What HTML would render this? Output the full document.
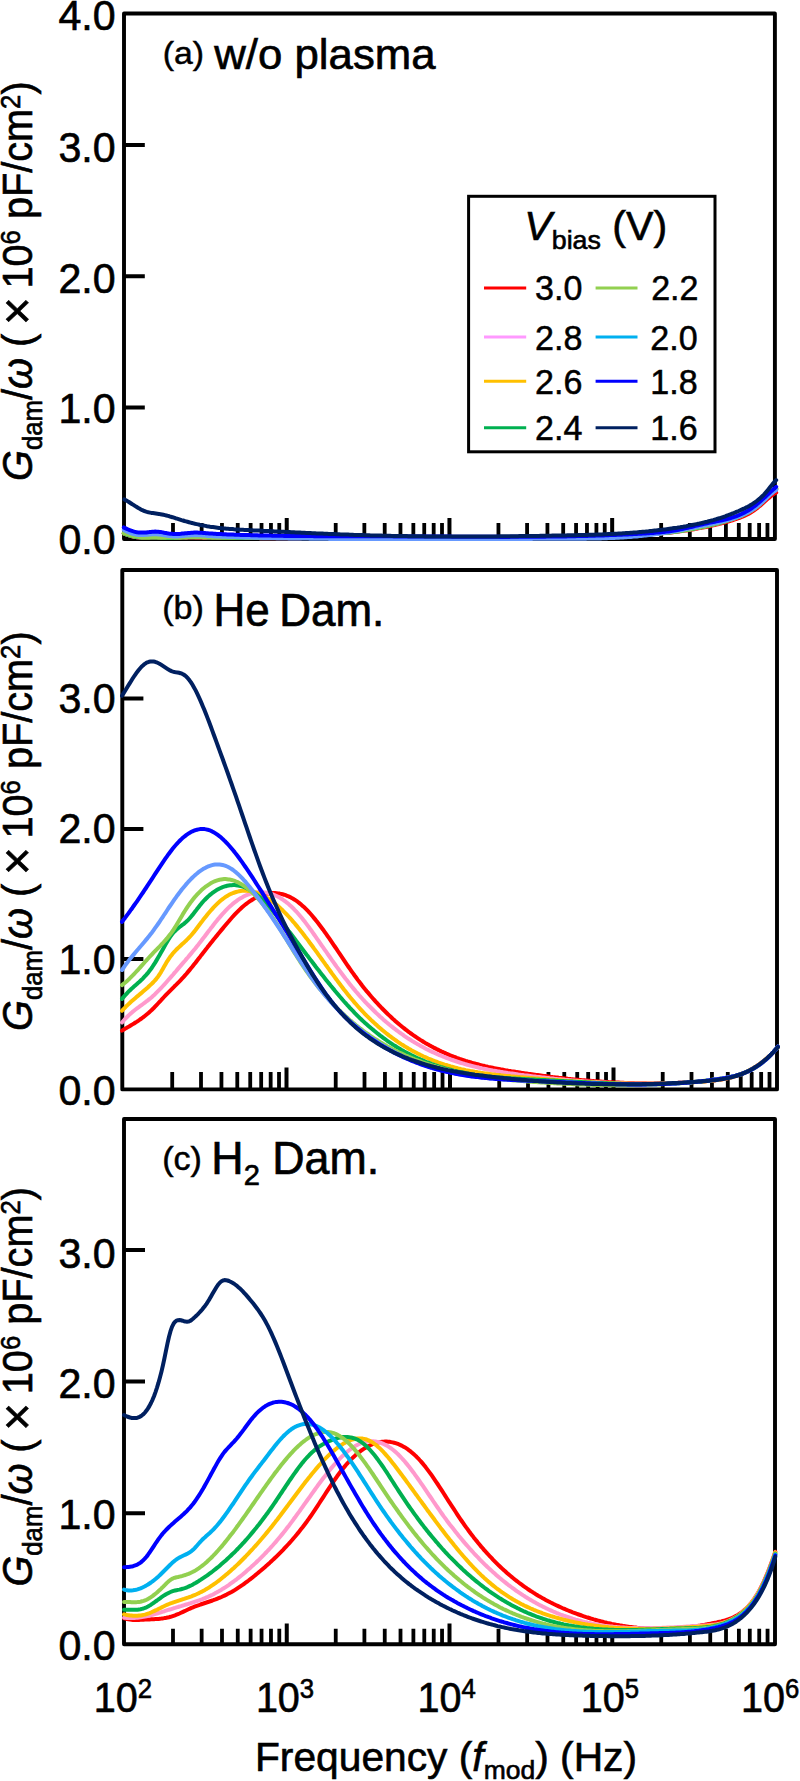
<!DOCTYPE html><html><head><meta charset="utf-8"><style>html,body{margin:0;padding:0;background:#fff;}svg{display:block;}</style></head><body>
<svg width="800" height="1781" viewBox="0 0 800 1781" font-family='"Liberation Sans", Arial, Helvetica, sans-serif'>
<rect width="100%" height="100%" fill="#fff"/>
<path d="M172.99,539.00 V523.00 M201.64,539.00 V523.00 M221.97,539.00 V523.00 M237.74,539.00 V523.00 M250.62,539.00 V523.00 M261.52,539.00 V523.00 M270.96,539.00 V523.00 M279.28,539.00 V523.00 M335.71,539.00 V523.00 M364.36,539.00 V523.00 M384.70,539.00 V523.00 M400.46,539.00 V523.00 M413.35,539.00 V523.00 M424.24,539.00 V523.00 M433.68,539.00 V523.00 M442.00,539.00 V523.00 M498.44,539.00 V523.00 M527.09,539.00 V523.00 M547.42,539.00 V523.00 M563.19,539.00 V523.00 M576.07,539.00 V523.00 M586.97,539.00 V523.00 M596.41,539.00 V523.00 M604.73,539.00 V523.00 M661.16,539.00 V523.00 M689.81,539.00 V523.00 M710.15,539.00 V523.00 M725.91,539.00 V523.00 M738.80,539.00 V523.00 M749.69,539.00 V523.00 M759.13,539.00 V523.00 M767.45,539.00 V523.00" stroke="#000" stroke-width="3.8" fill="none"/>
<path d="M286.73,539.00 V518.00 M449.45,539.00 V518.00 M612.17,539.00 V518.00 M124.00,407.60 H144.80 M124.00,276.20 H144.80 M124.00,144.90 H144.80" stroke="#000" stroke-width="4.0" fill="none"/>
<rect x="124.00" y="13.50" width="650.90" height="525.50" fill="none" stroke="#000" stroke-linejoin="round" stroke-width="3.9"/>
<g fill="none" stroke-width="4.0" stroke-linejoin="round" stroke-linecap="round">
<path d="M123.8,533.6 L125.2,534.2 L126.8,534.7 L128.2,535.2 L129.8,535.7 L131.2,536.1 L132.8,536.5 L134.2,536.8 L135.8,537.1 L137.2,537.3 L138.8,537.5 L140.2,537.6 L141.8,537.7 L143.2,537.7 L144.8,537.8 L146.2,537.8 L147.8,537.7 L149.2,537.7 L150.8,537.6 L152.2,537.6 L153.8,537.6 L155.2,537.6 L156.8,537.6 L158.2,537.6 L159.8,537.7 L161.2,537.8 L162.8,537.8 L164.2,537.9 L165.8,538.0 L167.2,538.0 L168.8,538.1 L170.2,538.1 L171.8,538.1 L173.2,538.0 L174.8,538.0 L176.2,537.9 L177.8,537.8 L179.2,537.8 L180.8,537.7 L182.2,537.7 L183.8,537.6 L185.2,537.6 L186.8,537.6 L188.2,537.6 L189.8,537.6 L191.2,537.6 L192.8,537.6 L194.2,537.6 L195.8,537.7 L197.2,537.7 L198.8,537.7 L200.2,537.7 L201.8,537.7 L203.2,537.7 L204.8,537.7 L206.2,537.7 L207.8,537.7 L209.2,537.7 L210.8,537.7 L212.2,537.7 L213.8,537.7 L215.2,537.7 L216.8,537.7 L218.2,537.7 L219.8,537.7 L221.2,537.7 L222.8,537.7 L224.2,537.7 L225.8,537.7 L227.2,537.7 L228.8,537.7 L230.2,537.7 L231.8,537.7 L233.2,537.7 L234.8,537.7 L236.2,537.7 L237.8,537.7 L239.2,537.7 L240.8,537.7 L242.2,537.7 L243.8,537.7 L245.2,537.7 L246.8,537.8 L248.2,537.8 L249.8,537.8 L251.2,537.8 L252.8,537.8 L254.2,537.8 L255.8,537.8 L257.2,537.8 L258.8,537.8 L260.2,537.8 L261.8,537.8 L263.2,537.8 L264.8,537.8 L266.2,537.8 L267.8,537.8 L269.2,537.8 L270.8,537.8 L272.2,537.8 L273.8,537.8 L275.2,537.9 L276.8,537.9 L278.2,537.9 L279.8,537.9 L281.2,537.9 L282.8,537.9 L284.2,537.9 L285.8,537.9 L287.2,537.9 L288.8,537.9 L290.2,537.9 L291.8,537.9 L293.2,537.9 L294.8,537.9 L296.2,537.9 L297.8,538.0 L299.2,538.0 L300.8,538.0 L302.2,538.0 L303.8,538.0 L305.2,538.0 L306.8,538.0 L308.2,538.0 L309.8,538.0 L311.2,538.0 L312.8,538.0 L314.2,538.0 L315.8,538.0 L317.2,538.0 L318.8,538.1 L320.2,538.1 L321.8,538.1 L323.2,538.1 L324.8,538.1 L326.2,538.1 L327.8,538.1 L329.2,538.1 L330.8,538.1 L332.2,538.1 L333.8,538.1 L335.2,538.1 L336.8,538.1 L338.2,538.1 L339.8,538.2 L341.2,538.2 L342.8,538.2 L344.2,538.2 L345.8,538.2 L347.2,538.2 L348.8,538.2 L350.2,538.2 L351.8,538.2 L353.2,538.2 L354.8,538.2 L356.2,538.2 L357.8,538.2 L359.2,538.2 L360.8,538.2 L362.2,538.3 L363.8,538.3 L365.2,538.3 L366.8,538.3 L368.2,538.3 L369.8,538.3 L371.2,538.3 L372.8,538.3 L374.2,538.3 L375.8,538.3 L377.2,538.3 L378.8,538.3 L380.2,538.3 L381.8,538.3 L383.2,538.3 L384.8,538.3 L386.2,538.3 L387.8,538.3 L389.2,538.3 L390.8,538.4 L392.2,538.4 L393.8,538.4 L395.2,538.4 L396.8,538.4 L398.2,538.4 L399.8,538.4 L401.2,538.4 L402.8,538.4 L404.2,538.4 L405.8,538.4 L407.2,538.4 L408.8,538.4 L410.2,538.4 L411.8,538.4 L413.2,538.4 L414.8,538.4 L416.2,538.4 L417.8,538.4 L419.2,538.4 L420.8,538.4 L422.2,538.4 L423.8,538.4 L425.2,538.4 L426.8,538.4 L428.2,538.4 L429.8,538.4 L431.2,538.4 L432.8,538.4 L434.2,538.4 L435.8,538.4 L437.2,538.4 L438.8,538.4 L440.2,538.4 L441.8,538.4 L443.2,538.4 L444.8,538.4 L446.2,538.4 L447.8,538.4 L449.2,538.4 L450.8,538.4 L452.2,538.4 L453.8,538.4 L455.2,538.4 L456.8,538.4 L458.2,538.4 L459.8,538.4 L461.2,538.4 L462.8,538.4 L464.2,538.3 L465.8,538.3 L467.2,538.3 L468.8,538.3 L470.2,538.3 L471.8,538.3 L473.2,538.3 L474.8,538.3 L476.2,538.3 L477.8,538.3 L479.2,538.3 L480.8,538.3 L482.2,538.3 L483.8,538.3 L485.2,538.2 L486.8,538.2 L488.2,538.2 L489.8,538.2 L491.2,538.2 L492.8,538.2 L494.2,538.2 L495.8,538.2 L497.2,538.2 L498.8,538.2 L500.2,538.1 L501.8,538.1 L503.2,538.1 L504.8,538.1 L506.2,538.1 L507.8,538.1 L509.2,538.1 L510.8,538.0 L512.2,538.0 L513.8,538.0 L515.2,538.0 L516.8,538.0 L518.2,538.0 L519.8,538.0 L521.2,537.9 L522.8,537.9 L524.2,537.9 L525.8,537.9 L527.2,537.9 L528.8,537.8 L530.2,537.8 L531.8,537.8 L533.2,537.8 L534.8,537.8 L536.2,537.7 L537.8,537.7 L539.2,537.7 L540.8,537.7 L542.2,537.7 L543.8,537.6 L545.2,537.6 L546.8,537.6 L548.2,537.6 L549.8,537.5 L551.2,537.5 L552.8,537.5 L554.2,537.5 L555.8,537.4 L557.2,537.4 L558.8,537.4 L560.2,537.4 L561.8,537.3 L563.2,537.3 L564.8,537.3 L566.2,537.2 L567.8,537.2 L569.2,537.2 L570.8,537.2 L572.2,537.1 L573.8,537.1 L575.2,537.1 L576.8,537.0 L578.2,537.0 L579.8,537.0 L581.2,536.9 L582.8,536.9 L584.2,536.9 L585.8,536.8 L587.2,536.8 L588.8,536.8 L590.2,536.7 L591.8,536.7 L593.2,536.6 L594.8,536.6 L596.2,536.6 L597.8,536.5 L599.2,536.5 L600.8,536.5 L602.2,536.4 L603.8,536.4 L605.2,536.3 L606.8,536.3 L608.2,536.2 L609.8,536.2 L611.2,536.2 L612.8,536.1 L614.2,536.1 L615.8,536.0 L617.2,536.0 L618.8,535.9 L620.2,535.9 L621.8,535.8 L623.2,535.7 L624.8,535.7 L626.2,535.6 L627.8,535.6 L629.2,535.5 L630.8,535.4 L632.2,535.4 L633.8,535.3 L635.2,535.2 L636.8,535.1 L638.2,535.0 L639.8,535.0 L641.2,534.9 L642.8,534.8 L644.2,534.7 L645.8,534.6 L647.2,534.5 L648.8,534.4 L650.2,534.3 L651.8,534.2 L653.2,534.1 L654.8,533.9 L656.2,533.8 L657.8,533.7 L659.2,533.6 L660.8,533.4 L662.2,533.3 L663.8,533.1 L665.2,533.0 L666.8,532.8 L668.2,532.7 L669.8,532.5 L671.2,532.4 L672.8,532.2 L674.2,532.0 L675.8,531.8 L677.2,531.6 L678.8,531.4 L680.2,531.3 L681.8,531.0 L683.2,530.8 L684.8,530.6 L686.2,530.4 L687.8,530.2 L689.2,529.9 L690.8,529.7 L692.2,529.5 L693.8,529.2 L695.2,529.0 L696.8,528.7 L698.2,528.4 L699.8,528.1 L701.2,527.9 L702.8,527.6 L704.2,527.3 L705.8,527.0 L707.2,526.7 L708.8,526.3 L710.2,526.0 L711.8,525.7 L713.2,525.3 L714.8,525.0 L716.2,524.6 L717.8,524.3 L719.2,523.9 L720.8,523.5 L722.2,523.1 L723.8,522.7 L725.2,522.3 L726.8,521.9 L728.2,521.5 L729.8,521.1 L731.2,520.6 L732.8,520.2 L734.2,519.7 L735.8,519.2 L737.2,518.7 L738.8,518.2 L740.2,517.6 L741.8,517.0 L743.2,516.4 L744.8,515.7 L746.2,515.0 L747.8,514.2 L749.2,513.4 L750.8,512.5 L752.2,511.6 L753.8,510.6 L755.2,509.5 L756.8,508.4 L758.2,507.2 L759.8,506.0 L761.2,504.7 L762.8,503.3 L764.2,502.0 L765.8,500.6 L767.2,499.3 L768.8,498.0 L770.2,496.7 L771.8,495.5 L773.2,494.4 L774.8,493.4 L776.2,492.5" stroke="#FF0000"/>
<path d="M123.8,533.5 L125.2,534.1 L126.8,534.6 L128.2,535.1 L129.8,535.6 L131.2,536.0 L132.8,536.4 L134.2,536.7 L135.8,537.0 L137.2,537.2 L138.8,537.3 L140.2,537.5 L141.8,537.6 L143.2,537.6 L144.8,537.6 L146.2,537.6 L147.8,537.6 L149.2,537.6 L150.8,537.5 L152.2,537.5 L153.8,537.5 L155.2,537.5 L156.8,537.5 L158.2,537.6 L159.8,537.6 L161.2,537.7 L162.8,537.8 L164.2,537.8 L165.8,537.9 L167.2,538.0 L168.8,538.0 L170.2,538.0 L171.8,538.0 L173.2,538.0 L174.8,537.9 L176.2,537.9 L177.8,537.8 L179.2,537.7 L180.8,537.6 L182.2,537.5 L183.8,537.5 L185.2,537.4 L186.8,537.4 L188.2,537.3 L189.8,537.3 L191.2,537.3 L192.8,537.3 L194.2,537.3 L195.8,537.3 L197.2,537.3 L198.8,537.3 L200.2,537.3 L201.8,537.3 L203.2,537.4 L204.8,537.4 L206.2,537.4 L207.8,537.5 L209.2,537.5 L210.8,537.5 L212.2,537.6 L213.8,537.6 L215.2,537.6 L216.8,537.7 L218.2,537.7 L219.8,537.7 L221.2,537.7 L222.8,537.8 L224.2,537.8 L225.8,537.8 L227.2,537.8 L228.8,537.9 L230.2,537.9 L231.8,537.9 L233.2,537.9 L234.8,537.9 L236.2,538.0 L237.8,538.0 L239.2,538.0 L240.8,538.0 L242.2,538.0 L243.8,538.0 L245.2,538.1 L246.8,538.1 L248.2,538.1 L249.8,538.1 L251.2,538.1 L252.8,538.1 L254.2,538.1 L255.8,538.1 L257.2,538.1 L258.8,538.1 L260.2,538.2 L261.8,538.2 L263.2,538.2 L264.8,538.2 L266.2,538.2 L267.8,538.2 L269.2,538.2 L270.8,538.2 L272.2,538.2 L273.8,538.2 L275.2,538.2 L276.8,538.2 L278.2,538.2 L279.8,538.2 L281.2,538.2 L282.8,538.2 L284.2,538.2 L285.8,538.2 L287.2,538.2 L288.8,538.2 L290.2,538.2 L291.8,538.2 L293.2,538.2 L294.8,538.2 L296.2,538.2 L297.8,538.2 L299.2,538.2 L300.8,538.2 L302.2,538.1 L303.8,538.1 L305.2,538.1 L306.8,538.1 L308.2,538.1 L309.8,538.1 L311.2,538.1 L312.8,538.1 L314.2,538.1 L315.8,538.1 L317.2,538.1 L318.8,538.1 L320.2,538.1 L321.8,538.1 L323.2,538.0 L324.8,538.0 L326.2,538.0 L327.8,538.0 L329.2,538.0 L330.8,538.0 L332.2,538.0 L333.8,538.0 L335.2,538.0 L336.8,538.0 L338.2,538.0 L339.8,537.9 L341.2,537.9 L342.8,537.9 L344.2,537.9 L345.8,537.9 L347.2,537.9 L348.8,537.9 L350.2,537.9 L351.8,537.9 L353.2,537.9 L354.8,537.9 L356.2,537.8 L357.8,537.8 L359.2,537.8 L360.8,537.8 L362.2,537.8 L363.8,537.8 L365.2,537.8 L366.8,537.8 L368.2,537.8 L369.8,537.8 L371.2,537.8 L372.8,537.8 L374.2,537.8 L375.8,537.7 L377.2,537.7 L378.8,537.7 L380.2,537.7 L381.8,537.7 L383.2,537.7 L384.8,537.7 L386.2,537.7 L387.8,537.7 L389.2,537.7 L390.8,537.7 L392.2,537.7 L393.8,537.7 L395.2,537.7 L396.8,537.7 L398.2,537.7 L399.8,537.7 L401.2,537.7 L402.8,537.7 L404.2,537.7 L405.8,537.7 L407.2,537.7 L408.8,537.7 L410.2,537.7 L411.8,537.7 L413.2,537.7 L414.8,537.7 L416.2,537.7 L417.8,537.7 L419.2,537.7 L420.8,537.7 L422.2,537.7 L423.8,537.7 L425.2,537.7 L426.8,537.7 L428.2,537.7 L429.8,537.7 L431.2,537.7 L432.8,537.7 L434.2,537.7 L435.8,537.8 L437.2,537.8 L438.8,537.8 L440.2,537.8 L441.8,537.8 L443.2,537.8 L444.8,537.8 L446.2,537.8 L447.8,537.8 L449.2,537.8 L450.8,537.8 L452.2,537.8 L453.8,537.8 L455.2,537.8 L456.8,537.8 L458.2,537.9 L459.8,537.9 L461.2,537.9 L462.8,537.9 L464.2,537.9 L465.8,537.9 L467.2,537.9 L468.8,537.9 L470.2,537.9 L471.8,537.9 L473.2,537.9 L474.8,537.9 L476.2,537.9 L477.8,537.9 L479.2,538.0 L480.8,538.0 L482.2,538.0 L483.8,538.0 L485.2,538.0 L486.8,538.0 L488.2,538.0 L489.8,538.0 L491.2,538.0 L492.8,538.0 L494.2,538.0 L495.8,538.0 L497.2,538.0 L498.8,538.0 L500.2,538.0 L501.8,538.0 L503.2,538.0 L504.8,538.0 L506.2,538.0 L507.8,538.0 L509.2,538.0 L510.8,538.0 L512.2,538.0 L513.8,538.0 L515.2,538.0 L516.8,538.0 L518.2,538.0 L519.8,538.0 L521.2,538.0 L522.8,538.0 L524.2,538.0 L525.8,538.0 L527.2,538.0 L528.8,538.0 L530.2,538.0 L531.8,538.0 L533.2,538.0 L534.8,538.0 L536.2,538.0 L537.8,538.0 L539.2,538.0 L540.8,538.0 L542.2,537.9 L543.8,537.9 L545.2,537.9 L546.8,537.9 L548.2,537.9 L549.8,537.9 L551.2,537.9 L552.8,537.9 L554.2,537.8 L555.8,537.8 L557.2,537.8 L558.8,537.8 L560.2,537.8 L561.8,537.8 L563.2,537.7 L564.8,537.7 L566.2,537.7 L567.8,537.7 L569.2,537.7 L570.8,537.6 L572.2,537.6 L573.8,537.6 L575.2,537.6 L576.8,537.5 L578.2,537.5 L579.8,537.5 L581.2,537.4 L582.8,537.4 L584.2,537.4 L585.8,537.4 L587.2,537.3 L588.8,537.3 L590.2,537.3 L591.8,537.2 L593.2,537.2 L594.8,537.1 L596.2,537.1 L597.8,537.1 L599.2,537.0 L600.8,537.0 L602.2,536.9 L603.8,536.9 L605.2,536.8 L606.8,536.8 L608.2,536.8 L609.8,536.7 L611.2,536.7 L612.8,536.6 L614.2,536.5 L615.8,536.5 L617.2,536.4 L618.8,536.4 L620.2,536.3 L621.8,536.2 L623.2,536.2 L624.8,536.1 L626.2,536.0 L627.8,536.0 L629.2,535.9 L630.8,535.8 L632.2,535.7 L633.8,535.6 L635.2,535.5 L636.8,535.4 L638.2,535.4 L639.8,535.3 L641.2,535.2 L642.8,535.0 L644.2,534.9 L645.8,534.8 L647.2,534.7 L648.8,534.6 L650.2,534.5 L651.8,534.3 L653.2,534.2 L654.8,534.1 L656.2,533.9 L657.8,533.8 L659.2,533.6 L660.8,533.5 L662.2,533.3 L663.8,533.2 L665.2,533.0 L666.8,532.8 L668.2,532.7 L669.8,532.5 L671.2,532.3 L672.8,532.1 L674.2,531.9 L675.8,531.7 L677.2,531.5 L678.8,531.3 L680.2,531.1 L681.8,530.8 L683.2,530.6 L684.8,530.4 L686.2,530.1 L687.8,529.9 L689.2,529.6 L690.8,529.4 L692.2,529.1 L693.8,528.8 L695.2,528.5 L696.8,528.2 L698.2,528.0 L699.8,527.7 L701.2,527.3 L702.8,527.0 L704.2,526.7 L705.8,526.4 L707.2,526.0 L708.8,525.7 L710.2,525.3 L711.8,525.0 L713.2,524.6 L714.8,524.2 L716.2,523.9 L717.8,523.5 L719.2,523.1 L720.8,522.6 L722.2,522.2 L723.8,521.8 L725.2,521.4 L726.8,520.9 L728.2,520.4 L729.8,520.0 L731.2,519.5 L732.8,519.0 L734.2,518.5 L735.8,518.0 L737.2,517.4 L738.8,516.9 L740.2,516.3 L741.8,515.6 L743.2,515.0 L744.8,514.2 L746.2,513.5 L747.8,512.7 L749.2,511.9 L750.8,511.0 L752.2,510.0 L753.8,509.0 L755.2,508.0 L756.8,506.9 L758.2,505.7 L759.8,504.4 L761.2,503.1 L762.8,501.7 L764.2,500.2 L765.8,498.7 L767.2,497.2 L768.8,495.7 L770.2,494.2 L771.8,492.8 L773.2,491.4 L774.8,490.1 L776.2,489.0" stroke="#FF99CC"/>
<path d="M123.8,533.3 L125.2,533.9 L126.8,534.4 L128.2,534.9 L129.8,535.4 L131.2,535.8 L132.8,536.2 L134.2,536.5 L135.8,536.8 L137.2,537.0 L138.8,537.1 L140.2,537.3 L141.8,537.4 L143.2,537.4 L144.8,537.4 L146.2,537.4 L147.8,537.4 L149.2,537.4 L150.8,537.3 L152.2,537.3 L153.8,537.3 L155.2,537.3 L156.8,537.3 L158.2,537.4 L159.8,537.4 L161.2,537.5 L162.8,537.6 L164.2,537.6 L165.8,537.7 L167.2,537.8 L168.8,537.8 L170.2,537.8 L171.8,537.8 L173.2,537.8 L174.8,537.7 L176.2,537.7 L177.8,537.6 L179.2,537.5 L180.8,537.4 L182.2,537.3 L183.8,537.3 L185.2,537.2 L186.8,537.2 L188.2,537.1 L189.8,537.1 L191.2,537.1 L192.8,537.1 L194.2,537.1 L195.8,537.1 L197.2,537.1 L198.8,537.1 L200.2,537.1 L201.8,537.1 L203.2,537.2 L204.8,537.2 L206.2,537.2 L207.8,537.3 L209.2,537.3 L210.8,537.3 L212.2,537.4 L213.8,537.4 L215.2,537.4 L216.8,537.5 L218.2,537.5 L219.8,537.5 L221.2,537.5 L222.8,537.6 L224.2,537.6 L225.8,537.6 L227.2,537.6 L228.8,537.7 L230.2,537.7 L231.8,537.7 L233.2,537.7 L234.8,537.7 L236.2,537.8 L237.8,537.8 L239.2,537.8 L240.8,537.8 L242.2,537.8 L243.8,537.8 L245.2,537.9 L246.8,537.9 L248.2,537.9 L249.8,537.9 L251.2,537.9 L252.8,537.9 L254.2,537.9 L255.8,537.9 L257.2,537.9 L258.8,537.9 L260.2,538.0 L261.8,538.0 L263.2,538.0 L264.8,538.0 L266.2,538.0 L267.8,538.0 L269.2,538.0 L270.8,538.0 L272.2,538.0 L273.8,538.0 L275.2,538.0 L276.8,538.0 L278.2,538.0 L279.8,538.0 L281.2,538.0 L282.8,538.0 L284.2,538.0 L285.8,538.0 L287.2,538.0 L288.8,538.0 L290.2,538.0 L291.8,538.0 L293.2,538.0 L294.8,538.0 L296.2,538.0 L297.8,538.0 L299.2,538.0 L300.8,538.0 L302.2,537.9 L303.8,537.9 L305.2,537.9 L306.8,537.9 L308.2,537.9 L309.8,537.9 L311.2,537.9 L312.8,537.9 L314.2,537.9 L315.8,537.9 L317.2,537.9 L318.8,537.9 L320.2,537.9 L321.8,537.9 L323.2,537.8 L324.8,537.8 L326.2,537.8 L327.8,537.8 L329.2,537.8 L330.8,537.8 L332.2,537.8 L333.8,537.8 L335.2,537.8 L336.8,537.8 L338.2,537.8 L339.8,537.7 L341.2,537.7 L342.8,537.7 L344.2,537.7 L345.8,537.7 L347.2,537.7 L348.8,537.7 L350.2,537.7 L351.8,537.7 L353.2,537.7 L354.8,537.7 L356.2,537.6 L357.8,537.6 L359.2,537.6 L360.8,537.6 L362.2,537.6 L363.8,537.6 L365.2,537.6 L366.8,537.6 L368.2,537.6 L369.8,537.6 L371.2,537.6 L372.8,537.6 L374.2,537.6 L375.8,537.5 L377.2,537.5 L378.8,537.5 L380.2,537.5 L381.8,537.5 L383.2,537.5 L384.8,537.5 L386.2,537.5 L387.8,537.5 L389.2,537.5 L390.8,537.5 L392.2,537.5 L393.8,537.5 L395.2,537.5 L396.8,537.5 L398.2,537.5 L399.8,537.5 L401.2,537.5 L402.8,537.5 L404.2,537.5 L405.8,537.5 L407.2,537.5 L408.8,537.5 L410.2,537.5 L411.8,537.5 L413.2,537.5 L414.8,537.5 L416.2,537.5 L417.8,537.5 L419.2,537.5 L420.8,537.5 L422.2,537.5 L423.8,537.5 L425.2,537.5 L426.8,537.5 L428.2,537.5 L429.8,537.5 L431.2,537.5 L432.8,537.5 L434.2,537.5 L435.8,537.6 L437.2,537.6 L438.8,537.6 L440.2,537.6 L441.8,537.6 L443.2,537.6 L444.8,537.6 L446.2,537.6 L447.8,537.6 L449.2,537.6 L450.8,537.6 L452.2,537.6 L453.8,537.6 L455.2,537.6 L456.8,537.6 L458.2,537.7 L459.8,537.7 L461.2,537.7 L462.8,537.7 L464.2,537.7 L465.8,537.7 L467.2,537.7 L468.8,537.7 L470.2,537.7 L471.8,537.7 L473.2,537.7 L474.8,537.7 L476.2,537.7 L477.8,537.7 L479.2,537.8 L480.8,537.8 L482.2,537.8 L483.8,537.8 L485.2,537.8 L486.8,537.8 L488.2,537.8 L489.8,537.8 L491.2,537.8 L492.8,537.8 L494.2,537.8 L495.8,537.8 L497.2,537.8 L498.8,537.8 L500.2,537.8 L501.8,537.8 L503.2,537.8 L504.8,537.8 L506.2,537.8 L507.8,537.8 L509.2,537.8 L510.8,537.8 L512.2,537.8 L513.8,537.8 L515.2,537.8 L516.8,537.8 L518.2,537.8 L519.8,537.8 L521.2,537.8 L522.8,537.8 L524.2,537.8 L525.8,537.8 L527.2,537.8 L528.8,537.8 L530.2,537.8 L531.8,537.8 L533.2,537.8 L534.8,537.8 L536.2,537.8 L537.8,537.8 L539.2,537.8 L540.8,537.8 L542.2,537.7 L543.8,537.7 L545.2,537.7 L546.8,537.7 L548.2,537.7 L549.8,537.7 L551.2,537.7 L552.8,537.7 L554.2,537.6 L555.8,537.6 L557.2,537.6 L558.8,537.6 L560.2,537.6 L561.8,537.6 L563.2,537.5 L564.8,537.5 L566.2,537.5 L567.8,537.5 L569.2,537.5 L570.8,537.4 L572.2,537.4 L573.8,537.4 L575.2,537.4 L576.8,537.3 L578.2,537.3 L579.8,537.3 L581.2,537.2 L582.8,537.2 L584.2,537.2 L585.8,537.2 L587.2,537.1 L588.8,537.1 L590.2,537.1 L591.8,537.0 L593.2,537.0 L594.8,536.9 L596.2,536.9 L597.8,536.9 L599.2,536.8 L600.8,536.8 L602.2,536.7 L603.8,536.7 L605.2,536.6 L606.8,536.6 L608.2,536.6 L609.8,536.5 L611.2,536.5 L612.8,536.4 L614.2,536.3 L615.8,536.3 L617.2,536.2 L618.8,536.2 L620.2,536.1 L621.8,536.0 L623.2,536.0 L624.8,535.9 L626.2,535.8 L627.8,535.8 L629.2,535.7 L630.8,535.6 L632.2,535.5 L633.8,535.4 L635.2,535.3 L636.8,535.2 L638.2,535.2 L639.8,535.1 L641.2,535.0 L642.8,534.8 L644.2,534.7 L645.8,534.6 L647.2,534.5 L648.8,534.4 L650.2,534.3 L651.8,534.1 L653.2,534.0 L654.8,533.9 L656.2,533.7 L657.8,533.6 L659.2,533.4 L660.8,533.3 L662.2,533.1 L663.8,533.0 L665.2,532.8 L666.8,532.6 L668.2,532.5 L669.8,532.3 L671.2,532.1 L672.8,531.9 L674.2,531.7 L675.8,531.5 L677.2,531.3 L678.8,531.1 L680.2,530.9 L681.8,530.6 L683.2,530.4 L684.8,530.2 L686.2,529.9 L687.8,529.7 L689.2,529.4 L690.8,529.2 L692.2,528.9 L693.8,528.6 L695.2,528.3 L696.8,528.0 L698.2,527.8 L699.8,527.5 L701.2,527.1 L702.8,526.8 L704.2,526.5 L705.8,526.2 L707.2,525.8 L708.8,525.5 L710.2,525.1 L711.8,524.8 L713.2,524.4 L714.8,524.0 L716.2,523.7 L717.8,523.3 L719.2,522.9 L720.8,522.4 L722.2,522.0 L723.8,521.6 L725.2,521.2 L726.8,520.7 L728.2,520.2 L729.8,519.8 L731.2,519.3 L732.8,518.8 L734.2,518.3 L735.8,517.8 L737.2,517.2 L738.8,516.7 L740.2,516.1 L741.8,515.4 L743.2,514.8 L744.8,514.0 L746.2,513.3 L747.8,512.5 L749.2,511.7 L750.8,510.8 L752.2,509.8 L753.8,508.8 L755.2,507.8 L756.8,506.7 L758.2,505.5 L759.8,504.2 L761.2,502.9 L762.8,501.5 L764.2,500.0 L765.8,498.5 L767.2,497.0 L768.8,495.5 L770.2,494.0 L771.8,492.6 L773.2,491.2 L774.8,489.9 L776.2,488.8" stroke="#FFC000"/>
<path d="M123.8,533.4 L125.2,534.0 L126.8,534.5 L128.2,535.0 L129.8,535.5 L131.2,535.9 L132.8,536.3 L134.2,536.6 L135.8,536.9 L137.2,537.1 L138.8,537.2 L140.2,537.4 L141.8,537.5 L143.2,537.5 L144.8,537.5 L146.2,537.5 L147.8,537.5 L149.2,537.5 L150.8,537.4 L152.2,537.4 L153.8,537.4 L155.2,537.4 L156.8,537.4 L158.2,537.5 L159.8,537.5 L161.2,537.6 L162.8,537.7 L164.2,537.7 L165.8,537.8 L167.2,537.9 L168.8,537.9 L170.2,537.9 L171.8,537.9 L173.2,537.9 L174.8,537.8 L176.2,537.8 L177.8,537.7 L179.2,537.6 L180.8,537.5 L182.2,537.4 L183.8,537.4 L185.2,537.3 L186.8,537.3 L188.2,537.2 L189.8,537.2 L191.2,537.2 L192.8,537.2 L194.2,537.2 L195.8,537.2 L197.2,537.2 L198.8,537.2 L200.2,537.2 L201.8,537.2 L203.2,537.3 L204.8,537.3 L206.2,537.3 L207.8,537.4 L209.2,537.4 L210.8,537.4 L212.2,537.5 L213.8,537.5 L215.2,537.5 L216.8,537.6 L218.2,537.6 L219.8,537.6 L221.2,537.6 L222.8,537.7 L224.2,537.7 L225.8,537.7 L227.2,537.7 L228.8,537.8 L230.2,537.8 L231.8,537.8 L233.2,537.8 L234.8,537.8 L236.2,537.9 L237.8,537.9 L239.2,537.9 L240.8,537.9 L242.2,537.9 L243.8,537.9 L245.2,538.0 L246.8,538.0 L248.2,538.0 L249.8,538.0 L251.2,538.0 L252.8,538.0 L254.2,538.0 L255.8,538.0 L257.2,538.0 L258.8,538.0 L260.2,538.1 L261.8,538.1 L263.2,538.1 L264.8,538.1 L266.2,538.1 L267.8,538.1 L269.2,538.1 L270.8,538.1 L272.2,538.1 L273.8,538.1 L275.2,538.1 L276.8,538.1 L278.2,538.1 L279.8,538.1 L281.2,538.1 L282.8,538.1 L284.2,538.1 L285.8,538.1 L287.2,538.1 L288.8,538.1 L290.2,538.1 L291.8,538.1 L293.2,538.1 L294.8,538.1 L296.2,538.1 L297.8,538.1 L299.2,538.1 L300.8,538.1 L302.2,538.0 L303.8,538.0 L305.2,538.0 L306.8,538.0 L308.2,538.0 L309.8,538.0 L311.2,538.0 L312.8,538.0 L314.2,538.0 L315.8,538.0 L317.2,538.0 L318.8,538.0 L320.2,538.0 L321.8,538.0 L323.2,537.9 L324.8,537.9 L326.2,537.9 L327.8,537.9 L329.2,537.9 L330.8,537.9 L332.2,537.9 L333.8,537.9 L335.2,537.9 L336.8,537.9 L338.2,537.9 L339.8,537.8 L341.2,537.8 L342.8,537.8 L344.2,537.8 L345.8,537.8 L347.2,537.8 L348.8,537.8 L350.2,537.8 L351.8,537.8 L353.2,537.8 L354.8,537.8 L356.2,537.7 L357.8,537.7 L359.2,537.7 L360.8,537.7 L362.2,537.7 L363.8,537.7 L365.2,537.7 L366.8,537.7 L368.2,537.7 L369.8,537.7 L371.2,537.7 L372.8,537.7 L374.2,537.7 L375.8,537.6 L377.2,537.6 L378.8,537.6 L380.2,537.6 L381.8,537.6 L383.2,537.6 L384.8,537.6 L386.2,537.6 L387.8,537.6 L389.2,537.6 L390.8,537.6 L392.2,537.6 L393.8,537.6 L395.2,537.6 L396.8,537.6 L398.2,537.6 L399.8,537.6 L401.2,537.6 L402.8,537.6 L404.2,537.6 L405.8,537.6 L407.2,537.6 L408.8,537.6 L410.2,537.6 L411.8,537.6 L413.2,537.6 L414.8,537.6 L416.2,537.6 L417.8,537.6 L419.2,537.6 L420.8,537.6 L422.2,537.6 L423.8,537.6 L425.2,537.6 L426.8,537.6 L428.2,537.6 L429.8,537.6 L431.2,537.6 L432.8,537.6 L434.2,537.6 L435.8,537.7 L437.2,537.7 L438.8,537.7 L440.2,537.7 L441.8,537.7 L443.2,537.7 L444.8,537.7 L446.2,537.7 L447.8,537.7 L449.2,537.7 L450.8,537.7 L452.2,537.7 L453.8,537.7 L455.2,537.7 L456.8,537.7 L458.2,537.8 L459.8,537.8 L461.2,537.8 L462.8,537.8 L464.2,537.8 L465.8,537.8 L467.2,537.8 L468.8,537.8 L470.2,537.8 L471.8,537.8 L473.2,537.8 L474.8,537.8 L476.2,537.8 L477.8,537.8 L479.2,537.9 L480.8,537.9 L482.2,537.9 L483.8,537.9 L485.2,537.9 L486.8,537.9 L488.2,537.9 L489.8,537.9 L491.2,537.9 L492.8,537.9 L494.2,537.9 L495.8,537.9 L497.2,537.9 L498.8,537.9 L500.2,537.9 L501.8,537.9 L503.2,537.9 L504.8,537.9 L506.2,537.9 L507.8,537.9 L509.2,537.9 L510.8,537.9 L512.2,537.9 L513.8,537.9 L515.2,537.9 L516.8,537.9 L518.2,537.9 L519.8,537.9 L521.2,537.9 L522.8,537.9 L524.2,537.9 L525.8,537.9 L527.2,537.9 L528.8,537.9 L530.2,537.9 L531.8,537.9 L533.2,537.9 L534.8,537.9 L536.2,537.9 L537.8,537.9 L539.2,537.9 L540.8,537.9 L542.2,537.8 L543.8,537.8 L545.2,537.8 L546.8,537.8 L548.2,537.8 L549.8,537.8 L551.2,537.8 L552.8,537.8 L554.2,537.7 L555.8,537.7 L557.2,537.7 L558.8,537.7 L560.2,537.7 L561.8,537.7 L563.2,537.6 L564.8,537.6 L566.2,537.6 L567.8,537.6 L569.2,537.6 L570.8,537.5 L572.2,537.5 L573.8,537.5 L575.2,537.5 L576.8,537.4 L578.2,537.4 L579.8,537.4 L581.2,537.3 L582.8,537.3 L584.2,537.3 L585.8,537.3 L587.2,537.2 L588.8,537.2 L590.2,537.2 L591.8,537.1 L593.2,537.1 L594.8,537.0 L596.2,537.0 L597.8,537.0 L599.2,536.9 L600.8,536.9 L602.2,536.8 L603.8,536.8 L605.2,536.7 L606.8,536.7 L608.2,536.7 L609.8,536.6 L611.2,536.6 L612.8,536.5 L614.2,536.4 L615.8,536.4 L617.2,536.3 L618.8,536.3 L620.2,536.2 L621.8,536.1 L623.2,536.1 L624.8,536.0 L626.2,535.9 L627.8,535.9 L629.2,535.8 L630.8,535.7 L632.2,535.6 L633.8,535.5 L635.2,535.4 L636.8,535.3 L638.2,535.3 L639.8,535.2 L641.2,535.1 L642.8,534.9 L644.2,534.8 L645.8,534.7 L647.2,534.6 L648.8,534.5 L650.2,534.4 L651.8,534.2 L653.2,534.1 L654.8,534.0 L656.2,533.8 L657.8,533.7 L659.2,533.5 L660.8,533.4 L662.2,533.2 L663.8,533.1 L665.2,532.9 L666.8,532.7 L668.2,532.6 L669.8,532.4 L671.2,532.2 L672.8,532.0 L674.2,531.8 L675.8,531.6 L677.2,531.4 L678.8,531.2 L680.2,531.0 L681.8,530.7 L683.2,530.5 L684.8,530.3 L686.2,530.0 L687.8,529.8 L689.2,529.5 L690.8,529.3 L692.2,529.0 L693.8,528.7 L695.2,528.4 L696.8,528.1 L698.2,527.9 L699.8,527.6 L701.2,527.2 L702.8,526.9 L704.2,526.6 L705.8,526.3 L707.2,525.9 L708.8,525.6 L710.2,525.2 L711.8,524.9 L713.2,524.5 L714.8,524.1 L716.2,523.8 L717.8,523.4 L719.2,523.0 L720.8,522.5 L722.2,522.1 L723.8,521.7 L725.2,521.3 L726.8,520.8 L728.2,520.3 L729.8,519.9 L731.2,519.4 L732.8,518.9 L734.2,518.4 L735.8,517.9 L737.2,517.3 L738.8,516.8 L740.2,516.2 L741.8,515.5 L743.2,514.9 L744.8,514.1 L746.2,513.4 L747.8,512.6 L749.2,511.8 L750.8,510.9 L752.2,509.9 L753.8,508.9 L755.2,507.9 L756.8,506.8 L758.2,505.6 L759.8,504.3 L761.2,503.0 L762.8,501.6 L764.2,500.1 L765.8,498.6 L767.2,497.1 L768.8,495.6 L770.2,494.1 L771.8,492.7 L773.2,491.3 L774.8,490.0 L776.2,488.9" stroke="#00B050"/>
<path d="M123.8,533.1 L125.2,533.7 L126.8,534.2 L128.2,534.7 L129.8,535.2 L131.2,535.6 L132.8,536.0 L134.2,536.3 L135.8,536.6 L137.2,536.8 L138.8,536.9 L140.2,537.1 L141.8,537.2 L143.2,537.2 L144.8,537.2 L146.2,537.2 L147.8,537.2 L149.2,537.2 L150.8,537.1 L152.2,537.1 L153.8,537.1 L155.2,537.1 L156.8,537.1 L158.2,537.2 L159.8,537.2 L161.2,537.3 L162.8,537.4 L164.2,537.4 L165.8,537.5 L167.2,537.6 L168.8,537.6 L170.2,537.6 L171.8,537.6 L173.2,537.6 L174.8,537.5 L176.2,537.5 L177.8,537.4 L179.2,537.3 L180.8,537.2 L182.2,537.1 L183.8,537.1 L185.2,537.0 L186.8,537.0 L188.2,536.9 L189.8,536.9 L191.2,536.9 L192.8,536.9 L194.2,536.9 L195.8,536.9 L197.2,536.9 L198.8,536.9 L200.2,536.9 L201.8,536.9 L203.2,537.0 L204.8,537.0 L206.2,537.0 L207.8,537.1 L209.2,537.1 L210.8,537.1 L212.2,537.2 L213.8,537.2 L215.2,537.2 L216.8,537.3 L218.2,537.3 L219.8,537.3 L221.2,537.3 L222.8,537.4 L224.2,537.4 L225.8,537.4 L227.2,537.4 L228.8,537.5 L230.2,537.5 L231.8,537.5 L233.2,537.5 L234.8,537.5 L236.2,537.6 L237.8,537.6 L239.2,537.6 L240.8,537.6 L242.2,537.6 L243.8,537.6 L245.2,537.7 L246.8,537.7 L248.2,537.7 L249.8,537.7 L251.2,537.7 L252.8,537.7 L254.2,537.7 L255.8,537.7 L257.2,537.7 L258.8,537.7 L260.2,537.8 L261.8,537.8 L263.2,537.8 L264.8,537.8 L266.2,537.8 L267.8,537.8 L269.2,537.8 L270.8,537.8 L272.2,537.8 L273.8,537.8 L275.2,537.8 L276.8,537.8 L278.2,537.8 L279.8,537.8 L281.2,537.8 L282.8,537.8 L284.2,537.8 L285.8,537.8 L287.2,537.8 L288.8,537.8 L290.2,537.8 L291.8,537.8 L293.2,537.8 L294.8,537.8 L296.2,537.8 L297.8,537.8 L299.2,537.8 L300.8,537.8 L302.2,537.7 L303.8,537.7 L305.2,537.7 L306.8,537.7 L308.2,537.7 L309.8,537.7 L311.2,537.7 L312.8,537.7 L314.2,537.7 L315.8,537.7 L317.2,537.7 L318.8,537.7 L320.2,537.7 L321.8,537.7 L323.2,537.6 L324.8,537.6 L326.2,537.6 L327.8,537.6 L329.2,537.6 L330.8,537.6 L332.2,537.6 L333.8,537.6 L335.2,537.6 L336.8,537.6 L338.2,537.6 L339.8,537.5 L341.2,537.5 L342.8,537.5 L344.2,537.5 L345.8,537.5 L347.2,537.5 L348.8,537.5 L350.2,537.5 L351.8,537.5 L353.2,537.5 L354.8,537.5 L356.2,537.4 L357.8,537.4 L359.2,537.4 L360.8,537.4 L362.2,537.4 L363.8,537.4 L365.2,537.4 L366.8,537.4 L368.2,537.4 L369.8,537.4 L371.2,537.4 L372.8,537.4 L374.2,537.4 L375.8,537.3 L377.2,537.3 L378.8,537.3 L380.2,537.3 L381.8,537.3 L383.2,537.3 L384.8,537.3 L386.2,537.3 L387.8,537.3 L389.2,537.3 L390.8,537.3 L392.2,537.3 L393.8,537.3 L395.2,537.3 L396.8,537.3 L398.2,537.3 L399.8,537.3 L401.2,537.3 L402.8,537.3 L404.2,537.3 L405.8,537.3 L407.2,537.3 L408.8,537.3 L410.2,537.3 L411.8,537.3 L413.2,537.3 L414.8,537.3 L416.2,537.3 L417.8,537.3 L419.2,537.3 L420.8,537.3 L422.2,537.3 L423.8,537.3 L425.2,537.3 L426.8,537.3 L428.2,537.3 L429.8,537.3 L431.2,537.3 L432.8,537.3 L434.2,537.3 L435.8,537.4 L437.2,537.4 L438.8,537.4 L440.2,537.4 L441.8,537.4 L443.2,537.4 L444.8,537.4 L446.2,537.4 L447.8,537.4 L449.2,537.4 L450.8,537.4 L452.2,537.4 L453.8,537.4 L455.2,537.4 L456.8,537.4 L458.2,537.5 L459.8,537.5 L461.2,537.5 L462.8,537.5 L464.2,537.5 L465.8,537.5 L467.2,537.5 L468.8,537.5 L470.2,537.5 L471.8,537.5 L473.2,537.5 L474.8,537.5 L476.2,537.5 L477.8,537.5 L479.2,537.6 L480.8,537.6 L482.2,537.6 L483.8,537.6 L485.2,537.6 L486.8,537.6 L488.2,537.6 L489.8,537.6 L491.2,537.6 L492.8,537.6 L494.2,537.6 L495.8,537.6 L497.2,537.6 L498.8,537.6 L500.2,537.6 L501.8,537.6 L503.2,537.6 L504.8,537.6 L506.2,537.6 L507.8,537.6 L509.2,537.6 L510.8,537.6 L512.2,537.6 L513.8,537.6 L515.2,537.6 L516.8,537.6 L518.2,537.6 L519.8,537.6 L521.2,537.6 L522.8,537.6 L524.2,537.6 L525.8,537.6 L527.2,537.6 L528.8,537.6 L530.2,537.6 L531.8,537.6 L533.2,537.6 L534.8,537.6 L536.2,537.6 L537.8,537.6 L539.2,537.6 L540.8,537.6 L542.2,537.5 L543.8,537.5 L545.2,537.5 L546.8,537.5 L548.2,537.5 L549.8,537.5 L551.2,537.5 L552.8,537.5 L554.2,537.4 L555.8,537.4 L557.2,537.4 L558.8,537.4 L560.2,537.4 L561.8,537.4 L563.2,537.3 L564.8,537.3 L566.2,537.3 L567.8,537.3 L569.2,537.3 L570.8,537.2 L572.2,537.2 L573.8,537.2 L575.2,537.2 L576.8,537.1 L578.2,537.1 L579.8,537.1 L581.2,537.0 L582.8,537.0 L584.2,537.0 L585.8,537.0 L587.2,536.9 L588.8,536.9 L590.2,536.9 L591.8,536.8 L593.2,536.8 L594.8,536.7 L596.2,536.7 L597.8,536.7 L599.2,536.6 L600.8,536.6 L602.2,536.5 L603.8,536.5 L605.2,536.4 L606.8,536.4 L608.2,536.4 L609.8,536.3 L611.2,536.3 L612.8,536.2 L614.2,536.1 L615.8,536.1 L617.2,536.0 L618.8,536.0 L620.2,535.9 L621.8,535.8 L623.2,535.8 L624.8,535.7 L626.2,535.6 L627.8,535.6 L629.2,535.5 L630.8,535.4 L632.2,535.3 L633.8,535.2 L635.2,535.1 L636.8,535.0 L638.2,535.0 L639.8,534.9 L641.2,534.8 L642.8,534.6 L644.2,534.5 L645.8,534.4 L647.2,534.3 L648.8,534.2 L650.2,534.1 L651.8,533.9 L653.2,533.8 L654.8,533.7 L656.2,533.5 L657.8,533.4 L659.2,533.2 L660.8,533.1 L662.2,532.9 L663.8,532.8 L665.2,532.6 L666.8,532.4 L668.2,532.3 L669.8,532.1 L671.2,531.9 L672.8,531.7 L674.2,531.5 L675.8,531.3 L677.2,531.1 L678.8,530.9 L680.2,530.7 L681.8,530.4 L683.2,530.2 L684.8,530.0 L686.2,529.7 L687.8,529.5 L689.2,529.2 L690.8,529.0 L692.2,528.7 L693.8,528.4 L695.2,528.1 L696.8,527.8 L698.2,527.6 L699.8,527.3 L701.2,526.9 L702.8,526.6 L704.2,526.3 L705.8,526.0 L707.2,525.6 L708.8,525.3 L710.2,524.9 L711.8,524.6 L713.2,524.2 L714.8,523.8 L716.2,523.5 L717.8,523.1 L719.2,522.7 L720.8,522.2 L722.2,521.8 L723.8,521.4 L725.2,521.0 L726.8,520.5 L728.2,520.0 L729.8,519.6 L731.2,519.1 L732.8,518.6 L734.2,518.1 L735.8,517.6 L737.2,517.0 L738.8,516.5 L740.2,515.9 L741.8,515.2 L743.2,514.6 L744.8,513.8 L746.2,513.1 L747.8,512.3 L749.2,511.5 L750.8,510.6 L752.2,509.6 L753.8,508.6 L755.2,507.6 L756.8,506.5 L758.2,505.3 L759.8,504.0 L761.2,502.7 L762.8,501.3 L764.2,499.8 L765.8,498.3 L767.2,496.8 L768.8,495.3 L770.2,493.8 L771.8,492.4 L773.2,491.0 L774.8,489.7 L776.2,488.6" stroke="#92D050"/>
<path d="M123.8,529.9 L125.2,530.7 L126.8,531.5 L128.2,532.2 L129.8,532.8 L131.2,533.3 L132.8,533.8 L134.2,534.2 L135.8,534.5 L137.2,534.7 L138.8,534.9 L140.2,535.0 L141.8,535.0 L143.2,535.0 L144.8,534.9 L146.2,534.8 L147.8,534.7 L149.2,534.6 L150.8,534.4 L152.2,534.3 L153.8,534.3 L155.2,534.2 L156.8,534.3 L158.2,534.4 L159.8,534.5 L161.2,534.7 L162.8,535.0 L164.2,535.2 L165.8,535.4 L167.2,535.7 L168.8,535.9 L170.2,536.1 L171.8,536.3 L173.2,536.4 L174.8,536.4 L176.2,536.4 L177.8,536.4 L179.2,536.3 L180.8,536.2 L182.2,536.1 L183.8,535.9 L185.2,535.8 L186.8,535.6 L188.2,535.5 L189.8,535.4 L191.2,535.3 L192.8,535.2 L194.2,535.2 L195.8,535.2 L197.2,535.2 L198.8,535.3 L200.2,535.3 L201.8,535.4 L203.2,535.5 L204.8,535.6 L206.2,535.7 L207.8,535.9 L209.2,536.0 L210.8,536.1 L212.2,536.2 L213.8,536.3 L215.2,536.4 L216.8,536.4 L218.2,536.5 L219.8,536.6 L221.2,536.7 L222.8,536.7 L224.2,536.8 L225.8,536.8 L227.2,536.9 L228.8,536.9 L230.2,537.0 L231.8,537.0 L233.2,537.1 L234.8,537.1 L236.2,537.2 L237.8,537.2 L239.2,537.3 L240.8,537.3 L242.2,537.3 L243.8,537.4 L245.2,537.4 L246.8,537.5 L248.2,537.5 L249.8,537.5 L251.2,537.6 L252.8,537.6 L254.2,537.7 L255.8,537.7 L257.2,537.7 L258.8,537.8 L260.2,537.8 L261.8,537.8 L263.2,537.9 L264.8,537.9 L266.2,537.9 L267.8,538.0 L269.2,538.0 L270.8,538.0 L272.2,538.1 L273.8,538.1 L275.2,538.1 L276.8,538.2 L278.2,538.2 L279.8,538.2 L281.2,538.2 L282.8,538.3 L284.2,538.3 L285.8,538.3 L287.2,538.3 L288.8,538.4 L290.2,538.4 L291.8,538.4 L293.2,538.4 L294.8,538.5 L296.2,538.5 L297.8,538.5 L299.2,538.5 L300.8,538.5 L302.2,538.6 L303.8,538.6 L305.2,538.6 L306.8,538.6 L308.2,538.6 L309.8,538.7 L311.2,538.7 L312.8,538.7 L314.2,538.7 L315.8,538.7 L317.2,538.7 L318.8,538.8 L320.2,538.8 L321.8,538.8 L323.2,538.8 L324.8,538.8 L326.2,538.8 L327.8,538.8 L329.2,538.9 L330.8,538.9 L332.2,538.9 L333.8,538.9 L335.2,538.9 L336.8,538.9 L338.2,538.9 L339.8,538.9 L341.2,538.9 L342.8,539.0 L344.2,539.0 L345.8,539.0 L347.2,539.0 L348.8,539.0 L350.2,539.0 L351.8,539.0 L353.2,539.0 L354.8,539.0 L356.2,539.0 L357.8,539.0 L359.2,539.0 L360.8,539.0 L362.2,539.1 L363.8,539.1 L365.2,539.1 L366.8,539.1 L368.2,539.1 L369.8,539.1 L371.2,539.1 L372.8,539.1 L374.2,539.1 L375.8,539.1 L377.2,539.1 L378.8,539.1 L380.2,539.1 L381.8,539.1 L383.2,539.1 L384.8,539.1 L386.2,539.1 L387.8,539.1 L389.2,539.1 L390.8,539.1 L392.2,539.1 L393.8,539.1 L395.2,539.1 L396.8,539.1 L398.2,539.1 L399.8,539.1 L401.2,539.1 L402.8,539.1 L404.2,539.1 L405.8,539.1 L407.2,539.1 L408.8,539.1 L410.2,539.1 L411.8,539.1 L413.2,539.1 L414.8,539.1 L416.2,539.1 L417.8,539.1 L419.2,539.1 L420.8,539.1 L422.2,539.1 L423.8,539.1 L425.2,539.1 L426.8,539.1 L428.2,539.1 L429.8,539.1 L431.2,539.1 L432.8,539.1 L434.2,539.1 L435.8,539.1 L437.2,539.1 L438.8,539.1 L440.2,539.1 L441.8,539.1 L443.2,539.1 L444.8,539.1 L446.2,539.1 L447.8,539.1 L449.2,539.1 L450.8,539.1 L452.2,539.1 L453.8,539.1 L455.2,539.1 L456.8,539.1 L458.2,539.1 L459.8,539.1 L461.2,539.0 L462.8,539.0 L464.2,539.0 L465.8,539.0 L467.2,539.0 L468.8,539.0 L470.2,539.0 L471.8,539.0 L473.2,539.0 L474.8,539.0 L476.2,539.0 L477.8,539.0 L479.2,539.0 L480.8,539.0 L482.2,539.0 L483.8,539.0 L485.2,539.0 L486.8,539.0 L488.2,539.0 L489.8,539.0 L491.2,539.0 L492.8,539.0 L494.2,539.0 L495.8,539.0 L497.2,539.0 L498.8,538.9 L500.2,538.9 L501.8,538.9 L503.2,538.9 L504.8,538.9 L506.2,538.9 L507.8,538.9 L509.2,538.9 L510.8,538.9 L512.2,538.9 L513.8,538.9 L515.2,538.9 L516.8,538.9 L518.2,538.9 L519.8,538.9 L521.2,538.9 L522.8,538.9 L524.2,538.9 L525.8,538.9 L527.2,538.9 L528.8,538.9 L530.2,538.9 L531.8,538.9 L533.2,538.8 L534.8,538.8 L536.2,538.8 L537.8,538.8 L539.2,538.8 L540.8,538.8 L542.2,538.8 L543.8,538.8 L545.2,538.8 L546.8,538.8 L548.2,538.8 L549.8,538.8 L551.2,538.8 L552.8,538.8 L554.2,538.8 L555.8,538.8 L557.2,538.8 L558.8,538.8 L560.2,538.8 L561.8,538.8 L563.2,538.8 L564.8,538.8 L566.2,538.8 L567.8,538.8 L569.2,538.8 L570.8,538.8 L572.2,538.8 L573.8,538.7 L575.2,538.7 L576.8,538.7 L578.2,538.7 L579.8,538.7 L581.2,538.7 L582.8,538.7 L584.2,538.7 L585.8,538.7 L587.2,538.6 L588.8,538.6 L590.2,538.6 L591.8,538.6 L593.2,538.5 L594.8,538.5 L596.2,538.5 L597.8,538.4 L599.2,538.4 L600.8,538.4 L602.2,538.3 L603.8,538.3 L605.2,538.2 L606.8,538.2 L608.2,538.1 L609.8,538.1 L611.2,538.0 L612.8,538.0 L614.2,537.9 L615.8,537.8 L617.2,537.7 L618.8,537.7 L620.2,537.6 L621.8,537.5 L623.2,537.4 L624.8,537.3 L626.2,537.2 L627.8,537.1 L629.2,537.0 L630.8,536.9 L632.2,536.7 L633.8,536.6 L635.2,536.5 L636.8,536.4 L638.2,536.2 L639.8,536.1 L641.2,535.9 L642.8,535.8 L644.2,535.6 L645.8,535.4 L647.2,535.3 L648.8,535.1 L650.2,534.9 L651.8,534.7 L653.2,534.5 L654.8,534.3 L656.2,534.1 L657.8,533.9 L659.2,533.7 L660.8,533.5 L662.2,533.2 L663.8,533.0 L665.2,532.8 L666.8,532.5 L668.2,532.3 L669.8,532.1 L671.2,531.8 L672.8,531.6 L674.2,531.3 L675.8,531.0 L677.2,530.8 L678.8,530.5 L680.2,530.2 L681.8,530.0 L683.2,529.7 L684.8,529.4 L686.2,529.1 L687.8,528.8 L689.2,528.5 L690.8,528.3 L692.2,528.0 L693.8,527.7 L695.2,527.4 L696.8,527.0 L698.2,526.7 L699.8,526.4 L701.2,526.1 L702.8,525.8 L704.2,525.5 L705.8,525.2 L707.2,524.8 L708.8,524.5 L710.2,524.2 L711.8,523.9 L713.2,523.5 L714.8,523.2 L716.2,522.8 L717.8,522.5 L719.2,522.2 L720.8,521.8 L722.2,521.5 L723.8,521.1 L725.2,520.8 L726.8,520.4 L728.2,520.0 L729.8,519.6 L731.2,519.1 L732.8,518.7 L734.2,518.2 L735.8,517.7 L737.2,517.2 L738.8,516.6 L740.2,516.0 L741.8,515.4 L743.2,514.7 L744.8,514.0 L746.2,513.2 L747.8,512.5 L749.2,511.6 L750.8,510.7 L752.2,509.8 L753.8,508.8 L755.2,507.8 L756.8,506.7 L758.2,505.5 L759.8,504.3 L761.2,503.0 L762.8,501.7 L764.2,500.3 L765.8,498.9 L767.2,497.5 L768.8,496.1 L770.2,494.7 L771.8,493.4 L773.2,492.2 L774.8,491.0 L776.2,490.0" stroke="#6699FF"/>
<path d="M123.8,527.4 L125.2,528.2 L126.8,528.9 L128.2,529.5 L129.8,530.2 L131.2,530.7 L132.8,531.2 L134.2,531.6 L135.8,532.0 L137.2,532.3 L138.8,532.5 L140.2,532.6 L141.8,532.6 L143.2,532.6 L144.8,532.5 L146.2,532.4 L147.8,532.2 L149.2,532.1 L150.8,531.9 L152.2,531.8 L153.8,531.7 L155.2,531.6 L156.8,531.7 L158.2,531.8 L159.8,531.9 L161.2,532.1 L162.8,532.4 L164.2,532.7 L165.8,532.9 L167.2,533.2 L168.8,533.5 L170.2,533.7 L171.8,533.8 L173.2,534.0 L174.8,534.0 L176.2,534.0 L177.8,534.0 L179.2,533.9 L180.8,533.8 L182.2,533.6 L183.8,533.5 L185.2,533.3 L186.8,533.2 L188.2,533.0 L189.8,532.9 L191.2,532.8 L192.8,532.7 L194.2,532.6 L195.8,532.6 L197.2,532.6 L198.8,532.7 L200.2,532.8 L201.8,532.8 L203.2,532.9 L204.8,533.0 L206.2,533.2 L207.8,533.3 L209.2,533.4 L210.8,533.5 L212.2,533.6 L213.8,533.7 L215.2,533.8 L216.8,533.9 L218.2,534.0 L219.8,534.1 L221.2,534.1 L222.8,534.2 L224.2,534.3 L225.8,534.3 L227.2,534.4 L228.8,534.5 L230.2,534.5 L231.8,534.6 L233.2,534.6 L234.8,534.7 L236.2,534.7 L237.8,534.8 L239.2,534.8 L240.8,534.9 L242.2,534.9 L243.8,535.0 L245.2,535.0 L246.8,535.1 L248.2,535.1 L249.8,535.1 L251.2,535.2 L252.8,535.2 L254.2,535.3 L255.8,535.3 L257.2,535.3 L258.8,535.4 L260.2,535.4 L261.8,535.4 L263.2,535.5 L264.8,535.5 L266.2,535.5 L267.8,535.6 L269.2,535.6 L270.8,535.6 L272.2,535.7 L273.8,535.7 L275.2,535.7 L276.8,535.7 L278.2,535.8 L279.8,535.8 L281.2,535.8 L282.8,535.8 L284.2,535.9 L285.8,535.9 L287.2,535.9 L288.8,535.9 L290.2,535.9 L291.8,536.0 L293.2,536.0 L294.8,536.0 L296.2,536.0 L297.8,536.0 L299.2,536.0 L300.8,536.0 L302.2,536.1 L303.8,536.1 L305.2,536.1 L306.8,536.1 L308.2,536.1 L309.8,536.1 L311.2,536.1 L312.8,536.1 L314.2,536.2 L315.8,536.2 L317.2,536.2 L318.8,536.2 L320.2,536.2 L321.8,536.2 L323.2,536.2 L324.8,536.2 L326.2,536.2 L327.8,536.2 L329.2,536.2 L330.8,536.2 L332.2,536.2 L333.8,536.2 L335.2,536.2 L336.8,536.3 L338.2,536.3 L339.8,536.3 L341.2,536.3 L342.8,536.3 L344.2,536.3 L345.8,536.3 L347.2,536.3 L348.8,536.3 L350.2,536.3 L351.8,536.3 L353.2,536.3 L354.8,536.3 L356.2,536.3 L357.8,536.3 L359.2,536.3 L360.8,536.3 L362.2,536.3 L363.8,536.3 L365.2,536.3 L366.8,536.3 L368.2,536.3 L369.8,536.3 L371.2,536.3 L372.8,536.3 L374.2,536.3 L375.8,536.3 L377.2,536.3 L378.8,536.3 L380.2,536.3 L381.8,536.3 L383.2,536.3 L384.8,536.3 L386.2,536.3 L387.8,536.3 L389.2,536.3 L390.8,536.3 L392.2,536.3 L393.8,536.4 L395.2,536.4 L396.8,536.4 L398.2,536.4 L399.8,536.4 L401.2,536.4 L402.8,536.4 L404.2,536.4 L405.8,536.4 L407.2,536.4 L408.8,536.4 L410.2,536.4 L411.8,536.4 L413.2,536.4 L414.8,536.4 L416.2,536.4 L417.8,536.5 L419.2,536.5 L420.8,536.5 L422.2,536.5 L423.8,536.5 L425.2,536.5 L426.8,536.5 L428.2,536.5 L429.8,536.5 L431.2,536.5 L432.8,536.5 L434.2,536.5 L435.8,536.6 L437.2,536.6 L438.8,536.6 L440.2,536.6 L441.8,536.6 L443.2,536.6 L444.8,536.6 L446.2,536.6 L447.8,536.6 L449.2,536.6 L450.8,536.6 L452.2,536.7 L453.8,536.7 L455.2,536.7 L456.8,536.7 L458.2,536.7 L459.8,536.7 L461.2,536.7 L462.8,536.7 L464.2,536.7 L465.8,536.7 L467.2,536.7 L468.8,536.8 L470.2,536.8 L471.8,536.8 L473.2,536.8 L474.8,536.8 L476.2,536.8 L477.8,536.8 L479.2,536.8 L480.8,536.8 L482.2,536.8 L483.8,536.8 L485.2,536.8 L486.8,536.8 L488.2,536.8 L489.8,536.8 L491.2,536.8 L492.8,536.8 L494.2,536.8 L495.8,536.8 L497.2,536.8 L498.8,536.8 L500.2,536.9 L501.8,536.9 L503.2,536.9 L504.8,536.9 L506.2,536.9 L507.8,536.9 L509.2,536.9 L510.8,536.8 L512.2,536.8 L513.8,536.8 L515.2,536.8 L516.8,536.8 L518.2,536.8 L519.8,536.8 L521.2,536.8 L522.8,536.8 L524.2,536.8 L525.8,536.8 L527.2,536.8 L528.8,536.8 L530.2,536.8 L531.8,536.8 L533.2,536.8 L534.8,536.7 L536.2,536.7 L537.8,536.7 L539.2,536.7 L540.8,536.7 L542.2,536.7 L543.8,536.7 L545.2,536.7 L546.8,536.6 L548.2,536.6 L549.8,536.6 L551.2,536.6 L552.8,536.6 L554.2,536.5 L555.8,536.5 L557.2,536.5 L558.8,536.5 L560.2,536.5 L561.8,536.4 L563.2,536.4 L564.8,536.4 L566.2,536.4 L567.8,536.3 L569.2,536.3 L570.8,536.3 L572.2,536.2 L573.8,536.2 L575.2,536.2 L576.8,536.1 L578.2,536.1 L579.8,536.1 L581.2,536.0 L582.8,536.0 L584.2,536.0 L585.8,535.9 L587.2,535.9 L588.8,535.8 L590.2,535.8 L591.8,535.8 L593.2,535.7 L594.8,535.7 L596.2,535.6 L597.8,535.6 L599.2,535.5 L600.8,535.5 L602.2,535.4 L603.8,535.4 L605.2,535.3 L606.8,535.3 L608.2,535.2 L609.8,535.1 L611.2,535.1 L612.8,535.0 L614.2,535.0 L615.8,534.9 L617.2,534.8 L618.8,534.8 L620.2,534.7 L621.8,534.7 L623.2,534.6 L624.8,534.5 L626.2,534.4 L627.8,534.4 L629.2,534.3 L630.8,534.2 L632.2,534.2 L633.8,534.1 L635.2,534.0 L636.8,533.9 L638.2,533.8 L639.8,533.8 L641.2,533.7 L642.8,533.6 L644.2,533.5 L645.8,533.4 L647.2,533.3 L648.8,533.2 L650.2,533.1 L651.8,533.0 L653.2,532.9 L654.8,532.8 L656.2,532.6 L657.8,532.5 L659.2,532.4 L660.8,532.2 L662.2,532.1 L663.8,531.9 L665.2,531.7 L666.8,531.6 L668.2,531.4 L669.8,531.2 L671.2,530.9 L672.8,530.7 L674.2,530.5 L675.8,530.2 L677.2,530.0 L678.8,529.7 L680.2,529.4 L681.8,529.1 L683.2,528.8 L684.8,528.4 L686.2,528.1 L687.8,527.8 L689.2,527.4 L690.8,527.0 L692.2,526.7 L693.8,526.3 L695.2,525.9 L696.8,525.6 L698.2,525.2 L699.8,524.9 L701.2,524.5 L702.8,524.2 L704.2,523.8 L705.8,523.5 L707.2,523.2 L708.8,522.9 L710.2,522.6 L711.8,522.3 L713.2,522.0 L714.8,521.7 L716.2,521.4 L717.8,521.1 L719.2,520.8 L720.8,520.5 L722.2,520.2 L723.8,519.8 L725.2,519.5 L726.8,519.1 L728.2,518.7 L729.8,518.3 L731.2,517.8 L732.8,517.4 L734.2,516.9 L735.8,516.3 L737.2,515.8 L738.8,515.2 L740.2,514.5 L741.8,513.8 L743.2,513.1 L744.8,512.4 L746.2,511.5 L747.8,510.7 L749.2,509.8 L750.8,508.8 L752.2,507.8 L753.8,506.7 L755.2,505.6 L756.8,504.4 L758.2,503.1 L759.8,501.8 L761.2,500.5 L762.8,499.1 L764.2,497.8 L765.8,496.4 L767.2,494.9 L768.8,493.5 L770.2,492.1 L771.8,490.8 L773.2,489.4 L774.8,488.1 L776.2,486.8" stroke="#0000FF"/>
<path d="M124.4,499.4 L125.9,500.2 L127.4,501.1 L128.9,502.0 L130.4,503.0 L131.9,504.0 L133.4,504.9 L134.9,505.9 L136.4,506.8 L137.9,507.7 L139.4,508.6 L140.9,509.4 L142.4,510.2 L143.9,510.8 L145.4,511.4 L146.9,511.9 L148.4,512.3 L149.9,512.6 L151.4,512.9 L152.9,513.1 L154.4,513.3 L155.9,513.5 L157.4,513.7 L158.9,513.9 L160.4,514.2 L161.9,514.5 L163.4,514.8 L164.9,515.1 L166.4,515.5 L167.9,515.9 L169.4,516.3 L170.9,516.8 L172.4,517.2 L173.9,517.7 L175.4,518.2 L177.0,518.6 L178.5,519.1 L180.0,519.6 L181.5,520.1 L183.0,520.5 L184.5,521.0 L186.0,521.4 L187.5,521.8 L189.0,522.2 L190.5,522.6 L192.0,523.0 L193.5,523.4 L195.0,523.8 L196.5,524.1 L198.0,524.4 L199.5,524.8 L201.0,525.1 L202.5,525.4 L204.0,525.6 L205.5,525.9 L207.0,526.2 L208.5,526.4 L210.0,526.7 L211.5,526.9 L213.0,527.1 L214.5,527.3 L216.0,527.5 L217.5,527.7 L219.0,527.9 L220.5,528.0 L222.0,528.2 L223.5,528.4 L225.0,528.5 L226.5,528.7 L228.0,528.8 L229.5,528.9 L231.0,529.0 L232.5,529.1 L234.0,529.3 L235.5,529.4 L237.0,529.5 L238.5,529.6 L240.0,529.7 L241.5,529.7 L243.0,529.8 L244.5,529.9 L246.0,530.0 L247.5,530.1 L249.0,530.1 L250.5,530.2 L252.1,530.3 L253.6,530.4 L255.1,530.4 L256.6,530.5 L258.1,530.6 L259.6,530.6 L261.1,530.7 L262.6,530.8 L264.1,530.9 L265.6,530.9 L267.1,531.0 L268.6,531.1 L270.1,531.1 L271.6,531.2 L273.1,531.3 L274.6,531.4 L276.1,531.4 L277.6,531.5 L279.1,531.6 L280.6,531.7 L282.1,531.7 L283.6,531.8 L285.1,531.9 L286.6,531.9 L288.1,532.0 L289.6,532.1 L291.1,532.2 L292.6,532.2 L294.1,532.3 L295.6,532.4 L297.1,532.4 L298.6,532.5 L300.1,532.6 L301.6,532.7 L303.1,532.7 L304.6,532.8 L306.1,532.9 L307.6,532.9 L309.1,533.0 L310.6,533.1 L312.1,533.2 L313.6,533.2 L315.1,533.3 L316.6,533.4 L318.1,533.4 L319.6,533.5 L321.1,533.6 L322.6,533.6 L324.1,533.7 L325.6,533.8 L327.2,533.8 L328.7,533.9 L330.2,533.9 L331.7,534.0 L333.2,534.1 L334.7,534.1 L336.2,534.2 L337.7,534.3 L339.2,534.3 L340.7,534.4 L342.2,534.4 L343.7,534.5 L345.2,534.5 L346.7,534.6 L348.2,534.6 L349.7,534.7 L351.2,534.8 L352.7,534.8 L354.2,534.9 L355.7,534.9 L357.2,535.0 L358.7,535.0 L360.2,535.1 L361.7,535.1 L363.2,535.1 L364.7,535.2 L366.2,535.2 L367.7,535.3 L369.2,535.3 L370.7,535.4 L372.2,535.4 L373.7,535.4 L375.2,535.5 L376.7,535.5 L378.2,535.6 L379.7,535.6 L381.2,535.6 L382.7,535.7 L384.2,535.7 L385.7,535.7 L387.2,535.8 L388.7,535.8 L390.2,535.8 L391.7,535.9 L393.2,535.9 L394.7,535.9 L396.2,536.0 L397.7,536.0 L399.2,536.0 L400.7,536.0 L402.3,536.1 L403.8,536.1 L405.3,536.1 L406.8,536.1 L408.3,536.2 L409.8,536.2 L411.3,536.2 L412.8,536.2 L414.3,536.2 L415.8,536.3 L417.3,536.3 L418.8,536.3 L420.3,536.3 L421.8,536.3 L423.3,536.3 L424.8,536.4 L426.3,536.4 L427.8,536.4 L429.3,536.4 L430.8,536.4 L432.3,536.4 L433.8,536.4 L435.3,536.4 L436.8,536.5 L438.3,536.5 L439.8,536.5 L441.3,536.5 L442.8,536.5 L444.3,536.5 L445.8,536.5 L447.3,536.5 L448.8,536.5 L450.3,536.5 L451.8,536.5 L453.3,536.5 L454.8,536.5 L456.3,536.5 L457.8,536.5 L459.3,536.5 L460.8,536.5 L462.3,536.5 L463.8,536.5 L465.3,536.5 L466.8,536.5 L468.3,536.5 L469.8,536.5 L471.3,536.5 L472.8,536.5 L474.3,536.5 L475.8,536.5 L477.4,536.5 L478.9,536.5 L480.4,536.5 L481.9,536.5 L483.4,536.5 L484.9,536.5 L486.4,536.4 L487.9,536.4 L489.4,536.4 L490.9,536.4 L492.4,536.4 L493.9,536.4 L495.4,536.4 L496.9,536.4 L498.4,536.4 L499.9,536.3 L501.4,536.3 L502.9,536.3 L504.4,536.3 L505.9,536.3 L507.4,536.3 L508.9,536.3 L510.4,536.2 L511.9,536.2 L513.4,536.2 L514.9,536.2 L516.4,536.2 L517.9,536.2 L519.4,536.1 L520.9,536.1 L522.4,536.1 L523.9,536.1 L525.4,536.1 L526.9,536.0 L528.4,536.0 L529.9,536.0 L531.4,536.0 L532.9,535.9 L534.4,535.9 L535.9,535.9 L537.4,535.9 L538.9,535.9 L540.4,535.8 L541.9,535.8 L543.4,535.8 L544.9,535.8 L546.4,535.7 L547.9,535.7 L549.4,535.7 L550.9,535.7 L552.5,535.6 L554.0,535.6 L555.5,535.6 L557.0,535.5 L558.5,535.5 L560.0,535.5 L561.5,535.5 L563.0,535.4 L564.5,535.4 L566.0,535.4 L567.5,535.3 L569.0,535.3 L570.5,535.3 L572.0,535.3 L573.5,535.2 L575.0,535.2 L576.5,535.2 L578.0,535.1 L579.5,535.1 L581.0,535.0 L582.5,535.0 L584.0,535.0 L585.5,534.9 L587.0,534.9 L588.5,534.8 L590.0,534.8 L591.5,534.7 L593.0,534.7 L594.5,534.7 L596.0,534.6 L597.5,534.5 L599.0,534.5 L600.5,534.4 L602.0,534.4 L603.5,534.3 L605.0,534.3 L606.5,534.2 L608.0,534.1 L609.5,534.1 L611.0,534.0 L612.5,533.9 L614.0,533.8 L615.5,533.8 L617.0,533.7 L618.5,533.6 L620.0,533.5 L621.5,533.4 L623.0,533.3 L624.5,533.2 L626.0,533.1 L627.6,533.0 L629.1,532.9 L630.6,532.8 L632.1,532.7 L633.6,532.6 L635.1,532.5 L636.6,532.4 L638.1,532.2 L639.6,532.1 L641.1,532.0 L642.6,531.8 L644.1,531.7 L645.6,531.6 L647.1,531.4 L648.6,531.3 L650.1,531.1 L651.6,531.0 L653.1,530.8 L654.6,530.6 L656.1,530.5 L657.6,530.3 L659.1,530.1 L660.6,529.9 L662.1,529.8 L663.6,529.6 L665.1,529.4 L666.6,529.2 L668.1,529.0 L669.6,528.8 L671.1,528.6 L672.6,528.3 L674.1,528.1 L675.6,527.9 L677.1,527.7 L678.6,527.4 L680.1,527.2 L681.6,526.9 L683.1,526.7 L684.6,526.4 L686.1,526.2 L687.6,525.9 L689.1,525.6 L690.6,525.3 L692.1,525.0 L693.6,524.7 L695.1,524.4 L696.6,524.1 L698.1,523.8 L699.6,523.5 L701.1,523.1 L702.7,522.8 L704.2,522.4 L705.7,522.0 L707.2,521.7 L708.7,521.3 L710.2,520.9 L711.7,520.5 L713.2,520.1 L714.7,519.6 L716.2,519.2 L717.7,518.7 L719.2,518.3 L720.7,517.8 L722.2,517.3 L723.7,516.8 L725.2,516.3 L726.7,515.7 L728.2,515.2 L729.7,514.6 L731.2,514.0 L732.7,513.5 L734.2,512.9 L735.7,512.2 L737.2,511.6 L738.7,511.0 L740.2,510.3 L741.7,509.6 L743.2,508.9 L744.7,508.2 L746.2,507.4 L747.7,506.7 L749.2,505.9 L750.7,505.0 L752.2,504.1 L753.7,503.1 L755.2,502.1 L756.7,501.0 L758.2,499.8 L759.7,498.6 L761.2,497.2 L762.7,495.8 L764.2,494.3 L765.7,492.6 L767.2,490.9 L768.7,489.0 L770.2,487.1 L771.7,485.2 L773.2,483.3 L774.7,481.6 L776.2,480.1" stroke="#002060"/>
</g>
<path d="M172.22,1089.40 V1072.00 M201.01,1089.40 V1072.00 M221.44,1089.40 V1072.00 M237.28,1089.40 V1072.00 M250.23,1089.40 V1072.00 M261.17,1089.40 V1072.00 M270.66,1089.40 V1072.00 M279.02,1089.40 V1072.00 M335.72,1089.40 V1072.00 M364.51,1089.40 V1072.00 M384.94,1089.40 V1072.00 M400.78,1089.40 V1072.00 M413.73,1089.40 V1072.00 M424.67,1089.40 V1072.00 M434.16,1089.40 V1072.00 M442.52,1089.40 V1072.00 M499.22,1089.40 V1072.00 M528.01,1089.40 V1072.00 M548.44,1089.40 V1072.00 M564.28,1089.40 V1072.00 M577.23,1089.40 V1072.00 M588.17,1089.40 V1072.00 M597.66,1089.40 V1072.00 M606.02,1089.40 V1072.00 M662.72,1089.40 V1072.00 M691.51,1089.40 V1072.00 M711.94,1089.40 V1072.00 M727.78,1089.40 V1072.00 M740.73,1089.40 V1072.00 M751.67,1089.40 V1072.00 M761.16,1089.40 V1072.00 M769.52,1089.40 V1072.00" stroke="#000" stroke-width="3.8" fill="none"/>
<path d="M286.50,1089.40 V1067.40 M450.00,1089.40 V1067.40 M613.50,1089.40 V1067.40 M122.30,959.10 H143.40 M122.30,828.90 H143.40 M122.30,698.60 H143.40" stroke="#000" stroke-width="4.0" fill="none"/>
<rect x="122.30" y="570.00" width="654.70" height="519.40" fill="none" stroke="#000" stroke-linejoin="round" stroke-width="3.9"/>
<g fill="none" stroke-width="4.0" stroke-linejoin="round" stroke-linecap="round">
<path d="M122.0,1030.6 L123.5,1029.7 L125.0,1028.8 L126.5,1027.9 L128.0,1027.1 L129.5,1026.2 L131.0,1025.3 L132.5,1024.4 L134.0,1023.5 L135.5,1022.5 L137.0,1021.6 L138.5,1020.6 L140.0,1019.5 L141.5,1018.5 L143.0,1017.4 L144.5,1016.2 L146.0,1015.0 L147.5,1013.8 L149.0,1012.5 L150.5,1011.1 L152.0,1009.7 L153.5,1008.3 L155.0,1006.7 L156.5,1005.1 L158.0,1003.5 L159.5,1001.9 L161.0,1000.3 L162.5,998.6 L164.0,997.0 L165.5,995.4 L167.0,993.8 L168.5,992.3 L170.0,990.8 L171.5,989.3 L173.0,987.8 L174.5,986.3 L176.0,984.9 L177.5,983.4 L179.0,981.9 L180.5,980.3 L182.0,978.7 L183.5,977.1 L185.0,975.4 L186.5,973.7 L188.0,971.9 L189.5,970.1 L191.0,968.3 L192.5,966.5 L194.0,964.6 L195.5,962.7 L197.0,960.7 L198.5,958.8 L200.0,956.9 L201.5,954.9 L203.0,953.0 L204.6,951.0 L206.1,949.1 L207.6,947.1 L209.1,945.2 L210.6,943.3 L212.1,941.4 L213.6,939.5 L215.1,937.7 L216.6,935.9 L218.1,934.0 L219.6,932.2 L221.1,930.4 L222.6,928.6 L224.1,926.8 L225.6,925.0 L227.1,923.2 L228.6,921.5 L230.1,919.7 L231.6,918.0 L233.1,916.3 L234.6,914.7 L236.1,913.1 L237.6,911.6 L239.1,910.1 L240.6,908.7 L242.1,907.3 L243.6,906.0 L245.1,904.8 L246.6,903.6 L248.1,902.5 L249.6,901.4 L251.1,900.5 L252.6,899.5 L254.1,898.6 L255.6,897.8 L257.1,897.1 L258.6,896.4 L260.1,895.8 L261.6,895.2 L263.1,894.7 L264.6,894.3 L266.1,893.9 L267.6,893.6 L269.1,893.4 L270.6,893.2 L272.1,893.1 L273.6,893.1 L275.1,893.1 L276.6,893.2 L278.1,893.4 L279.6,893.6 L281.1,893.9 L282.6,894.3 L284.1,894.7 L285.6,895.2 L287.1,895.8 L288.6,896.4 L290.1,897.1 L291.6,897.9 L293.1,898.8 L294.6,899.7 L296.1,900.7 L297.6,901.7 L299.1,902.9 L300.6,904.1 L302.1,905.4 L303.6,906.7 L305.1,908.2 L306.6,909.7 L308.1,911.2 L309.6,912.8 L311.1,914.5 L312.6,916.3 L314.1,918.1 L315.6,919.9 L317.1,921.8 L318.6,923.7 L320.1,925.7 L321.6,927.7 L323.1,929.7 L324.6,931.8 L326.1,933.9 L327.6,936.1 L329.1,938.2 L330.6,940.4 L332.1,942.6 L333.6,944.8 L335.1,947.0 L336.6,949.2 L338.1,951.5 L339.6,953.7 L341.1,955.9 L342.6,958.1 L344.1,960.4 L345.6,962.6 L347.1,964.8 L348.6,967.0 L350.1,969.1 L351.6,971.3 L353.1,973.4 L354.6,975.5 L356.1,977.5 L357.6,979.6 L359.1,981.6 L360.6,983.5 L362.1,985.5 L363.6,987.4 L365.1,989.3 L366.6,991.1 L368.2,992.9 L369.7,994.7 L371.2,996.5 L372.7,998.2 L374.2,999.9 L375.7,1001.6 L377.2,1003.2 L378.7,1004.8 L380.2,1006.4 L381.7,1008.0 L383.2,1009.5 L384.7,1011.0 L386.2,1012.5 L387.7,1014.0 L389.2,1015.4 L390.7,1016.8 L392.2,1018.2 L393.7,1019.6 L395.2,1020.9 L396.7,1022.2 L398.2,1023.5 L399.7,1024.8 L401.2,1026.0 L402.7,1027.2 L404.2,1028.4 L405.7,1029.6 L407.2,1030.7 L408.7,1031.9 L410.2,1033.0 L411.7,1034.0 L413.2,1035.1 L414.7,1036.1 L416.2,1037.2 L417.7,1038.2 L419.2,1039.1 L420.7,1040.1 L422.2,1041.0 L423.7,1042.0 L425.2,1042.9 L426.7,1043.7 L428.2,1044.6 L429.7,1045.4 L431.2,1046.3 L432.7,1047.1 L434.2,1047.9 L435.7,1048.6 L437.2,1049.4 L438.7,1050.1 L440.2,1050.9 L441.7,1051.6 L443.2,1052.2 L444.7,1052.9 L446.2,1053.6 L447.7,1054.2 L449.2,1054.9 L450.7,1055.5 L452.2,1056.1 L453.7,1056.7 L455.2,1057.2 L456.7,1057.8 L458.2,1058.3 L459.7,1058.9 L461.2,1059.4 L462.7,1059.9 L464.2,1060.4 L465.7,1060.9 L467.2,1061.3 L468.7,1061.8 L470.2,1062.2 L471.7,1062.7 L473.2,1063.1 L474.7,1063.5 L476.2,1063.9 L477.7,1064.3 L479.2,1064.7 L480.7,1065.1 L482.2,1065.5 L483.7,1065.8 L485.2,1066.2 L486.7,1066.5 L488.2,1066.9 L489.7,1067.2 L491.2,1067.5 L492.7,1067.8 L494.2,1068.1 L495.7,1068.4 L497.2,1068.7 L498.7,1069.0 L500.2,1069.3 L501.7,1069.6 L503.2,1069.8 L504.7,1070.1 L506.2,1070.4 L507.7,1070.6 L509.2,1070.9 L510.7,1071.1 L512.2,1071.4 L513.7,1071.6 L515.2,1071.8 L516.7,1072.1 L518.2,1072.3 L519.7,1072.5 L521.2,1072.8 L522.7,1073.0 L524.2,1073.2 L525.7,1073.4 L527.2,1073.6 L528.7,1073.9 L530.2,1074.1 L531.7,1074.3 L533.3,1074.5 L534.8,1074.7 L536.3,1074.9 L537.8,1075.1 L539.3,1075.3 L540.8,1075.5 L542.3,1075.7 L543.8,1075.9 L545.3,1076.1 L546.8,1076.3 L548.3,1076.5 L549.8,1076.7 L551.3,1076.9 L552.8,1077.1 L554.3,1077.2 L555.8,1077.4 L557.3,1077.6 L558.8,1077.8 L560.3,1077.9 L561.8,1078.1 L563.3,1078.3 L564.8,1078.4 L566.3,1078.6 L567.8,1078.8 L569.3,1078.9 L570.8,1079.1 L572.3,1079.2 L573.8,1079.4 L575.3,1079.5 L576.8,1079.7 L578.3,1079.8 L579.8,1079.9 L581.3,1080.1 L582.8,1080.2 L584.3,1080.3 L585.8,1080.5 L587.3,1080.6 L588.8,1080.7 L590.3,1080.8 L591.8,1081.0 L593.3,1081.1 L594.8,1081.2 L596.3,1081.3 L597.8,1081.4 L599.3,1081.5 L600.8,1081.6 L602.3,1081.7 L603.8,1081.8 L605.3,1081.9 L606.8,1082.0 L608.3,1082.1 L609.8,1082.2 L611.3,1082.2 L612.8,1082.3 L614.3,1082.4 L615.8,1082.5 L617.3,1082.6 L618.8,1082.6 L620.3,1082.7 L621.8,1082.7 L623.3,1082.8 L624.8,1082.9 L626.3,1082.9 L627.8,1083.0 L629.3,1083.0 L630.8,1083.1 L632.3,1083.1 L633.8,1083.1 L635.3,1083.2 L636.8,1083.2 L638.3,1083.2 L639.8,1083.3 L641.3,1083.3 L642.8,1083.3 L644.3,1083.3 L645.8,1083.3 L647.3,1083.4 L648.8,1083.4 L650.3,1083.4 L651.8,1083.4 L653.3,1083.4 L654.8,1083.4 L656.3,1083.4 L657.8,1083.3 L659.3,1083.3 L660.8,1083.3 L662.3,1083.3 L663.8,1083.3 L665.3,1083.2 L666.8,1083.2 L668.3,1083.2 L669.8,1083.1 L671.3,1083.1 L672.8,1083.1 L674.3,1083.0 L675.8,1083.0 L677.3,1082.9 L678.8,1082.8 L680.3,1082.8 L681.8,1082.7 L683.3,1082.7 L684.8,1082.6 L686.3,1082.5 L687.8,1082.4 L689.3,1082.3 L690.8,1082.3 L692.3,1082.2 L693.8,1082.1 L695.3,1082.0 L696.9,1081.9 L698.4,1081.8 L699.9,1081.7 L701.4,1081.6 L702.9,1081.4 L704.4,1081.3 L705.9,1081.2 L707.4,1081.1 L708.9,1080.9 L710.4,1080.8 L711.9,1080.6 L713.4,1080.5 L714.9,1080.3 L716.4,1080.1 L717.9,1079.9 L719.4,1079.7 L720.9,1079.5 L722.4,1079.2 L723.9,1078.9 L725.4,1078.7 L726.9,1078.3 L728.4,1078.0 L729.9,1077.7 L731.4,1077.3 L732.9,1076.9 L734.4,1076.4 L735.9,1076.0 L737.4,1075.5 L738.9,1075.0 L740.4,1074.4 L741.9,1073.8 L743.4,1073.2 L744.9,1072.6 L746.4,1071.9 L747.9,1071.2 L749.4,1070.4 L750.9,1069.6 L752.4,1068.8 L753.9,1067.9 L755.4,1066.9 L756.9,1066.0 L758.4,1065.0 L759.9,1063.9 L761.4,1062.8 L762.9,1061.6 L764.4,1060.4 L765.9,1059.2 L767.4,1057.9 L768.9,1056.5 L770.4,1055.1 L771.9,1053.6 L773.4,1052.1 L774.9,1050.5 L776.4,1048.8 L777.9,1047.1" stroke="#FF0000"/>
<path d="M122.0,1022.5 L123.5,1020.7 L125.0,1019.0 L126.5,1017.5 L128.0,1016.0 L129.5,1014.6 L131.0,1013.2 L132.5,1011.9 L134.0,1010.7 L135.5,1009.5 L137.0,1008.4 L138.5,1007.3 L140.0,1006.2 L141.5,1005.1 L143.0,1004.0 L144.5,1002.9 L146.0,1001.7 L147.5,1000.6 L149.0,999.4 L150.5,998.2 L152.0,996.9 L153.5,995.6 L155.0,994.2 L156.5,992.7 L158.0,991.2 L159.5,989.7 L161.0,988.1 L162.5,986.5 L164.0,984.9 L165.5,983.2 L167.0,981.5 L168.5,979.8 L170.0,978.1 L171.5,976.4 L173.0,974.7 L174.5,972.9 L176.0,971.2 L177.5,969.4 L179.0,967.6 L180.5,965.9 L182.0,964.1 L183.5,962.4 L185.0,960.7 L186.5,958.9 L188.0,957.2 L189.5,955.4 L191.0,953.6 L192.5,951.8 L194.0,950.0 L195.5,948.2 L197.0,946.3 L198.5,944.4 L200.0,942.4 L201.5,940.5 L203.0,938.5 L204.6,936.5 L206.1,934.5 L207.6,932.5 L209.1,930.6 L210.6,928.6 L212.1,926.7 L213.6,924.7 L215.1,922.8 L216.6,921.0 L218.1,919.1 L219.6,917.4 L221.1,915.6 L222.6,913.9 L224.1,912.3 L225.6,910.7 L227.1,909.1 L228.6,907.6 L230.1,906.2 L231.6,904.9 L233.1,903.6 L234.6,902.4 L236.1,901.3 L237.6,900.2 L239.1,899.2 L240.6,898.2 L242.1,897.4 L243.6,896.6 L245.1,895.8 L246.6,895.1 L248.1,894.5 L249.6,894.0 L251.1,893.5 L252.6,893.1 L254.1,892.8 L255.6,892.6 L257.1,892.4 L258.6,892.2 L260.1,892.2 L261.6,892.2 L263.1,892.3 L264.6,892.4 L266.1,892.6 L267.6,892.9 L269.1,893.3 L270.6,893.7 L272.1,894.2 L273.6,894.7 L275.1,895.4 L276.6,896.0 L278.1,896.8 L279.6,897.6 L281.1,898.5 L282.6,899.5 L284.1,900.6 L285.6,901.7 L287.1,902.8 L288.6,904.1 L290.1,905.4 L291.6,906.8 L293.1,908.2 L294.6,909.8 L296.1,911.3 L297.6,913.0 L299.1,914.7 L300.6,916.5 L302.1,918.3 L303.6,920.2 L305.1,922.1 L306.6,924.1 L308.1,926.1 L309.6,928.2 L311.1,930.2 L312.6,932.3 L314.1,934.5 L315.6,936.6 L317.1,938.8 L318.6,940.9 L320.1,943.1 L321.6,945.3 L323.1,947.4 L324.6,949.6 L326.1,951.7 L327.6,953.9 L329.1,956.0 L330.6,958.2 L332.1,960.3 L333.6,962.4 L335.1,964.5 L336.6,966.6 L338.1,968.6 L339.6,970.7 L341.1,972.7 L342.6,974.7 L344.1,976.7 L345.6,978.7 L347.1,980.6 L348.6,982.5 L350.1,984.4 L351.6,986.3 L353.1,988.1 L354.6,989.9 L356.1,991.7 L357.6,993.4 L359.1,995.2 L360.6,996.9 L362.1,998.5 L363.6,1000.2 L365.1,1001.8 L366.6,1003.4 L368.2,1005.0 L369.7,1006.5 L371.2,1008.0 L372.7,1009.5 L374.2,1011.0 L375.7,1012.5 L377.2,1013.9 L378.7,1015.3 L380.2,1016.7 L381.7,1018.0 L383.2,1019.4 L384.7,1020.7 L386.2,1022.0 L387.7,1023.2 L389.2,1024.5 L390.7,1025.7 L392.2,1026.9 L393.7,1028.1 L395.2,1029.2 L396.7,1030.4 L398.2,1031.5 L399.7,1032.6 L401.2,1033.7 L402.7,1034.7 L404.2,1035.8 L405.7,1036.8 L407.2,1037.8 L408.7,1038.8 L410.2,1039.7 L411.7,1040.7 L413.2,1041.6 L414.7,1042.5 L416.2,1043.4 L417.7,1044.3 L419.2,1045.1 L420.7,1046.0 L422.2,1046.8 L423.7,1047.6 L425.2,1048.4 L426.7,1049.2 L428.2,1049.9 L429.7,1050.7 L431.2,1051.4 L432.7,1052.1 L434.2,1052.8 L435.7,1053.5 L437.2,1054.1 L438.7,1054.8 L440.2,1055.4 L441.7,1056.0 L443.2,1056.6 L444.7,1057.2 L446.2,1057.8 L447.7,1058.4 L449.2,1058.9 L450.7,1059.5 L452.2,1060.0 L453.7,1060.5 L455.2,1061.0 L456.7,1061.5 L458.2,1062.0 L459.7,1062.5 L461.2,1063.0 L462.7,1063.4 L464.2,1063.8 L465.7,1064.3 L467.2,1064.7 L468.7,1065.1 L470.2,1065.5 L471.7,1065.9 L473.2,1066.3 L474.7,1066.6 L476.2,1067.0 L477.7,1067.3 L479.2,1067.7 L480.7,1068.0 L482.2,1068.4 L483.7,1068.7 L485.2,1069.0 L486.7,1069.3 L488.2,1069.6 L489.7,1069.9 L491.2,1070.2 L492.7,1070.5 L494.2,1070.7 L495.7,1071.0 L497.2,1071.3 L498.7,1071.5 L500.2,1071.8 L501.7,1072.0 L503.2,1072.3 L504.7,1072.5 L506.2,1072.7 L507.7,1073.0 L509.2,1073.2 L510.7,1073.4 L512.2,1073.6 L513.7,1073.8 L515.2,1074.0 L516.7,1074.2 L518.2,1074.5 L519.7,1074.7 L521.2,1074.9 L522.7,1075.1 L524.2,1075.3 L525.7,1075.4 L527.2,1075.6 L528.7,1075.8 L530.2,1076.0 L531.7,1076.2 L533.3,1076.4 L534.8,1076.6 L536.3,1076.8 L537.8,1076.9 L539.3,1077.1 L540.8,1077.3 L542.3,1077.5 L543.8,1077.6 L545.3,1077.8 L546.8,1078.0 L548.3,1078.1 L549.8,1078.3 L551.3,1078.4 L552.8,1078.6 L554.3,1078.8 L555.8,1078.9 L557.3,1079.1 L558.8,1079.2 L560.3,1079.3 L561.8,1079.5 L563.3,1079.6 L564.8,1079.8 L566.3,1079.9 L567.8,1080.0 L569.3,1080.2 L570.8,1080.3 L572.3,1080.4 L573.8,1080.5 L575.3,1080.7 L576.8,1080.8 L578.3,1080.9 L579.8,1081.0 L581.3,1081.1 L582.8,1081.2 L584.3,1081.4 L585.8,1081.5 L587.3,1081.6 L588.8,1081.7 L590.3,1081.8 L591.8,1081.8 L593.3,1081.9 L594.8,1082.0 L596.3,1082.1 L597.8,1082.2 L599.3,1082.3 L600.8,1082.4 L602.3,1082.4 L603.8,1082.5 L605.3,1082.6 L606.8,1082.7 L608.3,1082.7 L609.8,1082.8 L611.3,1082.9 L612.8,1082.9 L614.3,1083.0 L615.8,1083.0 L617.3,1083.1 L618.8,1083.1 L620.3,1083.2 L621.8,1083.2 L623.3,1083.3 L624.8,1083.3 L626.3,1083.3 L627.8,1083.4 L629.3,1083.4 L630.8,1083.4 L632.3,1083.4 L633.8,1083.5 L635.3,1083.5 L636.8,1083.5 L638.3,1083.5 L639.8,1083.5 L641.3,1083.5 L642.8,1083.5 L644.3,1083.5 L645.8,1083.5 L647.3,1083.5 L648.8,1083.5 L650.3,1083.5 L651.8,1083.5 L653.3,1083.5 L654.8,1083.5 L656.3,1083.5 L657.8,1083.4 L659.3,1083.4 L660.8,1083.4 L662.3,1083.4 L663.8,1083.3 L665.3,1083.3 L666.8,1083.2 L668.3,1083.2 L669.8,1083.2 L671.3,1083.1 L672.8,1083.1 L674.3,1083.0 L675.8,1082.9 L677.3,1082.9 L678.8,1082.8 L680.3,1082.7 L681.8,1082.7 L683.3,1082.6 L684.8,1082.5 L686.3,1082.5 L687.8,1082.4 L689.3,1082.3 L690.8,1082.2 L692.3,1082.1 L693.8,1082.0 L695.3,1081.9 L696.9,1081.8 L698.4,1081.7 L699.9,1081.6 L701.4,1081.5 L702.9,1081.4 L704.4,1081.3 L705.9,1081.1 L707.4,1081.0 L708.9,1080.9 L710.4,1080.7 L711.9,1080.6 L713.4,1080.4 L714.9,1080.3 L716.4,1080.1 L717.9,1079.9 L719.4,1079.7 L720.9,1079.4 L722.4,1079.2 L723.9,1078.9 L725.4,1078.6 L726.9,1078.3 L728.4,1078.0 L729.9,1077.7 L731.4,1077.3 L732.9,1076.9 L734.4,1076.5 L735.9,1076.0 L737.4,1075.5 L738.9,1075.0 L740.4,1074.4 L741.9,1073.9 L743.4,1073.3 L744.9,1072.6 L746.4,1071.9 L747.9,1071.2 L749.4,1070.4 L750.9,1069.6 L752.4,1068.8 L753.9,1067.9 L755.4,1067.0 L756.9,1066.0 L758.4,1065.0 L759.9,1063.9 L761.4,1062.8 L762.9,1061.7 L764.4,1060.5 L765.9,1059.2 L767.4,1057.9 L768.9,1056.5 L770.4,1055.1 L771.9,1053.6 L773.4,1052.1 L774.9,1050.5 L776.4,1048.8 L777.9,1047.1" stroke="#FF99CC"/>
<path d="M122.0,1010.8 L123.5,1009.1 L125.0,1007.6 L126.5,1006.0 L128.0,1004.6 L129.5,1003.2 L131.0,1001.8 L132.5,1000.5 L134.0,999.2 L135.5,997.9 L137.0,996.6 L138.5,995.4 L140.0,994.1 L141.5,992.9 L143.0,991.6 L144.5,990.3 L146.0,989.0 L147.5,987.7 L149.0,986.3 L150.5,984.9 L152.0,983.5 L153.5,982.0 L155.0,980.4 L156.5,978.6 L158.0,976.7 L159.5,974.5 L161.0,972.1 L162.5,969.5 L164.0,966.8 L165.5,964.2 L167.0,961.6 L168.5,959.3 L170.0,957.1 L171.5,955.2 L173.0,953.3 L174.5,951.6 L176.0,950.0 L177.5,948.5 L179.0,947.1 L180.5,945.7 L182.0,944.3 L183.5,943.0 L185.0,941.6 L186.5,940.2 L188.0,938.7 L189.5,937.1 L191.0,935.5 L192.5,933.7 L194.0,931.9 L195.5,930.0 L197.0,928.0 L198.5,926.0 L200.0,924.0 L201.5,922.1 L203.0,920.1 L204.6,918.1 L206.1,916.2 L207.6,914.3 L209.1,912.5 L210.6,910.8 L212.1,909.1 L213.6,907.4 L215.1,905.9 L216.6,904.4 L218.1,902.9 L219.6,901.6 L221.1,900.3 L222.6,899.1 L224.1,898.0 L225.6,896.9 L227.1,896.0 L228.6,895.1 L230.1,894.3 L231.6,893.6 L233.1,893.0 L234.6,892.5 L236.1,892.0 L237.6,891.6 L239.1,891.3 L240.6,891.0 L242.1,890.8 L243.6,890.7 L245.1,890.7 L246.6,890.8 L248.1,890.9 L249.6,891.0 L251.1,891.3 L252.6,891.6 L254.1,892.0 L255.6,892.4 L257.1,892.9 L258.6,893.5 L260.1,894.1 L261.6,894.8 L263.1,895.6 L264.6,896.4 L266.1,897.2 L267.6,898.2 L269.1,899.1 L270.6,900.2 L272.1,901.3 L273.6,902.4 L275.1,903.6 L276.6,904.8 L278.1,906.1 L279.6,907.5 L281.1,908.9 L282.6,910.3 L284.1,911.8 L285.6,913.3 L287.1,914.9 L288.6,916.5 L290.1,918.1 L291.6,919.8 L293.1,921.6 L294.6,923.3 L296.1,925.1 L297.6,926.9 L299.1,928.8 L300.6,930.7 L302.1,932.6 L303.6,934.5 L305.1,936.5 L306.6,938.4 L308.1,940.4 L309.6,942.5 L311.1,944.5 L312.6,946.5 L314.1,948.6 L315.6,950.6 L317.1,952.7 L318.6,954.8 L320.1,956.9 L321.6,959.0 L323.1,961.1 L324.6,963.2 L326.1,965.3 L327.6,967.3 L329.1,969.4 L330.6,971.5 L332.1,973.6 L333.6,975.6 L335.1,977.7 L336.6,979.7 L338.1,981.8 L339.6,983.8 L341.1,985.8 L342.6,987.7 L344.1,989.7 L345.6,991.6 L347.1,993.5 L348.6,995.4 L350.1,997.2 L351.6,999.0 L353.1,1000.8 L354.6,1002.6 L356.1,1004.3 L357.6,1006.0 L359.1,1007.7 L360.6,1009.3 L362.1,1010.9 L363.6,1012.5 L365.1,1014.1 L366.6,1015.6 L368.2,1017.1 L369.7,1018.6 L371.2,1020.1 L372.7,1021.5 L374.2,1022.9 L375.7,1024.3 L377.2,1025.6 L378.7,1027.0 L380.2,1028.3 L381.7,1029.6 L383.2,1030.8 L384.7,1032.0 L386.2,1033.2 L387.7,1034.4 L389.2,1035.6 L390.7,1036.7 L392.2,1037.8 L393.7,1038.9 L395.2,1040.0 L396.7,1041.0 L398.2,1042.1 L399.7,1043.1 L401.2,1044.1 L402.7,1045.0 L404.2,1046.0 L405.7,1046.9 L407.2,1047.8 L408.7,1048.7 L410.2,1049.5 L411.7,1050.4 L413.2,1051.2 L414.7,1052.0 L416.2,1052.8 L417.7,1053.6 L419.2,1054.3 L420.7,1055.1 L422.2,1055.8 L423.7,1056.5 L425.2,1057.1 L426.7,1057.8 L428.2,1058.5 L429.7,1059.1 L431.2,1059.7 L432.7,1060.3 L434.2,1060.9 L435.7,1061.5 L437.2,1062.0 L438.7,1062.6 L440.2,1063.1 L441.7,1063.6 L443.2,1064.1 L444.7,1064.6 L446.2,1065.0 L447.7,1065.5 L449.2,1065.9 L450.7,1066.4 L452.2,1066.8 L453.7,1067.2 L455.2,1067.6 L456.7,1068.0 L458.2,1068.4 L459.7,1068.7 L461.2,1069.1 L462.7,1069.4 L464.2,1069.7 L465.7,1070.1 L467.2,1070.4 L468.7,1070.7 L470.2,1071.0 L471.7,1071.2 L473.2,1071.5 L474.7,1071.8 L476.2,1072.0 L477.7,1072.3 L479.2,1072.5 L480.7,1072.8 L482.2,1073.0 L483.7,1073.2 L485.2,1073.4 L486.7,1073.6 L488.2,1073.8 L489.7,1074.0 L491.2,1074.2 L492.7,1074.4 L494.2,1074.6 L495.7,1074.8 L497.2,1074.9 L498.7,1075.1 L500.2,1075.2 L501.7,1075.4 L503.2,1075.6 L504.7,1075.7 L506.2,1075.9 L507.7,1076.0 L509.2,1076.1 L510.7,1076.3 L512.2,1076.4 L513.7,1076.5 L515.2,1076.7 L516.7,1076.8 L518.2,1076.9 L519.7,1077.1 L521.2,1077.2 L522.7,1077.3 L524.2,1077.5 L525.7,1077.6 L527.2,1077.7 L528.7,1077.8 L530.2,1078.0 L531.7,1078.1 L533.3,1078.2 L534.8,1078.4 L536.3,1078.5 L537.8,1078.6 L539.3,1078.7 L540.8,1078.8 L542.3,1079.0 L543.8,1079.1 L545.3,1079.2 L546.8,1079.3 L548.3,1079.4 L549.8,1079.6 L551.3,1079.7 L552.8,1079.8 L554.3,1079.9 L555.8,1080.0 L557.3,1080.1 L558.8,1080.2 L560.3,1080.3 L561.8,1080.4 L563.3,1080.6 L564.8,1080.7 L566.3,1080.8 L567.8,1080.9 L569.3,1081.0 L570.8,1081.1 L572.3,1081.2 L573.8,1081.3 L575.3,1081.4 L576.8,1081.5 L578.3,1081.6 L579.8,1081.6 L581.3,1081.7 L582.8,1081.8 L584.3,1081.9 L585.8,1082.0 L587.3,1082.1 L588.8,1082.2 L590.3,1082.2 L591.8,1082.3 L593.3,1082.4 L594.8,1082.5 L596.3,1082.5 L597.8,1082.6 L599.3,1082.7 L600.8,1082.8 L602.3,1082.8 L603.8,1082.9 L605.3,1082.9 L606.8,1083.0 L608.3,1083.1 L609.8,1083.1 L611.3,1083.2 L612.8,1083.2 L614.3,1083.3 L615.8,1083.3 L617.3,1083.4 L618.8,1083.4 L620.3,1083.5 L621.8,1083.5 L623.3,1083.5 L624.8,1083.6 L626.3,1083.6 L627.8,1083.6 L629.3,1083.7 L630.8,1083.7 L632.3,1083.7 L633.8,1083.7 L635.3,1083.7 L636.8,1083.8 L638.3,1083.8 L639.8,1083.8 L641.3,1083.8 L642.8,1083.8 L644.3,1083.8 L645.8,1083.8 L647.3,1083.8 L648.8,1083.8 L650.3,1083.8 L651.8,1083.8 L653.3,1083.7 L654.8,1083.7 L656.3,1083.7 L657.8,1083.7 L659.3,1083.7 L660.8,1083.6 L662.3,1083.6 L663.8,1083.6 L665.3,1083.5 L666.8,1083.5 L668.3,1083.4 L669.8,1083.4 L671.3,1083.3 L672.8,1083.3 L674.3,1083.2 L675.8,1083.2 L677.3,1083.1 L678.8,1083.0 L680.3,1083.0 L681.8,1082.9 L683.3,1082.8 L684.8,1082.7 L686.3,1082.7 L687.8,1082.6 L689.3,1082.5 L690.8,1082.4 L692.3,1082.3 L693.8,1082.2 L695.3,1082.1 L696.9,1082.0 L698.4,1081.9 L699.9,1081.8 L701.4,1081.6 L702.9,1081.5 L704.4,1081.4 L705.9,1081.3 L707.4,1081.1 L708.9,1081.0 L710.4,1080.8 L711.9,1080.7 L713.4,1080.5 L714.9,1080.3 L716.4,1080.1 L717.9,1079.9 L719.4,1079.7 L720.9,1079.4 L722.4,1079.2 L723.9,1078.9 L725.4,1078.6 L726.9,1078.3 L728.4,1078.0 L729.9,1077.6 L731.4,1077.2 L732.9,1076.8 L734.4,1076.4 L735.9,1075.9 L737.4,1075.4 L738.9,1074.9 L740.4,1074.3 L741.9,1073.7 L743.4,1073.1 L744.9,1072.5 L746.4,1071.8 L747.9,1071.1 L749.4,1070.3 L750.9,1069.5 L752.4,1068.7 L753.9,1067.8 L755.4,1066.9 L756.9,1065.9 L758.4,1064.9 L759.9,1063.8 L761.4,1062.7 L762.9,1061.6 L764.4,1060.4 L765.9,1059.1 L767.4,1057.8 L768.9,1056.5 L770.4,1055.1 L771.9,1053.6 L773.4,1052.1 L774.9,1050.5 L776.4,1048.9 L777.9,1047.2" stroke="#FFC000"/>
<path d="M122.0,998.9 L123.5,997.1 L125.0,995.4 L126.5,993.8 L128.0,992.2 L129.5,990.7 L131.0,989.3 L132.5,987.9 L134.0,986.6 L135.5,985.3 L137.0,983.9 L138.5,982.6 L140.0,981.2 L141.5,979.8 L143.0,978.3 L144.5,976.7 L146.0,975.1 L147.5,973.4 L149.0,971.5 L150.5,969.6 L152.0,967.5 L153.5,965.2 L155.0,962.9 L156.5,960.4 L158.0,957.8 L159.5,955.2 L161.0,952.5 L162.5,949.9 L164.0,947.2 L165.5,944.5 L167.0,942.0 L168.5,939.5 L170.0,937.1 L171.5,935.0 L173.0,933.1 L174.5,931.5 L176.0,930.0 L177.5,928.7 L179.0,927.5 L180.5,926.3 L182.0,925.2 L183.5,924.1 L185.0,922.9 L186.5,921.5 L188.0,920.1 L189.5,918.5 L191.0,916.7 L192.5,914.9 L194.0,913.0 L195.5,911.1 L197.0,909.1 L198.5,907.2 L200.0,905.3 L201.5,903.4 L203.0,901.7 L204.6,900.0 L206.1,898.5 L207.6,897.0 L209.1,895.6 L210.6,894.4 L212.1,893.2 L213.6,892.1 L215.1,891.1 L216.6,890.1 L218.1,889.3 L219.6,888.5 L221.1,887.8 L222.6,887.2 L224.1,886.7 L225.6,886.2 L227.1,885.8 L228.6,885.5 L230.1,885.3 L231.6,885.2 L233.1,885.1 L234.6,885.1 L236.1,885.2 L237.6,885.4 L239.1,885.7 L240.6,886.0 L242.1,886.4 L243.6,886.9 L245.1,887.5 L246.6,888.1 L248.1,888.9 L249.6,889.7 L251.1,890.6 L252.6,891.6 L254.1,892.6 L255.6,893.8 L257.1,895.0 L258.6,896.2 L260.1,897.5 L261.6,898.9 L263.1,900.4 L264.6,901.9 L266.1,903.4 L267.6,905.0 L269.1,906.7 L270.6,908.4 L272.1,910.1 L273.6,911.9 L275.1,913.7 L276.6,915.5 L278.1,917.4 L279.6,919.2 L281.1,921.1 L282.6,923.1 L284.1,925.0 L285.6,926.9 L287.1,928.9 L288.6,930.9 L290.1,932.8 L291.6,934.8 L293.1,936.8 L294.6,938.8 L296.1,940.8 L297.6,942.7 L299.1,944.7 L300.6,946.7 L302.1,948.7 L303.6,950.7 L305.1,952.7 L306.6,954.7 L308.1,956.6 L309.6,958.6 L311.1,960.6 L312.6,962.5 L314.1,964.5 L315.6,966.5 L317.1,968.4 L318.6,970.3 L320.1,972.3 L321.6,974.2 L323.1,976.1 L324.6,978.0 L326.1,979.9 L327.6,981.8 L329.1,983.6 L330.6,985.5 L332.1,987.3 L333.6,989.1 L335.1,991.0 L336.6,992.7 L338.1,994.5 L339.6,996.3 L341.1,998.0 L342.6,999.8 L344.1,1001.5 L345.6,1003.1 L347.1,1004.8 L348.6,1006.4 L350.1,1008.1 L351.6,1009.7 L353.1,1011.2 L354.6,1012.8 L356.1,1014.3 L357.6,1015.8 L359.1,1017.3 L360.6,1018.8 L362.1,1020.2 L363.6,1021.6 L365.1,1023.0 L366.6,1024.3 L368.2,1025.7 L369.7,1027.0 L371.2,1028.3 L372.7,1029.5 L374.2,1030.8 L375.7,1032.0 L377.2,1033.2 L378.7,1034.4 L380.2,1035.6 L381.7,1036.7 L383.2,1037.8 L384.7,1038.9 L386.2,1040.0 L387.7,1041.1 L389.2,1042.1 L390.7,1043.1 L392.2,1044.1 L393.7,1045.1 L395.2,1046.0 L396.7,1047.0 L398.2,1047.9 L399.7,1048.8 L401.2,1049.7 L402.7,1050.5 L404.2,1051.4 L405.7,1052.2 L407.2,1053.0 L408.7,1053.8 L410.2,1054.6 L411.7,1055.4 L413.2,1056.1 L414.7,1056.8 L416.2,1057.5 L417.7,1058.2 L419.2,1058.9 L420.7,1059.6 L422.2,1060.2 L423.7,1060.8 L425.2,1061.5 L426.7,1062.1 L428.2,1062.6 L429.7,1063.2 L431.2,1063.8 L432.7,1064.3 L434.2,1064.9 L435.7,1065.4 L437.2,1065.9 L438.7,1066.4 L440.2,1066.8 L441.7,1067.3 L443.2,1067.7 L444.7,1068.2 L446.2,1068.6 L447.7,1069.0 L449.2,1069.4 L450.7,1069.8 L452.2,1070.2 L453.7,1070.6 L455.2,1070.9 L456.7,1071.3 L458.2,1071.6 L459.7,1071.9 L461.2,1072.2 L462.7,1072.5 L464.2,1072.8 L465.7,1073.1 L467.2,1073.4 L468.7,1073.7 L470.2,1073.9 L471.7,1074.2 L473.2,1074.4 L474.7,1074.7 L476.2,1074.9 L477.7,1075.1 L479.2,1075.3 L480.7,1075.5 L482.2,1075.7 L483.7,1075.9 L485.2,1076.1 L486.7,1076.3 L488.2,1076.4 L489.7,1076.6 L491.2,1076.7 L492.7,1076.9 L494.2,1077.0 L495.7,1077.2 L497.2,1077.3 L498.7,1077.4 L500.2,1077.6 L501.7,1077.7 L503.2,1077.8 L504.7,1077.9 L506.2,1078.0 L507.7,1078.1 L509.2,1078.2 L510.7,1078.3 L512.2,1078.4 L513.7,1078.5 L515.2,1078.6 L516.7,1078.7 L518.2,1078.8 L519.7,1078.8 L521.2,1078.9 L522.7,1079.0 L524.2,1079.1 L525.7,1079.2 L527.2,1079.2 L528.7,1079.3 L530.2,1079.4 L531.7,1079.5 L533.3,1079.5 L534.8,1079.6 L536.3,1079.7 L537.8,1079.7 L539.3,1079.8 L540.8,1079.9 L542.3,1080.0 L543.8,1080.1 L545.3,1080.1 L546.8,1080.2 L548.3,1080.3 L549.8,1080.4 L551.3,1080.5 L552.8,1080.5 L554.3,1080.6 L555.8,1080.7 L557.3,1080.8 L558.8,1080.9 L560.3,1080.9 L561.8,1081.0 L563.3,1081.1 L564.8,1081.2 L566.3,1081.3 L567.8,1081.4 L569.3,1081.5 L570.8,1081.5 L572.3,1081.6 L573.8,1081.7 L575.3,1081.8 L576.8,1081.9 L578.3,1081.9 L579.8,1082.0 L581.3,1082.1 L582.8,1082.2 L584.3,1082.3 L585.8,1082.3 L587.3,1082.4 L588.8,1082.5 L590.3,1082.6 L591.8,1082.7 L593.3,1082.7 L594.8,1082.8 L596.3,1082.9 L597.8,1082.9 L599.3,1083.0 L600.8,1083.1 L602.3,1083.1 L603.8,1083.2 L605.3,1083.3 L606.8,1083.3 L608.3,1083.4 L609.8,1083.5 L611.3,1083.5 L612.8,1083.6 L614.3,1083.6 L615.8,1083.7 L617.3,1083.7 L618.8,1083.8 L620.3,1083.8 L621.8,1083.9 L623.3,1083.9 L624.8,1083.9 L626.3,1084.0 L627.8,1084.0 L629.3,1084.0 L630.8,1084.1 L632.3,1084.1 L633.8,1084.1 L635.3,1084.1 L636.8,1084.1 L638.3,1084.2 L639.8,1084.2 L641.3,1084.2 L642.8,1084.2 L644.3,1084.2 L645.8,1084.2 L647.3,1084.2 L648.8,1084.2 L650.3,1084.2 L651.8,1084.1 L653.3,1084.1 L654.8,1084.1 L656.3,1084.1 L657.8,1084.1 L659.3,1084.0 L660.8,1084.0 L662.3,1084.0 L663.8,1083.9 L665.3,1083.9 L666.8,1083.8 L668.3,1083.8 L669.8,1083.7 L671.3,1083.6 L672.8,1083.6 L674.3,1083.5 L675.8,1083.4 L677.3,1083.3 L678.8,1083.3 L680.3,1083.2 L681.8,1083.1 L683.3,1083.0 L684.8,1082.9 L686.3,1082.8 L687.8,1082.6 L689.3,1082.5 L690.8,1082.4 L692.3,1082.3 L693.8,1082.1 L695.3,1082.0 L696.9,1081.9 L698.4,1081.7 L699.9,1081.6 L701.4,1081.4 L702.9,1081.2 L704.4,1081.1 L705.9,1080.9 L707.4,1080.7 L708.9,1080.5 L710.4,1080.3 L711.9,1080.1 L713.4,1079.9 L714.9,1079.7 L716.4,1079.5 L717.9,1079.3 L719.4,1079.0 L720.9,1078.8 L722.4,1078.6 L723.9,1078.3 L725.4,1078.0 L726.9,1077.8 L728.4,1077.5 L729.9,1077.2 L731.4,1076.8 L732.9,1076.5 L734.4,1076.1 L735.9,1075.7 L737.4,1075.2 L738.9,1074.8 L740.4,1074.3 L741.9,1073.8 L743.4,1073.2 L744.9,1072.6 L746.4,1072.0 L747.9,1071.3 L749.4,1070.6 L750.9,1069.8 L752.4,1069.0 L753.9,1068.2 L755.4,1067.3 L756.9,1066.3 L758.4,1065.3 L759.9,1064.3 L761.4,1063.2 L762.9,1062.0 L764.4,1060.8 L765.9,1059.5 L767.4,1058.1 L768.9,1056.7 L770.4,1055.2 L771.9,1053.7 L773.4,1052.1 L774.9,1050.4 L776.4,1048.6 L777.9,1046.8" stroke="#00B050"/>
<path d="M122.0,985.1 L123.5,983.9 L125.0,982.7 L126.5,981.5 L128.0,980.1 L129.5,978.7 L131.0,977.2 L132.5,975.7 L134.0,974.1 L135.5,972.5 L137.0,970.9 L138.5,969.3 L140.0,967.6 L141.5,965.9 L143.0,964.2 L144.5,962.5 L146.0,960.8 L147.5,959.2 L149.0,957.5 L150.5,955.9 L152.0,954.3 L153.5,952.7 L155.0,951.2 L156.5,949.7 L158.0,948.1 L159.5,946.6 L161.0,945.0 L162.5,943.5 L164.0,941.8 L165.5,940.1 L167.0,938.4 L168.5,936.5 L170.0,934.6 L171.5,932.6 L173.0,930.5 L174.5,928.2 L176.0,925.8 L177.5,923.3 L179.0,920.8 L180.5,918.2 L182.0,915.7 L183.5,913.1 L185.0,910.7 L186.5,908.4 L188.0,906.1 L189.5,904.0 L191.0,901.9 L192.5,900.0 L194.0,898.1 L195.5,896.3 L197.0,894.7 L198.5,893.1 L200.0,891.6 L201.5,890.1 L203.0,888.8 L204.6,887.5 L206.1,886.3 L207.6,885.3 L209.1,884.3 L210.6,883.3 L212.1,882.5 L213.6,881.8 L215.1,881.1 L216.6,880.6 L218.1,880.1 L219.6,879.7 L221.1,879.4 L222.6,879.2 L224.1,879.1 L225.6,879.1 L227.1,879.2 L228.6,879.4 L230.1,879.6 L231.6,880.0 L233.1,880.4 L234.6,880.9 L236.1,881.5 L237.6,882.1 L239.1,882.9 L240.6,883.7 L242.1,884.6 L243.6,885.6 L245.1,886.6 L246.6,887.8 L248.1,889.0 L249.6,890.2 L251.1,891.6 L252.6,893.0 L254.1,894.4 L255.6,896.0 L257.1,897.6 L258.6,899.2 L260.1,901.0 L261.6,902.7 L263.1,904.6 L264.6,906.5 L266.1,908.4 L267.6,910.4 L269.1,912.5 L270.6,914.6 L272.1,916.8 L273.6,919.0 L275.1,921.2 L276.6,923.5 L278.1,925.9 L279.6,928.3 L281.1,930.7 L282.6,933.1 L284.1,935.6 L285.6,938.0 L287.1,940.5 L288.6,943.0 L290.1,945.5 L291.6,947.9 L293.1,950.4 L294.6,952.9 L296.1,955.3 L297.6,957.7 L299.1,960.0 L300.6,962.4 L302.1,964.7 L303.6,966.9 L305.1,969.1 L306.6,971.3 L308.1,973.4 L309.6,975.5 L311.1,977.6 L312.6,979.6 L314.1,981.6 L315.6,983.6 L317.1,985.5 L318.6,987.4 L320.1,989.2 L321.6,991.1 L323.1,992.8 L324.6,994.6 L326.1,996.3 L327.6,998.0 L329.1,999.7 L330.6,1001.3 L332.1,1002.9 L333.6,1004.5 L335.1,1006.1 L336.6,1007.6 L338.1,1009.1 L339.6,1010.5 L341.1,1012.0 L342.6,1013.4 L344.1,1014.8 L345.6,1016.2 L347.1,1017.5 L348.6,1018.9 L350.1,1020.2 L351.6,1021.4 L353.1,1022.7 L354.6,1023.9 L356.1,1025.2 L357.6,1026.4 L359.1,1027.5 L360.6,1028.7 L362.1,1029.8 L363.6,1031.0 L365.1,1032.1 L366.6,1033.1 L368.2,1034.2 L369.7,1035.3 L371.2,1036.3 L372.7,1037.3 L374.2,1038.3 L375.7,1039.3 L377.2,1040.2 L378.7,1041.2 L380.2,1042.1 L381.7,1043.0 L383.2,1043.9 L384.7,1044.8 L386.2,1045.6 L387.7,1046.5 L389.2,1047.3 L390.7,1048.1 L392.2,1048.9 L393.7,1049.7 L395.2,1050.5 L396.7,1051.2 L398.2,1052.0 L399.7,1052.7 L401.2,1053.4 L402.7,1054.1 L404.2,1054.8 L405.7,1055.5 L407.2,1056.1 L408.7,1056.8 L410.2,1057.4 L411.7,1058.0 L413.2,1058.7 L414.7,1059.3 L416.2,1059.8 L417.7,1060.4 L419.2,1061.0 L420.7,1061.5 L422.2,1062.1 L423.7,1062.6 L425.2,1063.1 L426.7,1063.6 L428.2,1064.1 L429.7,1064.6 L431.2,1065.1 L432.7,1065.6 L434.2,1066.0 L435.7,1066.5 L437.2,1066.9 L438.7,1067.4 L440.2,1067.8 L441.7,1068.2 L443.2,1068.6 L444.7,1069.0 L446.2,1069.4 L447.7,1069.8 L449.2,1070.2 L450.7,1070.6 L452.2,1070.9 L453.7,1071.3 L455.2,1071.6 L456.7,1072.0 L458.2,1072.3 L459.7,1072.6 L461.2,1072.9 L462.7,1073.2 L464.2,1073.5 L465.7,1073.8 L467.2,1074.1 L468.7,1074.4 L470.2,1074.7 L471.7,1075.0 L473.2,1075.2 L474.7,1075.5 L476.2,1075.7 L477.7,1076.0 L479.2,1076.2 L480.7,1076.4 L482.2,1076.7 L483.7,1076.9 L485.2,1077.1 L486.7,1077.3 L488.2,1077.5 L489.7,1077.7 L491.2,1077.9 L492.7,1078.1 L494.2,1078.3 L495.7,1078.5 L497.2,1078.7 L498.7,1078.8 L500.2,1079.0 L501.7,1079.2 L503.2,1079.3 L504.7,1079.5 L506.2,1079.6 L507.7,1079.8 L509.2,1079.9 L510.7,1080.1 L512.2,1080.2 L513.7,1080.4 L515.2,1080.5 L516.7,1080.6 L518.2,1080.7 L519.7,1080.9 L521.2,1081.0 L522.7,1081.1 L524.2,1081.2 L525.7,1081.3 L527.2,1081.4 L528.7,1081.6 L530.2,1081.7 L531.7,1081.8 L533.3,1081.9 L534.8,1082.0 L536.3,1082.1 L537.8,1082.2 L539.3,1082.3 L540.8,1082.4 L542.3,1082.5 L543.8,1082.6 L545.3,1082.7 L546.8,1082.7 L548.3,1082.8 L549.8,1082.9 L551.3,1083.0 L552.8,1083.1 L554.3,1083.2 L555.8,1083.3 L557.3,1083.4 L558.8,1083.4 L560.3,1083.5 L561.8,1083.6 L563.3,1083.7 L564.8,1083.8 L566.3,1083.8 L567.8,1083.9 L569.3,1084.0 L570.8,1084.0 L572.3,1084.1 L573.8,1084.2 L575.3,1084.2 L576.8,1084.3 L578.3,1084.4 L579.8,1084.4 L581.3,1084.5 L582.8,1084.5 L584.3,1084.6 L585.8,1084.6 L587.3,1084.7 L588.8,1084.7 L590.3,1084.8 L591.8,1084.8 L593.3,1084.9 L594.8,1084.9 L596.3,1084.9 L597.8,1085.0 L599.3,1085.0 L600.8,1085.0 L602.3,1085.1 L603.8,1085.1 L605.3,1085.1 L606.8,1085.1 L608.3,1085.2 L609.8,1085.2 L611.3,1085.2 L612.8,1085.2 L614.3,1085.2 L615.8,1085.2 L617.3,1085.2 L618.8,1085.2 L620.3,1085.2 L621.8,1085.2 L623.3,1085.2 L624.8,1085.2 L626.3,1085.2 L627.8,1085.2 L629.3,1085.2 L630.8,1085.2 L632.3,1085.2 L633.8,1085.2 L635.3,1085.1 L636.8,1085.1 L638.3,1085.1 L639.8,1085.0 L641.3,1085.0 L642.8,1085.0 L644.3,1084.9 L645.8,1084.9 L647.3,1084.8 L648.8,1084.8 L650.3,1084.7 L651.8,1084.7 L653.3,1084.6 L654.8,1084.6 L656.3,1084.5 L657.8,1084.4 L659.3,1084.4 L660.8,1084.3 L662.3,1084.2 L663.8,1084.1 L665.3,1084.1 L666.8,1084.0 L668.3,1083.9 L669.8,1083.8 L671.3,1083.7 L672.8,1083.6 L674.3,1083.5 L675.8,1083.4 L677.3,1083.3 L678.8,1083.2 L680.3,1083.1 L681.8,1082.9 L683.3,1082.8 L684.8,1082.7 L686.3,1082.6 L687.8,1082.4 L689.3,1082.3 L690.8,1082.1 L692.3,1082.0 L693.8,1081.9 L695.3,1081.7 L696.9,1081.6 L698.4,1081.4 L699.9,1081.2 L701.4,1081.1 L702.9,1080.9 L704.4,1080.7 L705.9,1080.5 L707.4,1080.4 L708.9,1080.2 L710.4,1080.0 L711.9,1079.8 L713.4,1079.6 L714.9,1079.4 L716.4,1079.2 L717.9,1079.0 L719.4,1078.8 L720.9,1078.6 L722.4,1078.3 L723.9,1078.1 L725.4,1077.9 L726.9,1077.6 L728.4,1077.3 L729.9,1077.0 L731.4,1076.7 L732.9,1076.4 L734.4,1076.0 L735.9,1075.7 L737.4,1075.2 L738.9,1074.8 L740.4,1074.3 L741.9,1073.8 L743.4,1073.3 L744.9,1072.7 L746.4,1072.1 L747.9,1071.5 L749.4,1070.8 L750.9,1070.0 L752.4,1069.2 L753.9,1068.4 L755.4,1067.5 L756.9,1066.6 L758.4,1065.6 L759.9,1064.5 L761.4,1063.4 L762.9,1062.2 L764.4,1061.0 L765.9,1059.7 L767.4,1058.3 L768.9,1056.8 L770.4,1055.3 L771.9,1053.7 L773.4,1052.1 L774.9,1050.3 L776.4,1048.5 L777.9,1046.6" stroke="#92D050"/>
<path d="M122.0,970.0 L123.5,967.8 L125.0,965.6 L126.5,963.6 L128.0,961.6 L129.5,959.6 L131.0,957.7 L132.5,955.9 L134.0,954.1 L135.5,952.3 L137.0,950.5 L138.5,948.8 L140.0,947.0 L141.5,945.3 L143.0,943.5 L144.5,941.7 L146.0,939.9 L147.5,938.1 L149.0,936.2 L150.5,934.3 L152.0,932.4 L153.5,930.3 L155.0,928.2 L156.5,926.1 L158.0,924.0 L159.5,921.8 L161.0,919.5 L162.5,917.3 L164.0,915.0 L165.5,912.8 L167.0,910.5 L168.5,908.2 L170.0,906.0 L171.5,903.8 L173.0,901.6 L174.5,899.4 L176.0,897.3 L177.5,895.2 L179.0,893.2 L180.5,891.3 L182.0,889.3 L183.5,887.5 L185.0,885.7 L186.5,883.9 L188.0,882.2 L189.5,880.6 L191.0,879.0 L192.5,877.5 L194.0,876.1 L195.5,874.7 L197.0,873.5 L198.5,872.2 L200.0,871.1 L201.5,870.1 L203.0,869.1 L204.6,868.2 L206.1,867.4 L207.6,866.7 L209.1,866.1 L210.6,865.6 L212.1,865.1 L213.6,864.8 L215.1,864.6 L216.6,864.4 L218.1,864.4 L219.6,864.5 L221.1,864.7 L222.6,865.0 L224.1,865.4 L225.6,865.9 L227.1,866.5 L228.6,867.2 L230.1,868.1 L231.6,869.0 L233.1,870.0 L234.6,871.2 L236.1,872.4 L237.6,873.7 L239.1,875.1 L240.6,876.6 L242.1,878.1 L243.6,879.8 L245.1,881.4 L246.6,883.2 L248.1,885.0 L249.6,886.8 L251.1,888.7 L252.6,890.6 L254.1,892.5 L255.6,894.5 L257.1,896.5 L258.6,898.5 L260.1,900.5 L261.6,902.6 L263.1,904.7 L264.6,906.8 L266.1,908.9 L267.6,911.1 L269.1,913.2 L270.6,915.4 L272.1,917.6 L273.6,919.9 L275.1,922.1 L276.6,924.4 L278.1,926.6 L279.6,928.9 L281.1,931.2 L282.6,933.5 L284.1,935.8 L285.6,938.1 L287.1,940.5 L288.6,942.8 L290.1,945.1 L291.6,947.5 L293.1,949.8 L294.6,952.1 L296.1,954.5 L297.6,956.8 L299.1,959.1 L300.6,961.4 L302.1,963.7 L303.6,965.9 L305.1,968.2 L306.6,970.4 L308.1,972.6 L309.6,974.8 L311.1,977.0 L312.6,979.1 L314.1,981.2 L315.6,983.2 L317.1,985.2 L318.6,987.2 L320.1,989.2 L321.6,991.1 L323.1,992.9 L324.6,994.8 L326.1,996.6 L327.6,998.3 L329.1,1000.1 L330.6,1001.8 L332.1,1003.4 L333.6,1005.1 L335.1,1006.7 L336.6,1008.3 L338.1,1009.8 L339.6,1011.3 L341.1,1012.8 L342.6,1014.3 L344.1,1015.7 L345.6,1017.1 L347.1,1018.5 L348.6,1019.9 L350.1,1021.2 L351.6,1022.6 L353.1,1023.9 L354.6,1025.1 L356.1,1026.4 L357.6,1027.6 L359.1,1028.8 L360.6,1030.0 L362.1,1031.2 L363.6,1032.4 L365.1,1033.5 L366.6,1034.6 L368.2,1035.7 L369.7,1036.8 L371.2,1037.9 L372.7,1038.9 L374.2,1040.0 L375.7,1041.0 L377.2,1042.0 L378.7,1042.9 L380.2,1043.9 L381.7,1044.8 L383.2,1045.8 L384.7,1046.7 L386.2,1047.6 L387.7,1048.4 L389.2,1049.3 L390.7,1050.1 L392.2,1051.0 L393.7,1051.8 L395.2,1052.6 L396.7,1053.4 L398.2,1054.1 L399.7,1054.9 L401.2,1055.6 L402.7,1056.3 L404.2,1057.0 L405.7,1057.7 L407.2,1058.4 L408.7,1059.0 L410.2,1059.7 L411.7,1060.3 L413.2,1060.9 L414.7,1061.5 L416.2,1062.1 L417.7,1062.7 L419.2,1063.3 L420.7,1063.8 L422.2,1064.4 L423.7,1064.9 L425.2,1065.4 L426.7,1065.9 L428.2,1066.4 L429.7,1066.9 L431.2,1067.4 L432.7,1067.8 L434.2,1068.3 L435.7,1068.7 L437.2,1069.1 L438.7,1069.5 L440.2,1069.9 L441.7,1070.3 L443.2,1070.7 L444.7,1071.1 L446.2,1071.4 L447.7,1071.8 L449.2,1072.1 L450.7,1072.4 L452.2,1072.8 L453.7,1073.1 L455.2,1073.4 L456.7,1073.7 L458.2,1074.0 L459.7,1074.2 L461.2,1074.5 L462.7,1074.8 L464.2,1075.0 L465.7,1075.3 L467.2,1075.5 L468.7,1075.7 L470.2,1075.9 L471.7,1076.2 L473.2,1076.4 L474.7,1076.6 L476.2,1076.8 L477.7,1077.0 L479.2,1077.1 L480.7,1077.3 L482.2,1077.5 L483.7,1077.6 L485.2,1077.8 L486.7,1078.0 L488.2,1078.1 L489.7,1078.2 L491.2,1078.4 L492.7,1078.5 L494.2,1078.6 L495.7,1078.8 L497.2,1078.9 L498.7,1079.0 L500.2,1079.1 L501.7,1079.2 L503.2,1079.3 L504.7,1079.4 L506.2,1079.5 L507.7,1079.6 L509.2,1079.7 L510.7,1079.8 L512.2,1079.9 L513.7,1079.9 L515.2,1080.0 L516.7,1080.1 L518.2,1080.2 L519.7,1080.3 L521.2,1080.3 L522.7,1080.4 L524.2,1080.5 L525.7,1080.5 L527.2,1080.6 L528.7,1080.7 L530.2,1080.7 L531.7,1080.8 L533.3,1080.9 L534.8,1080.9 L536.3,1081.0 L537.8,1081.1 L539.3,1081.1 L540.8,1081.2 L542.3,1081.3 L543.8,1081.3 L545.3,1081.4 L546.8,1081.5 L548.3,1081.5 L549.8,1081.6 L551.3,1081.7 L552.8,1081.7 L554.3,1081.8 L555.8,1081.9 L557.3,1081.9 L558.8,1082.0 L560.3,1082.1 L561.8,1082.2 L563.3,1082.2 L564.8,1082.3 L566.3,1082.4 L567.8,1082.4 L569.3,1082.5 L570.8,1082.6 L572.3,1082.6 L573.8,1082.7 L575.3,1082.8 L576.8,1082.8 L578.3,1082.9 L579.8,1083.0 L581.3,1083.0 L582.8,1083.1 L584.3,1083.2 L585.8,1083.2 L587.3,1083.3 L588.8,1083.3 L590.3,1083.4 L591.8,1083.4 L593.3,1083.5 L594.8,1083.6 L596.3,1083.6 L597.8,1083.7 L599.3,1083.7 L600.8,1083.8 L602.3,1083.8 L603.8,1083.9 L605.3,1083.9 L606.8,1084.0 L608.3,1084.0 L609.8,1084.0 L611.3,1084.1 L612.8,1084.1 L614.3,1084.1 L615.8,1084.2 L617.3,1084.2 L618.8,1084.2 L620.3,1084.3 L621.8,1084.3 L623.3,1084.3 L624.8,1084.3 L626.3,1084.4 L627.8,1084.4 L629.3,1084.4 L630.8,1084.4 L632.3,1084.4 L633.8,1084.4 L635.3,1084.4 L636.8,1084.4 L638.3,1084.4 L639.8,1084.4 L641.3,1084.4 L642.8,1084.4 L644.3,1084.4 L645.8,1084.4 L647.3,1084.3 L648.8,1084.3 L650.3,1084.3 L651.8,1084.3 L653.3,1084.2 L654.8,1084.2 L656.3,1084.2 L657.8,1084.1 L659.3,1084.1 L660.8,1084.0 L662.3,1084.0 L663.8,1083.9 L665.3,1083.9 L666.8,1083.8 L668.3,1083.7 L669.8,1083.7 L671.3,1083.6 L672.8,1083.5 L674.3,1083.4 L675.8,1083.4 L677.3,1083.3 L678.8,1083.2 L680.3,1083.1 L681.8,1083.0 L683.3,1082.9 L684.8,1082.8 L686.3,1082.6 L687.8,1082.5 L689.3,1082.4 L690.8,1082.3 L692.3,1082.1 L693.8,1082.0 L695.3,1081.9 L696.9,1081.7 L698.4,1081.6 L699.9,1081.4 L701.4,1081.3 L702.9,1081.1 L704.4,1080.9 L705.9,1080.8 L707.4,1080.6 L708.9,1080.4 L710.4,1080.2 L711.9,1080.0 L713.4,1079.8 L714.9,1079.6 L716.4,1079.4 L717.9,1079.2 L719.4,1079.0 L720.9,1078.7 L722.4,1078.5 L723.9,1078.2 L725.4,1078.0 L726.9,1077.7 L728.4,1077.4 L729.9,1077.1 L731.4,1076.8 L732.9,1076.4 L734.4,1076.1 L735.9,1075.7 L737.4,1075.3 L738.9,1074.8 L740.4,1074.3 L741.9,1073.8 L743.4,1073.3 L744.9,1072.7 L746.4,1072.0 L747.9,1071.4 L749.4,1070.7 L750.9,1069.9 L752.4,1069.1 L753.9,1068.3 L755.4,1067.4 L756.9,1066.4 L758.4,1065.4 L759.9,1064.4 L761.4,1063.3 L762.9,1062.1 L764.4,1060.9 L765.9,1059.6 L767.4,1058.2 L768.9,1056.8 L770.4,1055.3 L771.9,1053.7 L773.4,1052.1 L774.9,1050.4 L776.4,1048.6 L777.9,1046.7" stroke="#6699FF"/>
<path d="M122.0,921.8 L123.5,919.8 L125.0,917.9 L126.5,915.9 L128.0,913.9 L129.5,911.8 L131.0,909.7 L132.5,907.7 L134.0,905.5 L135.5,903.4 L137.0,901.3 L138.5,899.1 L140.0,896.9 L141.5,894.7 L143.0,892.5 L144.5,890.2 L146.0,888.0 L147.5,885.7 L149.0,883.4 L150.5,881.2 L152.0,878.9 L153.5,876.5 L155.0,874.2 L156.5,871.9 L158.0,869.6 L159.5,867.3 L161.0,865.1 L162.5,862.8 L164.0,860.6 L165.5,858.4 L167.0,856.3 L168.5,854.2 L170.0,852.2 L171.5,850.2 L173.0,848.3 L174.5,846.5 L176.0,844.8 L177.5,843.1 L179.0,841.5 L180.5,840.0 L182.0,838.6 L183.5,837.3 L185.0,836.1 L186.5,834.9 L188.0,833.9 L189.5,832.9 L191.0,832.1 L192.5,831.3 L194.0,830.7 L195.5,830.1 L197.0,829.7 L198.5,829.4 L200.0,829.1 L201.5,829.0 L203.0,829.0 L204.6,829.1 L206.1,829.4 L207.6,829.7 L209.1,830.2 L210.6,830.7 L212.1,831.4 L213.6,832.2 L215.1,833.1 L216.6,834.1 L218.1,835.2 L219.6,836.3 L221.1,837.6 L222.6,838.9 L224.1,840.4 L225.6,841.8 L227.1,843.4 L228.6,845.0 L230.1,846.7 L231.6,848.5 L233.1,850.3 L234.6,852.1 L236.1,854.1 L237.6,856.0 L239.1,858.0 L240.6,860.1 L242.1,862.2 L243.6,864.3 L245.1,866.5 L246.6,868.7 L248.1,870.9 L249.6,873.1 L251.1,875.4 L252.6,877.7 L254.1,880.0 L255.6,882.3 L257.1,884.7 L258.6,887.0 L260.1,889.4 L261.6,891.7 L263.1,894.1 L264.6,896.5 L266.1,898.8 L267.6,901.2 L269.1,903.6 L270.6,905.9 L272.1,908.3 L273.6,910.7 L275.1,913.1 L276.6,915.4 L278.1,917.8 L279.6,920.2 L281.1,922.6 L282.6,925.0 L284.1,927.5 L285.6,929.9 L287.1,932.3 L288.6,934.8 L290.1,937.2 L291.6,939.7 L293.1,942.1 L294.6,944.6 L296.1,947.1 L297.6,949.6 L299.1,952.1 L300.6,954.5 L302.1,957.0 L303.6,959.5 L305.1,962.0 L306.6,964.4 L308.1,966.9 L309.6,969.3 L311.1,971.7 L312.6,974.1 L314.1,976.5 L315.6,978.8 L317.1,981.1 L318.6,983.4 L320.1,985.7 L321.6,987.9 L323.1,990.1 L324.6,992.3 L326.1,994.4 L327.6,996.4 L329.1,998.4 L330.6,1000.4 L332.1,1002.3 L333.6,1004.2 L335.1,1006.0 L336.6,1007.8 L338.1,1009.5 L339.6,1011.2 L341.1,1012.8 L342.6,1014.4 L344.1,1016.0 L345.6,1017.5 L347.1,1019.0 L348.6,1020.4 L350.1,1021.8 L351.6,1023.2 L353.1,1024.5 L354.6,1025.9 L356.1,1027.1 L357.6,1028.4 L359.1,1029.6 L360.6,1030.8 L362.1,1032.0 L363.6,1033.2 L365.1,1034.3 L366.6,1035.4 L368.2,1036.5 L369.7,1037.6 L371.2,1038.6 L372.7,1039.7 L374.2,1040.7 L375.7,1041.7 L377.2,1042.7 L378.7,1043.6 L380.2,1044.6 L381.7,1045.5 L383.2,1046.4 L384.7,1047.3 L386.2,1048.2 L387.7,1049.1 L389.2,1049.9 L390.7,1050.8 L392.2,1051.6 L393.7,1052.4 L395.2,1053.2 L396.7,1053.9 L398.2,1054.7 L399.7,1055.4 L401.2,1056.1 L402.7,1056.9 L404.2,1057.6 L405.7,1058.2 L407.2,1058.9 L408.7,1059.5 L410.2,1060.2 L411.7,1060.8 L413.2,1061.4 L414.7,1062.0 L416.2,1062.6 L417.7,1063.2 L419.2,1063.7 L420.7,1064.3 L422.2,1064.8 L423.7,1065.3 L425.2,1065.8 L426.7,1066.3 L428.2,1066.8 L429.7,1067.3 L431.2,1067.7 L432.7,1068.2 L434.2,1068.6 L435.7,1069.1 L437.2,1069.5 L438.7,1069.9 L440.2,1070.3 L441.7,1070.7 L443.2,1071.0 L444.7,1071.4 L446.2,1071.7 L447.7,1072.1 L449.2,1072.4 L450.7,1072.7 L452.2,1073.1 L453.7,1073.4 L455.2,1073.7 L456.7,1073.9 L458.2,1074.2 L459.7,1074.5 L461.2,1074.8 L462.7,1075.0 L464.2,1075.3 L465.7,1075.5 L467.2,1075.7 L468.7,1075.9 L470.2,1076.2 L471.7,1076.4 L473.2,1076.6 L474.7,1076.8 L476.2,1077.0 L477.7,1077.1 L479.2,1077.3 L480.7,1077.5 L482.2,1077.7 L483.7,1077.8 L485.2,1078.0 L486.7,1078.1 L488.2,1078.3 L489.7,1078.4 L491.2,1078.5 L492.7,1078.6 L494.2,1078.8 L495.7,1078.9 L497.2,1079.0 L498.7,1079.1 L500.2,1079.2 L501.7,1079.3 L503.2,1079.4 L504.7,1079.5 L506.2,1079.6 L507.7,1079.7 L509.2,1079.8 L510.7,1079.9 L512.2,1079.9 L513.7,1080.0 L515.2,1080.1 L516.7,1080.2 L518.2,1080.2 L519.7,1080.3 L521.2,1080.4 L522.7,1080.5 L524.2,1080.5 L525.7,1080.6 L527.2,1080.7 L528.7,1080.7 L530.2,1080.8 L531.7,1080.8 L533.3,1080.9 L534.8,1081.0 L536.3,1081.0 L537.8,1081.1 L539.3,1081.2 L540.8,1081.2 L542.3,1081.3 L543.8,1081.3 L545.3,1081.4 L546.8,1081.5 L548.3,1081.5 L549.8,1081.6 L551.3,1081.7 L552.8,1081.7 L554.3,1081.8 L555.8,1081.9 L557.3,1081.9 L558.8,1082.0 L560.3,1082.1 L561.8,1082.2 L563.3,1082.2 L564.8,1082.3 L566.3,1082.4 L567.8,1082.4 L569.3,1082.5 L570.8,1082.6 L572.3,1082.6 L573.8,1082.7 L575.3,1082.8 L576.8,1082.8 L578.3,1082.9 L579.8,1083.0 L581.3,1083.0 L582.8,1083.1 L584.3,1083.1 L585.8,1083.2 L587.3,1083.3 L588.8,1083.3 L590.3,1083.4 L591.8,1083.4 L593.3,1083.5 L594.8,1083.5 L596.3,1083.6 L597.8,1083.7 L599.3,1083.7 L600.8,1083.8 L602.3,1083.8 L603.8,1083.9 L605.3,1083.9 L606.8,1083.9 L608.3,1084.0 L609.8,1084.0 L611.3,1084.1 L612.8,1084.1 L614.3,1084.1 L615.8,1084.2 L617.3,1084.2 L618.8,1084.2 L620.3,1084.3 L621.8,1084.3 L623.3,1084.3 L624.8,1084.3 L626.3,1084.3 L627.8,1084.4 L629.3,1084.4 L630.8,1084.4 L632.3,1084.4 L633.8,1084.4 L635.3,1084.4 L636.8,1084.4 L638.3,1084.4 L639.8,1084.4 L641.3,1084.4 L642.8,1084.4 L644.3,1084.4 L645.8,1084.4 L647.3,1084.3 L648.8,1084.3 L650.3,1084.3 L651.8,1084.3 L653.3,1084.2 L654.8,1084.2 L656.3,1084.2 L657.8,1084.1 L659.3,1084.1 L660.8,1084.0 L662.3,1084.0 L663.8,1083.9 L665.3,1083.9 L666.8,1083.8 L668.3,1083.7 L669.8,1083.7 L671.3,1083.6 L672.8,1083.5 L674.3,1083.4 L675.8,1083.4 L677.3,1083.3 L678.8,1083.2 L680.3,1083.1 L681.8,1083.0 L683.3,1082.9 L684.8,1082.8 L686.3,1082.7 L687.8,1082.5 L689.3,1082.4 L690.8,1082.3 L692.3,1082.2 L693.8,1082.0 L695.3,1081.9 L696.9,1081.7 L698.4,1081.6 L699.9,1081.4 L701.4,1081.3 L702.9,1081.1 L704.4,1080.9 L705.9,1080.8 L707.4,1080.6 L708.9,1080.4 L710.4,1080.2 L711.9,1080.0 L713.4,1079.8 L714.9,1079.6 L716.4,1079.4 L717.9,1079.2 L719.4,1079.0 L720.9,1078.7 L722.4,1078.5 L723.9,1078.2 L725.4,1078.0 L726.9,1077.7 L728.4,1077.4 L729.9,1077.1 L731.4,1076.8 L732.9,1076.4 L734.4,1076.1 L735.9,1075.7 L737.4,1075.2 L738.9,1074.8 L740.4,1074.3 L741.9,1073.8 L743.4,1073.2 L744.9,1072.7 L746.4,1072.0 L747.9,1071.4 L749.4,1070.7 L750.9,1069.9 L752.4,1069.1 L753.9,1068.3 L755.4,1067.4 L756.9,1066.4 L758.4,1065.4 L759.9,1064.4 L761.4,1063.2 L762.9,1062.1 L764.4,1060.8 L765.9,1059.6 L767.4,1058.2 L768.9,1056.8 L770.4,1055.3 L771.9,1053.7 L773.4,1052.1 L774.9,1050.4 L776.4,1048.6 L777.9,1046.7" stroke="#0000FF"/>
<path d="M122.0,695.8 L123.5,693.4 L125.0,691.0 L126.5,688.5 L128.0,686.0 L129.5,683.6 L131.0,681.2 L132.5,678.8 L134.0,676.5 L135.5,674.3 L137.0,672.2 L138.5,670.3 L140.0,668.5 L141.5,666.8 L143.0,665.4 L144.5,664.1 L146.0,663.1 L147.5,662.3 L149.0,661.8 L150.5,661.5 L152.0,661.4 L153.5,661.5 L155.0,661.8 L156.5,662.3 L158.0,663.0 L159.5,663.7 L161.0,664.6 L162.5,665.6 L164.0,666.6 L165.5,667.6 L167.0,668.6 L168.5,669.6 L170.0,670.4 L171.5,671.1 L173.0,671.6 L174.5,672.0 L176.0,672.3 L177.5,672.5 L179.0,672.8 L180.5,673.2 L182.0,673.7 L183.5,674.5 L185.0,675.5 L186.5,676.8 L188.0,678.4 L189.5,680.3 L191.0,682.4 L192.5,684.8 L194.0,687.4 L195.5,690.1 L197.0,693.1 L198.5,696.3 L200.0,699.6 L201.5,703.1 L203.0,706.7 L204.6,710.4 L206.1,714.2 L207.6,718.1 L209.1,722.0 L210.6,726.0 L212.1,730.1 L213.6,734.2 L215.1,738.3 L216.6,742.4 L218.1,746.5 L219.6,750.6 L221.1,754.7 L222.6,758.8 L224.1,763.0 L225.6,767.2 L227.1,771.3 L228.6,775.5 L230.1,779.8 L231.6,784.0 L233.1,788.3 L234.6,792.6 L236.1,796.9 L237.6,801.3 L239.1,805.7 L240.6,810.1 L242.1,814.5 L243.6,818.9 L245.1,823.3 L246.6,827.7 L248.1,832.1 L249.6,836.5 L251.1,840.8 L252.6,845.2 L254.1,849.5 L255.6,853.7 L257.1,857.9 L258.6,862.1 L260.1,866.2 L261.6,870.2 L263.1,874.2 L264.6,878.1 L266.1,881.9 L267.6,885.7 L269.1,889.4 L270.6,893.1 L272.1,896.7 L273.6,900.2 L275.1,903.6 L276.6,907.0 L278.1,910.3 L279.6,913.6 L281.1,916.8 L282.6,920.0 L284.1,923.1 L285.6,926.1 L287.1,929.1 L288.6,932.1 L290.1,935.0 L291.6,937.8 L293.1,940.7 L294.6,943.5 L296.1,946.2 L297.6,948.9 L299.1,951.6 L300.6,954.3 L302.1,956.9 L303.6,959.5 L305.1,962.1 L306.6,964.7 L308.1,967.2 L309.6,969.7 L311.1,972.1 L312.6,974.6 L314.1,976.9 L315.6,979.3 L317.1,981.6 L318.6,983.9 L320.1,986.1 L321.6,988.3 L323.1,990.4 L324.6,992.5 L326.1,994.6 L327.6,996.6 L329.1,998.5 L330.6,1000.5 L332.1,1002.4 L333.6,1004.2 L335.1,1006.0 L336.6,1007.8 L338.1,1009.5 L339.6,1011.2 L341.1,1012.9 L342.6,1014.5 L344.1,1016.1 L345.6,1017.7 L347.1,1019.2 L348.6,1020.7 L350.1,1022.2 L351.6,1023.6 L353.1,1025.0 L354.6,1026.3 L356.1,1027.7 L357.6,1029.0 L359.1,1030.2 L360.6,1031.5 L362.1,1032.7 L363.6,1033.9 L365.1,1035.0 L366.6,1036.1 L368.2,1037.2 L369.7,1038.3 L371.2,1039.4 L372.7,1040.4 L374.2,1041.4 L375.7,1042.3 L377.2,1043.3 L378.7,1044.2 L380.2,1045.1 L381.7,1046.0 L383.2,1046.9 L384.7,1047.7 L386.2,1048.5 L387.7,1049.3 L389.2,1050.1 L390.7,1050.9 L392.2,1051.6 L393.7,1052.4 L395.2,1053.1 L396.7,1053.8 L398.2,1054.4 L399.7,1055.1 L401.2,1055.7 L402.7,1056.4 L404.2,1057.0 L405.7,1057.6 L407.2,1058.2 L408.7,1058.8 L410.2,1059.3 L411.7,1059.9 L413.2,1060.4 L414.7,1061.0 L416.2,1061.5 L417.7,1062.0 L419.2,1062.5 L420.7,1063.0 L422.2,1063.5 L423.7,1063.9 L425.2,1064.4 L426.7,1064.8 L428.2,1065.3 L429.7,1065.7 L431.2,1066.1 L432.7,1066.5 L434.2,1066.9 L435.7,1067.3 L437.2,1067.7 L438.7,1068.0 L440.2,1068.4 L441.7,1068.7 L443.2,1069.1 L444.7,1069.4 L446.2,1069.7 L447.7,1070.1 L449.2,1070.4 L450.7,1070.7 L452.2,1071.0 L453.7,1071.3 L455.2,1071.5 L456.7,1071.8 L458.2,1072.1 L459.7,1072.3 L461.2,1072.6 L462.7,1072.8 L464.2,1073.1 L465.7,1073.3 L467.2,1073.6 L468.7,1073.8 L470.2,1074.0 L471.7,1074.2 L473.2,1074.4 L474.7,1074.7 L476.2,1074.9 L477.7,1075.1 L479.2,1075.3 L480.7,1075.4 L482.2,1075.6 L483.7,1075.8 L485.2,1076.0 L486.7,1076.2 L488.2,1076.4 L489.7,1076.5 L491.2,1076.7 L492.7,1076.9 L494.2,1077.0 L495.7,1077.2 L497.2,1077.4 L498.7,1077.5 L500.2,1077.7 L501.7,1077.8 L503.2,1078.0 L504.7,1078.2 L506.2,1078.3 L507.7,1078.5 L509.2,1078.6 L510.7,1078.8 L512.2,1078.9 L513.7,1079.0 L515.2,1079.2 L516.7,1079.3 L518.2,1079.5 L519.7,1079.6 L521.2,1079.7 L522.7,1079.9 L524.2,1080.0 L525.7,1080.1 L527.2,1080.2 L528.7,1080.4 L530.2,1080.5 L531.7,1080.6 L533.3,1080.7 L534.8,1080.9 L536.3,1081.0 L537.8,1081.1 L539.3,1081.2 L540.8,1081.3 L542.3,1081.4 L543.8,1081.5 L545.3,1081.6 L546.8,1081.7 L548.3,1081.8 L549.8,1081.9 L551.3,1082.0 L552.8,1082.1 L554.3,1082.2 L555.8,1082.3 L557.3,1082.4 L558.8,1082.5 L560.3,1082.6 L561.8,1082.6 L563.3,1082.7 L564.8,1082.8 L566.3,1082.9 L567.8,1083.0 L569.3,1083.0 L570.8,1083.1 L572.3,1083.2 L573.8,1083.2 L575.3,1083.3 L576.8,1083.4 L578.3,1083.4 L579.8,1083.5 L581.3,1083.5 L582.8,1083.6 L584.3,1083.6 L585.8,1083.7 L587.3,1083.8 L588.8,1083.8 L590.3,1083.8 L591.8,1083.9 L593.3,1083.9 L594.8,1084.0 L596.3,1084.0 L597.8,1084.0 L599.3,1084.1 L600.8,1084.1 L602.3,1084.1 L603.8,1084.2 L605.3,1084.2 L606.8,1084.2 L608.3,1084.2 L609.8,1084.2 L611.3,1084.3 L612.8,1084.3 L614.3,1084.3 L615.8,1084.3 L617.3,1084.3 L618.8,1084.3 L620.3,1084.3 L621.8,1084.3 L623.3,1084.3 L624.8,1084.3 L626.3,1084.3 L627.8,1084.3 L629.3,1084.3 L630.8,1084.3 L632.3,1084.3 L633.8,1084.3 L635.3,1084.3 L636.8,1084.2 L638.3,1084.2 L639.8,1084.2 L641.3,1084.2 L642.8,1084.1 L644.3,1084.1 L645.8,1084.1 L647.3,1084.0 L648.8,1084.0 L650.3,1084.0 L651.8,1083.9 L653.3,1083.9 L654.8,1083.8 L656.3,1083.8 L657.8,1083.7 L659.3,1083.7 L660.8,1083.6 L662.3,1083.6 L663.8,1083.5 L665.3,1083.5 L666.8,1083.4 L668.3,1083.3 L669.8,1083.3 L671.3,1083.2 L672.8,1083.1 L674.3,1083.1 L675.8,1083.0 L677.3,1082.9 L678.8,1082.8 L680.3,1082.8 L681.8,1082.7 L683.3,1082.6 L684.8,1082.5 L686.3,1082.4 L687.8,1082.3 L689.3,1082.2 L690.8,1082.1 L692.3,1082.0 L693.8,1081.9 L695.3,1081.8 L696.9,1081.7 L698.4,1081.6 L699.9,1081.5 L701.4,1081.4 L702.9,1081.3 L704.4,1081.2 L705.9,1081.0 L707.4,1080.9 L708.9,1080.8 L710.4,1080.6 L711.9,1080.5 L713.4,1080.3 L714.9,1080.2 L716.4,1080.0 L717.9,1079.8 L719.4,1079.6 L720.9,1079.4 L722.4,1079.1 L723.9,1078.9 L725.4,1078.6 L726.9,1078.3 L728.4,1078.0 L729.9,1077.6 L731.4,1077.3 L732.9,1076.9 L734.4,1076.4 L735.9,1076.0 L737.4,1075.5 L738.9,1075.0 L740.4,1074.5 L741.9,1073.9 L743.4,1073.3 L744.9,1072.6 L746.4,1072.0 L747.9,1071.2 L749.4,1070.5 L750.9,1069.7 L752.4,1068.9 L753.9,1068.0 L755.4,1067.0 L756.9,1066.1 L758.4,1065.1 L759.9,1064.0 L761.4,1062.9 L762.9,1061.7 L764.4,1060.5 L765.9,1059.2 L767.4,1057.9 L768.9,1056.5 L770.4,1055.1 L771.9,1053.6 L773.4,1052.1 L774.9,1050.5 L776.4,1048.8 L777.9,1047.0" stroke="#002060"/>
</g>
<path d="M172.99,1644.30 V1628.70 M201.65,1644.30 V1628.70 M221.99,1644.30 V1628.70 M237.76,1644.30 V1628.70 M250.64,1644.30 V1628.70 M261.54,1644.30 V1628.70 M270.98,1644.30 V1628.70 M279.30,1644.30 V1628.70 M335.74,1644.30 V1628.70 M364.40,1644.30 V1628.70 M384.74,1644.30 V1628.70 M400.51,1644.30 V1628.70 M413.39,1644.30 V1628.70 M424.29,1644.30 V1628.70 M433.73,1644.30 V1628.70 M442.05,1644.30 V1628.70 M498.49,1644.30 V1628.70 M527.15,1644.30 V1628.70 M547.49,1644.30 V1628.70 M563.26,1644.30 V1628.70 M576.14,1644.30 V1628.70 M587.04,1644.30 V1628.70 M596.48,1644.30 V1628.70 M604.80,1644.30 V1628.70 M661.24,1644.30 V1628.70 M689.90,1644.30 V1628.70 M710.24,1644.30 V1628.70 M726.01,1644.30 V1628.70 M738.89,1644.30 V1628.70 M749.79,1644.30 V1628.70 M759.23,1644.30 V1628.70 M767.55,1644.30 V1628.70" stroke="#000" stroke-width="3.8" fill="none"/>
<path d="M286.75,1644.30 V1623.60 M449.50,1644.30 V1623.60 M612.25,1644.30 V1623.60 M124.00,1513.30 H145.00 M124.00,1381.60 H145.00 M124.00,1250.10 H145.00" stroke="#000" stroke-width="4.0" fill="none"/>
<rect x="124.00" y="1119.00" width="651.00" height="525.30" fill="none" stroke="#000" stroke-linejoin="round" stroke-width="3.9"/>
<g fill="none" stroke-width="4.0" stroke-linejoin="round" stroke-linecap="round">
<path d="M124.0,1618.2 L125.5,1618.6 L127.0,1619.0 L128.5,1619.3 L130.0,1619.6 L131.5,1619.7 L133.0,1619.9 L134.5,1619.9 L136.0,1620.0 L137.5,1619.9 L139.0,1619.9 L140.5,1619.8 L142.0,1619.8 L143.5,1619.7 L145.0,1619.6 L146.5,1619.5 L148.0,1619.4 L149.5,1619.4 L151.0,1619.3 L152.5,1619.2 L154.0,1619.2 L155.5,1619.1 L157.0,1619.0 L158.5,1618.9 L160.0,1618.7 L161.5,1618.6 L163.0,1618.4 L164.5,1618.1 L166.0,1617.9 L167.5,1617.5 L169.0,1617.2 L170.5,1616.8 L172.0,1616.3 L173.5,1615.8 L175.0,1615.3 L176.5,1614.7 L178.0,1614.1 L179.5,1613.5 L181.0,1612.8 L182.5,1612.1 L184.0,1611.4 L185.5,1610.7 L187.0,1610.0 L188.5,1609.3 L190.0,1608.6 L191.5,1607.9 L193.0,1607.3 L194.5,1606.7 L196.0,1606.1 L197.5,1605.6 L199.0,1605.1 L200.5,1604.5 L202.0,1604.0 L203.5,1603.5 L205.0,1603.0 L206.5,1602.5 L208.0,1602.0 L209.5,1601.5 L211.0,1601.0 L212.5,1600.5 L214.0,1599.9 L215.5,1599.4 L217.0,1598.8 L218.5,1598.2 L220.0,1597.6 L221.5,1597.0 L223.0,1596.3 L224.5,1595.6 L226.0,1594.9 L227.5,1594.1 L229.0,1593.3 L230.5,1592.5 L232.0,1591.7 L233.6,1590.8 L235.1,1589.9 L236.6,1588.9 L238.1,1587.9 L239.6,1586.9 L241.1,1585.9 L242.6,1584.9 L244.1,1583.8 L245.6,1582.7 L247.1,1581.6 L248.6,1580.5 L250.1,1579.3 L251.6,1578.2 L253.1,1577.0 L254.6,1575.8 L256.1,1574.5 L257.6,1573.3 L259.1,1572.0 L260.6,1570.8 L262.1,1569.5 L263.6,1568.2 L265.1,1566.9 L266.6,1565.6 L268.1,1564.2 L269.6,1562.9 L271.1,1561.5 L272.6,1560.1 L274.1,1558.7 L275.6,1557.3 L277.1,1555.8 L278.6,1554.3 L280.1,1552.8 L281.6,1551.3 L283.1,1549.8 L284.6,1548.2 L286.1,1546.6 L287.6,1545.0 L289.1,1543.4 L290.6,1541.7 L292.1,1540.0 L293.6,1538.2 L295.1,1536.5 L296.6,1534.7 L298.1,1532.9 L299.6,1531.0 L301.1,1529.1 L302.6,1527.2 L304.1,1525.2 L305.6,1523.2 L307.1,1521.2 L308.6,1519.1 L310.1,1517.0 L311.6,1514.8 L313.1,1512.6 L314.6,1510.4 L316.1,1508.1 L317.6,1505.8 L319.1,1503.5 L320.6,1501.2 L322.1,1498.9 L323.6,1496.6 L325.1,1494.2 L326.6,1491.9 L328.1,1489.6 L329.6,1487.3 L331.1,1485.1 L332.6,1482.8 L334.1,1480.6 L335.6,1478.5 L337.1,1476.3 L338.6,1474.3 L340.1,1472.3 L341.6,1470.3 L343.1,1468.4 L344.6,1466.6 L346.1,1464.8 L347.6,1463.1 L349.1,1461.5 L350.6,1459.9 L352.1,1458.4 L353.6,1457.0 L355.1,1455.6 L356.6,1454.3 L358.1,1453.0 L359.6,1451.8 L361.1,1450.7 L362.6,1449.6 L364.1,1448.6 L365.6,1447.7 L367.1,1446.8 L368.6,1446.0 L370.1,1445.3 L371.6,1444.6 L373.1,1444.0 L374.6,1443.4 L376.1,1443.0 L377.6,1442.6 L379.1,1442.2 L380.6,1442.0 L382.1,1441.8 L383.6,1441.7 L385.1,1441.6 L386.6,1441.6 L388.1,1441.7 L389.6,1441.8 L391.1,1442.1 L392.6,1442.4 L394.1,1442.7 L395.6,1443.1 L397.1,1443.6 L398.6,1444.2 L400.1,1444.9 L401.6,1445.6 L403.1,1446.4 L404.6,1447.2 L406.1,1448.2 L407.6,1449.2 L409.1,1450.3 L410.6,1451.4 L412.1,1452.7 L413.6,1454.0 L415.1,1455.4 L416.6,1456.8 L418.1,1458.3 L419.6,1460.0 L421.1,1461.6 L422.6,1463.4 L424.1,1465.2 L425.6,1467.1 L427.1,1469.1 L428.6,1471.1 L430.1,1473.1 L431.6,1475.2 L433.1,1477.4 L434.6,1479.6 L436.1,1481.8 L437.6,1484.0 L439.1,1486.3 L440.6,1488.6 L442.1,1490.9 L443.6,1493.3 L445.1,1495.6 L446.6,1498.0 L448.1,1500.3 L449.6,1502.7 L451.2,1505.1 L452.7,1507.4 L454.2,1509.7 L455.7,1512.0 L457.2,1514.3 L458.7,1516.6 L460.2,1518.8 L461.7,1521.0 L463.2,1523.2 L464.7,1525.3 L466.2,1527.4 L467.7,1529.4 L469.2,1531.5 L470.7,1533.5 L472.2,1535.4 L473.7,1537.4 L475.2,1539.3 L476.7,1541.1 L478.2,1543.0 L479.7,1544.8 L481.2,1546.6 L482.7,1548.3 L484.2,1550.1 L485.7,1551.7 L487.2,1553.4 L488.7,1555.0 L490.2,1556.7 L491.7,1558.2 L493.2,1559.8 L494.7,1561.3 L496.2,1562.8 L497.7,1564.3 L499.2,1565.8 L500.7,1567.2 L502.2,1568.6 L503.7,1570.0 L505.2,1571.3 L506.7,1572.7 L508.2,1574.0 L509.7,1575.3 L511.2,1576.5 L512.7,1577.8 L514.2,1579.0 L515.7,1580.2 L517.2,1581.3 L518.7,1582.5 L520.2,1583.6 L521.7,1584.7 L523.2,1585.8 L524.7,1586.9 L526.2,1587.9 L527.7,1589.0 L529.2,1590.0 L530.7,1591.0 L532.2,1591.9 L533.7,1592.9 L535.2,1593.8 L536.7,1594.8 L538.2,1595.7 L539.7,1596.5 L541.2,1597.4 L542.7,1598.3 L544.2,1599.1 L545.7,1599.9 L547.2,1600.7 L548.7,1601.5 L550.2,1602.3 L551.7,1603.0 L553.2,1603.8 L554.7,1604.5 L556.2,1605.2 L557.7,1605.9 L559.2,1606.6 L560.7,1607.3 L562.2,1608.0 L563.7,1608.6 L565.2,1609.2 L566.7,1609.9 L568.2,1610.5 L569.7,1611.1 L571.2,1611.7 L572.7,1612.3 L574.2,1612.8 L575.7,1613.4 L577.2,1614.0 L578.7,1614.5 L580.2,1615.0 L581.7,1615.5 L583.2,1616.1 L584.7,1616.6 L586.2,1617.1 L587.7,1617.5 L589.2,1618.0 L590.7,1618.5 L592.2,1618.9 L593.7,1619.4 L595.2,1619.8 L596.7,1620.2 L598.2,1620.6 L599.7,1621.0 L601.2,1621.4 L602.7,1621.8 L604.2,1622.2 L605.7,1622.5 L607.2,1622.9 L608.7,1623.2 L610.2,1623.5 L611.7,1623.9 L613.2,1624.2 L614.7,1624.5 L616.2,1624.8 L617.7,1625.0 L619.2,1625.3 L620.7,1625.6 L622.2,1625.8 L623.7,1626.1 L625.2,1626.3 L626.7,1626.5 L628.2,1626.7 L629.7,1626.9 L631.2,1627.1 L632.7,1627.3 L634.2,1627.5 L635.7,1627.6 L637.2,1627.8 L638.7,1627.9 L640.2,1628.1 L641.7,1628.2 L643.2,1628.3 L644.7,1628.4 L646.2,1628.5 L647.7,1628.6 L649.2,1628.6 L650.7,1628.7 L652.2,1628.8 L653.7,1628.8 L655.2,1628.8 L656.7,1628.9 L658.2,1628.9 L659.7,1628.9 L661.2,1628.9 L662.7,1628.9 L664.2,1628.9 L665.7,1628.8 L667.3,1628.8 L668.8,1628.7 L670.3,1628.7 L671.8,1628.6 L673.3,1628.5 L674.8,1628.4 L676.3,1628.3 L677.8,1628.2 L679.3,1628.1 L680.8,1628.0 L682.3,1627.8 L683.8,1627.7 L685.3,1627.5 L686.8,1627.3 L688.3,1627.2 L689.8,1627.0 L691.3,1626.8 L692.8,1626.6 L694.3,1626.4 L695.8,1626.2 L697.3,1625.9 L698.8,1625.7 L700.3,1625.5 L701.8,1625.2 L703.3,1624.9 L704.8,1624.7 L706.3,1624.4 L707.8,1624.1 L709.3,1623.9 L710.8,1623.6 L712.3,1623.3 L713.8,1623.0 L715.3,1622.7 L716.8,1622.4 L718.3,1622.0 L719.8,1621.7 L721.3,1621.4 L722.8,1621.0 L724.3,1620.6 L725.8,1620.2 L727.3,1619.7 L728.8,1619.2 L730.3,1618.6 L731.8,1618.0 L733.3,1617.4 L734.8,1616.6 L736.3,1615.8 L737.8,1615.0 L739.3,1614.0 L740.8,1613.0 L742.3,1611.8 L743.8,1610.6 L745.3,1609.3 L746.8,1607.8 L748.3,1606.3 L749.8,1604.6 L751.3,1602.8 L752.8,1600.8 L754.3,1598.7 L755.8,1596.4 L757.3,1594.0 L758.8,1591.4 L760.3,1588.6 L761.8,1585.7 L763.3,1582.6 L764.8,1579.3 L766.3,1575.9 L767.8,1572.3 L769.3,1568.5 L770.8,1564.5 L772.3,1560.4 L773.8,1556.1 L775.3,1551.7" stroke="#FF0000"/>
<path d="M124.0,1617.7 L125.5,1617.8 L127.0,1617.9 L128.5,1618.0 L130.0,1618.1 L131.5,1618.0 L133.0,1618.0 L134.5,1617.9 L136.0,1617.8 L137.5,1617.7 L139.0,1617.5 L140.5,1617.3 L142.0,1617.0 L143.5,1616.8 L145.0,1616.5 L146.5,1616.2 L148.0,1615.8 L149.5,1615.5 L151.0,1615.1 L152.5,1614.7 L154.0,1614.3 L155.5,1613.9 L157.0,1613.5 L158.5,1613.0 L160.0,1612.6 L161.5,1612.1 L163.0,1611.6 L164.5,1611.2 L166.0,1610.7 L167.5,1610.2 L169.0,1609.7 L170.5,1609.3 L172.0,1608.8 L173.5,1608.3 L175.0,1607.9 L176.5,1607.4 L178.0,1607.0 L179.5,1606.5 L181.0,1606.1 L182.5,1605.6 L184.0,1605.2 L185.5,1604.7 L187.0,1604.3 L188.5,1603.8 L190.0,1603.4 L191.5,1602.9 L193.0,1602.4 L194.5,1601.9 L196.0,1601.4 L197.5,1600.9 L199.0,1600.4 L200.5,1599.8 L202.0,1599.3 L203.5,1598.7 L205.0,1598.1 L206.5,1597.4 L208.0,1596.8 L209.5,1596.1 L211.0,1595.4 L212.5,1594.7 L214.0,1593.9 L215.5,1593.1 L217.0,1592.3 L218.5,1591.4 L220.0,1590.6 L221.5,1589.7 L223.0,1588.7 L224.5,1587.8 L226.0,1586.8 L227.5,1585.8 L229.0,1584.8 L230.5,1583.7 L232.0,1582.6 L233.6,1581.5 L235.1,1580.4 L236.6,1579.3 L238.1,1578.1 L239.6,1576.9 L241.1,1575.7 L242.6,1574.5 L244.1,1573.2 L245.6,1571.9 L247.1,1570.6 L248.6,1569.3 L250.1,1568.0 L251.6,1566.6 L253.1,1565.3 L254.6,1563.9 L256.1,1562.5 L257.6,1561.0 L259.1,1559.6 L260.6,1558.1 L262.1,1556.6 L263.6,1555.1 L265.1,1553.5 L266.6,1552.0 L268.1,1550.4 L269.6,1548.8 L271.1,1547.1 L272.6,1545.5 L274.1,1543.8 L275.6,1542.1 L277.1,1540.3 L278.6,1538.5 L280.1,1536.7 L281.6,1534.9 L283.1,1533.1 L284.6,1531.2 L286.1,1529.3 L287.6,1527.3 L289.1,1525.4 L290.6,1523.4 L292.1,1521.4 L293.6,1519.3 L295.1,1517.3 L296.6,1515.2 L298.1,1513.1 L299.6,1511.1 L301.1,1508.9 L302.6,1506.8 L304.1,1504.7 L305.6,1502.6 L307.1,1500.5 L308.6,1498.4 L310.1,1496.3 L311.6,1494.2 L313.1,1492.1 L314.6,1490.0 L316.1,1487.9 L317.6,1485.8 L319.1,1483.8 L320.6,1481.8 L322.1,1479.8 L323.6,1477.8 L325.1,1475.9 L326.6,1474.0 L328.1,1472.1 L329.6,1470.2 L331.1,1468.4 L332.6,1466.6 L334.1,1464.9 L335.6,1463.2 L337.1,1461.5 L338.6,1459.9 L340.1,1458.4 L341.6,1456.9 L343.1,1455.5 L344.6,1454.1 L346.1,1452.7 L347.6,1451.5 L349.1,1450.3 L350.6,1449.1 L352.1,1448.0 L353.6,1447.0 L355.1,1446.1 L356.6,1445.3 L358.1,1444.5 L359.6,1443.8 L361.1,1443.2 L362.6,1442.6 L364.1,1442.2 L365.6,1441.8 L367.1,1441.5 L368.6,1441.3 L370.1,1441.2 L371.6,1441.2 L373.1,1441.2 L374.6,1441.4 L376.1,1441.6 L377.6,1441.9 L379.1,1442.3 L380.6,1442.7 L382.1,1443.3 L383.6,1443.9 L385.1,1444.7 L386.6,1445.5 L388.1,1446.3 L389.6,1447.3 L391.1,1448.4 L392.6,1449.5 L394.1,1450.7 L395.6,1452.0 L397.1,1453.4 L398.6,1454.8 L400.1,1456.4 L401.6,1458.0 L403.1,1459.6 L404.6,1461.3 L406.1,1463.1 L407.6,1464.9 L409.1,1466.8 L410.6,1468.7 L412.1,1470.7 L413.6,1472.7 L415.1,1474.8 L416.6,1476.9 L418.1,1479.0 L419.6,1481.1 L421.1,1483.3 L422.6,1485.4 L424.1,1487.6 L425.6,1489.9 L427.1,1492.1 L428.6,1494.3 L430.1,1496.5 L431.6,1498.7 L433.1,1501.0 L434.6,1503.2 L436.1,1505.4 L437.6,1507.5 L439.1,1509.7 L440.6,1511.8 L442.1,1514.0 L443.6,1516.1 L445.1,1518.1 L446.6,1520.2 L448.1,1522.2 L449.6,1524.2 L451.2,1526.2 L452.7,1528.1 L454.2,1530.0 L455.7,1531.9 L457.2,1533.8 L458.7,1535.7 L460.2,1537.5 L461.7,1539.3 L463.2,1541.1 L464.7,1542.9 L466.2,1544.6 L467.7,1546.3 L469.2,1548.0 L470.7,1549.7 L472.2,1551.3 L473.7,1553.0 L475.2,1554.6 L476.7,1556.2 L478.2,1557.7 L479.7,1559.3 L481.2,1560.8 L482.7,1562.3 L484.2,1563.8 L485.7,1565.3 L487.2,1566.7 L488.7,1568.1 L490.2,1569.5 L491.7,1570.9 L493.2,1572.3 L494.7,1573.6 L496.2,1574.9 L497.7,1576.2 L499.2,1577.5 L500.7,1578.7 L502.2,1580.0 L503.7,1581.2 L505.2,1582.4 L506.7,1583.6 L508.2,1584.8 L509.7,1585.9 L511.2,1587.0 L512.7,1588.1 L514.2,1589.2 L515.7,1590.3 L517.2,1591.4 L518.7,1592.4 L520.2,1593.4 L521.7,1594.4 L523.2,1595.4 L524.7,1596.3 L526.2,1597.3 L527.7,1598.2 L529.2,1599.1 L530.7,1600.0 L532.2,1600.9 L533.7,1601.8 L535.2,1602.6 L536.7,1603.4 L538.2,1604.3 L539.7,1605.1 L541.2,1605.8 L542.7,1606.6 L544.2,1607.3 L545.7,1608.1 L547.2,1608.8 L548.7,1609.5 L550.2,1610.2 L551.7,1610.8 L553.2,1611.5 L554.7,1612.1 L556.2,1612.8 L557.7,1613.4 L559.2,1614.0 L560.7,1614.6 L562.2,1615.1 L563.7,1615.7 L565.2,1616.2 L566.7,1616.7 L568.2,1617.2 L569.7,1617.7 L571.2,1618.2 L572.7,1618.7 L574.2,1619.1 L575.7,1619.6 L577.2,1620.0 L578.7,1620.4 L580.2,1620.8 L581.7,1621.2 L583.2,1621.6 L584.7,1622.0 L586.2,1622.3 L587.7,1622.7 L589.2,1623.0 L590.7,1623.3 L592.2,1623.6 L593.7,1623.9 L595.2,1624.2 L596.7,1624.5 L598.2,1624.7 L599.7,1625.0 L601.2,1625.2 L602.7,1625.4 L604.2,1625.7 L605.7,1625.9 L607.2,1626.1 L608.7,1626.2 L610.2,1626.4 L611.7,1626.6 L613.2,1626.8 L614.7,1626.9 L616.2,1627.0 L617.7,1627.2 L619.2,1627.3 L620.7,1627.4 L622.2,1627.5 L623.7,1627.6 L625.2,1627.7 L626.7,1627.8 L628.2,1627.9 L629.7,1627.9 L631.2,1628.0 L632.7,1628.0 L634.2,1628.1 L635.7,1628.1 L637.2,1628.1 L638.7,1628.2 L640.2,1628.2 L641.7,1628.2 L643.2,1628.2 L644.7,1628.2 L646.2,1628.2 L647.7,1628.2 L649.2,1628.2 L650.7,1628.2 L652.2,1628.1 L653.7,1628.1 L655.2,1628.1 L656.7,1628.0 L658.2,1628.0 L659.7,1627.9 L661.2,1627.9 L662.7,1627.8 L664.2,1627.8 L665.7,1627.7 L667.3,1627.6 L668.8,1627.6 L670.3,1627.5 L671.8,1627.4 L673.3,1627.4 L674.8,1627.3 L676.3,1627.2 L677.8,1627.1 L679.3,1627.0 L680.8,1626.9 L682.3,1626.9 L683.8,1626.8 L685.3,1626.7 L686.8,1626.6 L688.3,1626.5 L689.8,1626.4 L691.3,1626.3 L692.8,1626.2 L694.3,1626.1 L695.8,1626.0 L697.3,1625.9 L698.8,1625.9 L700.3,1625.8 L701.8,1625.7 L703.3,1625.6 L704.8,1625.5 L706.3,1625.4 L707.8,1625.3 L709.3,1625.2 L710.8,1625.0 L712.3,1624.8 L713.8,1624.7 L715.3,1624.4 L716.8,1624.2 L718.3,1623.9 L719.8,1623.6 L721.3,1623.3 L722.8,1622.9 L724.3,1622.4 L725.8,1621.9 L727.3,1621.4 L728.8,1620.8 L730.3,1620.1 L731.8,1619.4 L733.3,1618.6 L734.8,1617.8 L736.3,1616.9 L737.8,1615.9 L739.3,1614.8 L740.8,1613.6 L742.3,1612.4 L743.8,1611.1 L745.3,1609.6 L746.8,1608.1 L748.3,1606.5 L749.8,1604.8 L751.3,1603.0 L752.8,1601.0 L754.3,1598.9 L755.8,1596.7 L757.3,1594.4 L758.8,1591.9 L760.3,1589.2 L761.8,1586.4 L763.3,1583.4 L764.8,1580.2 L766.3,1576.8 L767.8,1573.3 L769.3,1569.5 L770.8,1565.5 L772.3,1561.3 L773.8,1556.9 L775.3,1552.3" stroke="#FF99CC"/>
<path d="M124.0,1614.3 L125.5,1614.6 L127.0,1615.0 L128.5,1615.2 L130.0,1615.5 L131.5,1615.6 L133.0,1615.8 L134.5,1615.8 L136.0,1615.8 L137.5,1615.8 L139.0,1615.6 L140.5,1615.5 L142.0,1615.2 L143.5,1614.9 L145.0,1614.6 L146.5,1614.1 L148.0,1613.6 L149.5,1613.1 L151.0,1612.5 L152.5,1611.8 L154.0,1611.1 L155.5,1610.4 L157.0,1609.7 L158.5,1608.9 L160.0,1608.2 L161.5,1607.4 L163.0,1606.7 L164.5,1606.0 L166.0,1605.3 L167.5,1604.6 L169.0,1604.0 L170.5,1603.4 L172.0,1602.9 L173.5,1602.3 L175.0,1601.8 L176.5,1601.3 L178.0,1600.8 L179.5,1600.3 L181.0,1599.8 L182.5,1599.3 L184.0,1598.9 L185.5,1598.4 L187.0,1597.9 L188.5,1597.4 L190.0,1596.8 L191.5,1596.3 L193.0,1595.7 L194.5,1595.1 L196.0,1594.5 L197.5,1593.8 L199.0,1593.1 L200.5,1592.3 L202.0,1591.6 L203.5,1590.7 L205.0,1589.9 L206.5,1589.0 L208.0,1588.1 L209.5,1587.2 L211.0,1586.2 L212.5,1585.2 L214.0,1584.1 L215.5,1583.1 L217.0,1582.0 L218.5,1580.9 L220.0,1579.7 L221.5,1578.5 L223.0,1577.3 L224.5,1576.1 L226.0,1574.8 L227.5,1573.6 L229.0,1572.2 L230.5,1570.9 L232.0,1569.6 L233.6,1568.2 L235.1,1566.8 L236.6,1565.4 L238.1,1564.0 L239.6,1562.5 L241.1,1561.0 L242.6,1559.5 L244.1,1558.0 L245.6,1556.5 L247.1,1554.9 L248.6,1553.3 L250.1,1551.7 L251.6,1550.1 L253.1,1548.5 L254.6,1546.8 L256.1,1545.2 L257.6,1543.5 L259.1,1541.8 L260.6,1540.0 L262.1,1538.3 L263.6,1536.5 L265.1,1534.7 L266.6,1532.9 L268.1,1531.1 L269.6,1529.2 L271.1,1527.4 L272.6,1525.5 L274.1,1523.6 L275.6,1521.6 L277.1,1519.7 L278.6,1517.7 L280.1,1515.8 L281.6,1513.8 L283.1,1511.8 L284.6,1509.8 L286.1,1507.8 L287.6,1505.8 L289.1,1503.7 L290.6,1501.7 L292.1,1499.7 L293.6,1497.7 L295.1,1495.7 L296.6,1493.7 L298.1,1491.7 L299.6,1489.7 L301.1,1487.7 L302.6,1485.7 L304.1,1483.8 L305.6,1481.8 L307.1,1479.9 L308.6,1478.0 L310.1,1476.2 L311.6,1474.3 L313.1,1472.5 L314.6,1470.7 L316.1,1468.9 L317.6,1467.1 L319.1,1465.4 L320.6,1463.8 L322.1,1462.1 L323.6,1460.5 L325.1,1458.9 L326.6,1457.4 L328.1,1455.9 L329.6,1454.5 L331.1,1453.1 L332.6,1451.8 L334.1,1450.5 L335.6,1449.2 L337.1,1448.0 L338.6,1446.9 L340.1,1445.8 L341.6,1444.8 L343.1,1443.8 L344.6,1443.0 L346.1,1442.1 L347.6,1441.4 L349.1,1440.7 L350.6,1440.1 L352.1,1439.6 L353.6,1439.2 L355.1,1438.8 L356.6,1438.6 L358.1,1438.4 L359.6,1438.4 L361.1,1438.4 L362.6,1438.6 L364.1,1438.9 L365.6,1439.2 L367.1,1439.7 L368.6,1440.4 L370.1,1441.1 L371.6,1442.0 L373.1,1442.9 L374.6,1444.0 L376.1,1445.1 L377.6,1446.4 L379.1,1447.7 L380.6,1449.2 L382.1,1450.7 L383.6,1452.2 L385.1,1453.9 L386.6,1455.6 L388.1,1457.3 L389.6,1459.1 L391.1,1461.0 L392.6,1462.9 L394.1,1464.8 L395.6,1466.7 L397.1,1468.7 L398.6,1470.7 L400.1,1472.7 L401.6,1474.7 L403.1,1476.8 L404.6,1478.8 L406.1,1480.8 L407.6,1482.9 L409.1,1484.9 L410.6,1487.0 L412.1,1489.0 L413.6,1491.1 L415.1,1493.2 L416.6,1495.2 L418.1,1497.3 L419.6,1499.4 L421.1,1501.4 L422.6,1503.5 L424.1,1505.5 L425.6,1507.6 L427.1,1509.7 L428.6,1511.7 L430.1,1513.8 L431.6,1515.8 L433.1,1517.8 L434.6,1519.8 L436.1,1521.9 L437.6,1523.9 L439.1,1525.9 L440.6,1527.9 L442.1,1529.8 L443.6,1531.8 L445.1,1533.8 L446.6,1535.7 L448.1,1537.6 L449.6,1539.5 L451.2,1541.4 L452.7,1543.3 L454.2,1545.2 L455.7,1547.0 L457.2,1548.9 L458.7,1550.7 L460.2,1552.5 L461.7,1554.2 L463.2,1556.0 L464.7,1557.7 L466.2,1559.4 L467.7,1561.1 L469.2,1562.8 L470.7,1564.4 L472.2,1566.0 L473.7,1567.6 L475.2,1569.1 L476.7,1570.7 L478.2,1572.2 L479.7,1573.6 L481.2,1575.1 L482.7,1576.5 L484.2,1577.9 L485.7,1579.2 L487.2,1580.6 L488.7,1581.9 L490.2,1583.1 L491.7,1584.4 L493.2,1585.6 L494.7,1586.8 L496.2,1588.0 L497.7,1589.1 L499.2,1590.2 L500.7,1591.3 L502.2,1592.4 L503.7,1593.4 L505.2,1594.4 L506.7,1595.4 L508.2,1596.4 L509.7,1597.4 L511.2,1598.3 L512.7,1599.2 L514.2,1600.1 L515.7,1600.9 L517.2,1601.8 L518.7,1602.6 L520.2,1603.4 L521.7,1604.2 L523.2,1604.9 L524.7,1605.7 L526.2,1606.4 L527.7,1607.1 L529.2,1607.8 L530.7,1608.5 L532.2,1609.1 L533.7,1609.8 L535.2,1610.4 L536.7,1611.0 L538.2,1611.6 L539.7,1612.2 L541.2,1612.7 L542.7,1613.3 L544.2,1613.8 L545.7,1614.3 L547.2,1614.8 L548.7,1615.3 L550.2,1615.8 L551.7,1616.3 L553.2,1616.7 L554.7,1617.2 L556.2,1617.6 L557.7,1618.0 L559.2,1618.5 L560.7,1618.9 L562.2,1619.3 L563.7,1619.7 L565.2,1620.0 L566.7,1620.4 L568.2,1620.8 L569.7,1621.1 L571.2,1621.4 L572.7,1621.8 L574.2,1622.1 L575.7,1622.4 L577.2,1622.7 L578.7,1623.0 L580.2,1623.3 L581.7,1623.6 L583.2,1623.9 L584.7,1624.1 L586.2,1624.4 L587.7,1624.6 L589.2,1624.9 L590.7,1625.1 L592.2,1625.3 L593.7,1625.5 L595.2,1625.7 L596.7,1625.9 L598.2,1626.1 L599.7,1626.3 L601.2,1626.5 L602.7,1626.7 L604.2,1626.8 L605.7,1627.0 L607.2,1627.1 L608.7,1627.3 L610.2,1627.4 L611.7,1627.5 L613.2,1627.7 L614.7,1627.8 L616.2,1627.9 L617.7,1628.0 L619.2,1628.1 L620.7,1628.2 L622.2,1628.3 L623.7,1628.4 L625.2,1628.4 L626.7,1628.5 L628.2,1628.6 L629.7,1628.6 L631.2,1628.7 L632.7,1628.7 L634.2,1628.8 L635.7,1628.8 L637.2,1628.8 L638.7,1628.9 L640.2,1628.9 L641.7,1628.9 L643.2,1628.9 L644.7,1628.9 L646.2,1628.9 L647.7,1628.9 L649.2,1628.9 L650.7,1628.9 L652.2,1628.9 L653.7,1628.8 L655.2,1628.8 L656.7,1628.8 L658.2,1628.8 L659.7,1628.7 L661.2,1628.7 L662.7,1628.6 L664.2,1628.6 L665.7,1628.5 L667.3,1628.5 L668.8,1628.4 L670.3,1628.3 L671.8,1628.3 L673.3,1628.2 L674.8,1628.1 L676.3,1628.1 L677.8,1628.0 L679.3,1627.9 L680.8,1627.8 L682.3,1627.7 L683.8,1627.7 L685.3,1627.6 L686.8,1627.5 L688.3,1627.4 L689.8,1627.3 L691.3,1627.2 L692.8,1627.1 L694.3,1627.0 L695.8,1626.9 L697.3,1626.8 L698.8,1626.7 L700.3,1626.5 L701.8,1626.4 L703.3,1626.3 L704.8,1626.2 L706.3,1626.1 L707.8,1625.9 L709.3,1625.8 L710.8,1625.6 L712.3,1625.4 L713.8,1625.2 L715.3,1624.9 L716.8,1624.7 L718.3,1624.4 L719.8,1624.0 L721.3,1623.6 L722.8,1623.2 L724.3,1622.8 L725.8,1622.2 L727.3,1621.7 L728.8,1621.1 L730.3,1620.4 L731.8,1619.7 L733.3,1618.9 L734.8,1618.0 L736.3,1617.1 L737.8,1616.1 L739.3,1615.0 L740.8,1613.9 L742.3,1612.6 L743.8,1611.3 L745.3,1609.9 L746.8,1608.5 L748.3,1606.9 L749.8,1605.2 L751.3,1603.4 L752.8,1601.5 L754.3,1599.5 L755.8,1597.3 L757.3,1595.0 L758.8,1592.5 L760.3,1589.8 L761.8,1587.0 L763.3,1584.0 L764.8,1580.8 L766.3,1577.4 L767.8,1573.8 L769.3,1570.0 L770.8,1565.9 L772.3,1561.7 L773.8,1557.3 L775.3,1552.6" stroke="#FFC000"/>
<path d="M124.0,1609.7 L125.5,1609.7 L127.0,1609.7 L128.5,1609.7 L130.0,1609.7 L131.5,1609.7 L133.0,1609.8 L134.5,1609.8 L136.0,1609.7 L137.5,1609.7 L139.0,1609.5 L140.5,1609.3 L142.0,1608.9 L143.5,1608.5 L145.0,1607.9 L146.5,1607.3 L148.0,1606.5 L149.5,1605.6 L151.0,1604.7 L152.5,1603.7 L154.0,1602.6 L155.5,1601.5 L157.0,1600.5 L158.5,1599.4 L160.0,1598.3 L161.5,1597.2 L163.0,1596.2 L164.5,1595.2 L166.0,1594.3 L167.5,1593.5 L169.0,1592.7 L170.5,1592.0 L172.0,1591.4 L173.5,1590.9 L175.0,1590.5 L176.5,1590.2 L178.0,1589.9 L179.5,1589.6 L181.0,1589.2 L182.5,1588.8 L184.0,1588.4 L185.5,1587.9 L187.0,1587.3 L188.5,1586.6 L190.0,1585.9 L191.5,1585.2 L193.0,1584.4 L194.5,1583.5 L196.0,1582.7 L197.5,1581.8 L199.0,1580.8 L200.5,1579.9 L202.0,1578.9 L203.5,1577.9 L205.0,1576.9 L206.5,1575.9 L208.0,1574.8 L209.5,1573.7 L211.0,1572.6 L212.5,1571.5 L214.0,1570.3 L215.5,1569.1 L217.0,1567.9 L218.5,1566.7 L220.0,1565.4 L221.5,1564.1 L223.0,1562.8 L224.5,1561.5 L226.0,1560.2 L227.5,1558.8 L229.0,1557.4 L230.5,1556.0 L232.0,1554.5 L233.6,1553.1 L235.1,1551.6 L236.6,1550.0 L238.1,1548.5 L239.6,1546.9 L241.1,1545.3 L242.6,1543.7 L244.1,1542.1 L245.6,1540.4 L247.1,1538.7 L248.6,1537.0 L250.1,1535.2 L251.6,1533.4 L253.1,1531.6 L254.6,1529.8 L256.1,1528.0 L257.6,1526.1 L259.1,1524.2 L260.6,1522.2 L262.1,1520.3 L263.6,1518.3 L265.1,1516.3 L266.6,1514.2 L268.1,1512.2 L269.6,1510.1 L271.1,1508.0 L272.6,1505.8 L274.1,1503.7 L275.6,1501.5 L277.1,1499.2 L278.6,1497.0 L280.1,1494.7 L281.6,1492.5 L283.1,1490.2 L284.6,1488.0 L286.1,1485.7 L287.6,1483.5 L289.1,1481.2 L290.6,1479.0 L292.1,1476.8 L293.6,1474.7 L295.1,1472.6 L296.6,1470.5 L298.1,1468.4 L299.6,1466.4 L301.1,1464.5 L302.6,1462.6 L304.1,1460.8 L305.6,1459.0 L307.1,1457.4 L308.6,1455.8 L310.1,1454.2 L311.6,1452.8 L313.1,1451.4 L314.6,1450.1 L316.1,1448.9 L317.6,1447.8 L319.1,1446.7 L320.6,1445.7 L322.1,1444.8 L323.6,1443.9 L325.1,1443.1 L326.6,1442.3 L328.1,1441.6 L329.6,1440.9 L331.1,1440.3 L332.6,1439.7 L334.1,1439.2 L335.6,1438.7 L337.1,1438.2 L338.6,1437.9 L340.1,1437.6 L341.6,1437.3 L343.1,1437.1 L344.6,1437.0 L346.1,1437.0 L347.6,1437.1 L349.1,1437.2 L350.6,1437.4 L352.1,1437.8 L353.6,1438.2 L355.1,1438.7 L356.6,1439.3 L358.1,1440.1 L359.6,1440.9 L361.1,1441.9 L362.6,1443.0 L364.1,1444.2 L365.6,1445.5 L367.1,1446.9 L368.6,1448.4 L370.1,1450.0 L371.6,1451.7 L373.1,1453.5 L374.6,1455.3 L376.1,1457.2 L377.6,1459.2 L379.1,1461.3 L380.6,1463.4 L382.1,1465.5 L383.6,1467.7 L385.1,1470.0 L386.6,1472.2 L388.1,1474.5 L389.6,1476.8 L391.1,1479.2 L392.6,1481.5 L394.1,1483.8 L395.6,1486.2 L397.1,1488.5 L398.6,1490.8 L400.1,1493.1 L401.6,1495.4 L403.1,1497.7 L404.6,1499.9 L406.1,1502.1 L407.6,1504.3 L409.1,1506.5 L410.6,1508.6 L412.1,1510.7 L413.6,1512.8 L415.1,1514.9 L416.6,1516.9 L418.1,1519.0 L419.6,1521.0 L421.1,1523.0 L422.6,1524.9 L424.1,1526.9 L425.6,1528.8 L427.1,1530.7 L428.6,1532.6 L430.1,1534.4 L431.6,1536.2 L433.1,1538.0 L434.6,1539.8 L436.1,1541.6 L437.6,1543.3 L439.1,1545.1 L440.6,1546.8 L442.1,1548.5 L443.6,1550.1 L445.1,1551.8 L446.6,1553.4 L448.1,1555.0 L449.6,1556.6 L451.2,1558.1 L452.7,1559.7 L454.2,1561.2 L455.7,1562.7 L457.2,1564.2 L458.7,1565.6 L460.2,1567.0 L461.7,1568.5 L463.2,1569.9 L464.7,1571.2 L466.2,1572.6 L467.7,1574.0 L469.2,1575.3 L470.7,1576.6 L472.2,1577.9 L473.7,1579.1 L475.2,1580.4 L476.7,1581.6 L478.2,1582.8 L479.7,1584.0 L481.2,1585.2 L482.7,1586.3 L484.2,1587.5 L485.7,1588.6 L487.2,1589.7 L488.7,1590.8 L490.2,1591.8 L491.7,1592.9 L493.2,1593.9 L494.7,1594.9 L496.2,1595.9 L497.7,1596.9 L499.2,1597.9 L500.7,1598.8 L502.2,1599.7 L503.7,1600.6 L505.2,1601.5 L506.7,1602.4 L508.2,1603.3 L509.7,1604.1 L511.2,1604.9 L512.7,1605.7 L514.2,1606.5 L515.7,1607.3 L517.2,1608.1 L518.7,1608.8 L520.2,1609.6 L521.7,1610.3 L523.2,1611.0 L524.7,1611.6 L526.2,1612.3 L527.7,1613.0 L529.2,1613.6 L530.7,1614.2 L532.2,1614.8 L533.7,1615.4 L535.2,1616.0 L536.7,1616.6 L538.2,1617.1 L539.7,1617.6 L541.2,1618.1 L542.7,1618.7 L544.2,1619.1 L545.7,1619.6 L547.2,1620.1 L548.7,1620.5 L550.2,1621.0 L551.7,1621.4 L553.2,1621.8 L554.7,1622.2 L556.2,1622.6 L557.7,1623.0 L559.2,1623.3 L560.7,1623.7 L562.2,1624.0 L563.7,1624.4 L565.2,1624.7 L566.7,1625.0 L568.2,1625.3 L569.7,1625.6 L571.2,1625.8 L572.7,1626.1 L574.2,1626.3 L575.7,1626.6 L577.2,1626.8 L578.7,1627.0 L580.2,1627.2 L581.7,1627.5 L583.2,1627.6 L584.7,1627.8 L586.2,1628.0 L587.7,1628.2 L589.2,1628.3 L590.7,1628.5 L592.2,1628.6 L593.7,1628.8 L595.2,1628.9 L596.7,1629.0 L598.2,1629.1 L599.7,1629.2 L601.2,1629.3 L602.7,1629.4 L604.2,1629.5 L605.7,1629.5 L607.2,1629.6 L608.7,1629.7 L610.2,1629.7 L611.7,1629.8 L613.2,1629.8 L614.7,1629.9 L616.2,1629.9 L617.7,1629.9 L619.2,1629.9 L620.7,1630.0 L622.2,1630.0 L623.7,1630.0 L625.2,1630.0 L626.7,1630.0 L628.2,1630.0 L629.7,1630.0 L631.2,1630.0 L632.7,1629.9 L634.2,1629.9 L635.7,1629.9 L637.2,1629.9 L638.7,1629.8 L640.2,1629.8 L641.7,1629.8 L643.2,1629.7 L644.7,1629.7 L646.2,1629.6 L647.7,1629.6 L649.2,1629.6 L650.7,1629.5 L652.2,1629.5 L653.7,1629.4 L655.2,1629.4 L656.7,1629.3 L658.2,1629.2 L659.7,1629.2 L661.2,1629.1 L662.7,1629.1 L664.2,1629.0 L665.7,1629.0 L667.3,1628.9 L668.8,1628.9 L670.3,1628.8 L671.8,1628.8 L673.3,1628.7 L674.8,1628.7 L676.3,1628.6 L677.8,1628.6 L679.3,1628.5 L680.8,1628.5 L682.3,1628.4 L683.8,1628.4 L685.3,1628.3 L686.8,1628.3 L688.3,1628.3 L689.8,1628.2 L691.3,1628.2 L692.8,1628.2 L694.3,1628.1 L695.8,1628.1 L697.3,1628.0 L698.8,1627.9 L700.3,1627.8 L701.8,1627.7 L703.3,1627.6 L704.8,1627.5 L706.3,1627.3 L707.8,1627.1 L709.3,1626.9 L710.8,1626.7 L712.3,1626.4 L713.8,1626.2 L715.3,1625.8 L716.8,1625.5 L718.3,1625.1 L719.8,1624.7 L721.3,1624.3 L722.8,1623.8 L724.3,1623.3 L725.8,1622.7 L727.3,1622.1 L728.8,1621.4 L730.3,1620.7 L731.8,1620.0 L733.3,1619.2 L734.8,1618.3 L736.3,1617.4 L737.8,1616.4 L739.3,1615.4 L740.8,1614.4 L742.3,1613.2 L743.8,1612.0 L745.3,1610.7 L746.8,1609.4 L748.3,1607.9 L749.8,1606.3 L751.3,1604.5 L752.8,1602.6 L754.3,1600.6 L755.8,1598.4 L757.3,1596.0 L758.8,1593.5 L760.3,1590.7 L761.8,1587.8 L763.3,1584.7 L764.8,1581.4 L766.3,1577.9 L767.8,1574.3 L769.3,1570.5 L770.8,1566.5 L772.3,1562.4 L773.8,1558.1 L775.3,1553.7" stroke="#00B050"/>
<path d="M124.0,1601.9 L125.5,1601.9 L127.0,1602.0 L128.5,1602.0 L130.0,1602.1 L131.5,1602.2 L133.0,1602.2 L134.5,1602.2 L136.0,1602.2 L137.5,1602.1 L139.0,1601.9 L140.5,1601.7 L142.0,1601.3 L143.5,1600.9 L145.0,1600.4 L146.5,1599.7 L148.0,1598.9 L149.5,1598.1 L151.0,1597.1 L152.5,1596.1 L154.0,1594.9 L155.5,1593.7 L157.0,1592.5 L158.5,1591.1 L160.0,1589.8 L161.5,1588.3 L163.0,1586.9 L164.5,1585.3 L166.0,1583.8 L167.5,1582.4 L169.0,1581.0 L170.5,1579.9 L172.0,1578.9 L173.5,1578.2 L175.0,1577.7 L176.5,1577.3 L178.0,1577.0 L179.5,1576.6 L181.0,1576.3 L182.5,1575.9 L184.0,1575.4 L185.5,1575.0 L187.0,1574.4 L188.5,1573.9 L190.0,1573.2 L191.5,1572.5 L193.0,1571.8 L194.5,1571.0 L196.0,1570.1 L197.5,1569.1 L199.0,1568.1 L200.5,1567.0 L202.0,1565.9 L203.5,1564.7 L205.0,1563.5 L206.5,1562.2 L208.0,1560.8 L209.5,1559.4 L211.0,1558.0 L212.5,1556.5 L214.0,1554.9 L215.5,1553.3 L217.0,1551.7 L218.5,1550.0 L220.0,1548.3 L221.5,1546.6 L223.0,1544.8 L224.5,1542.9 L226.0,1541.1 L227.5,1539.2 L229.0,1537.3 L230.5,1535.3 L232.0,1533.4 L233.6,1531.4 L235.1,1529.4 L236.6,1527.3 L238.1,1525.3 L239.6,1523.2 L241.1,1521.1 L242.6,1519.0 L244.1,1516.9 L245.6,1514.8 L247.1,1512.6 L248.6,1510.5 L250.1,1508.3 L251.6,1506.2 L253.1,1504.0 L254.6,1501.8 L256.1,1499.7 L257.6,1497.5 L259.1,1495.3 L260.6,1493.2 L262.1,1491.1 L263.6,1488.9 L265.1,1486.8 L266.6,1484.7 L268.1,1482.6 L269.6,1480.5 L271.1,1478.4 L272.6,1476.4 L274.1,1474.3 L275.6,1472.3 L277.1,1470.4 L278.6,1468.4 L280.1,1466.5 L281.6,1464.6 L283.1,1462.7 L284.6,1460.9 L286.1,1459.1 L287.6,1457.3 L289.1,1455.6 L290.6,1453.9 L292.1,1452.3 L293.6,1450.7 L295.1,1449.2 L296.6,1447.7 L298.1,1446.3 L299.6,1444.9 L301.1,1443.6 L302.6,1442.3 L304.1,1441.1 L305.6,1440.0 L307.1,1438.9 L308.6,1437.9 L310.1,1437.0 L311.6,1436.1 L313.1,1435.4 L314.6,1434.6 L316.1,1434.0 L317.6,1433.5 L319.1,1433.0 L320.6,1432.6 L322.1,1432.3 L323.6,1432.1 L325.1,1432.0 L326.6,1432.0 L328.1,1432.0 L329.6,1432.2 L331.1,1432.5 L332.6,1432.9 L334.1,1433.3 L335.6,1433.9 L337.1,1434.6 L338.6,1435.4 L340.1,1436.3 L341.6,1437.3 L343.1,1438.4 L344.6,1439.5 L346.1,1440.8 L347.6,1442.2 L349.1,1443.6 L350.6,1445.1 L352.1,1446.7 L353.6,1448.4 L355.1,1450.1 L356.6,1451.9 L358.1,1453.7 L359.6,1455.6 L361.1,1457.6 L362.6,1459.6 L364.1,1461.6 L365.6,1463.7 L367.1,1465.8 L368.6,1467.9 L370.1,1470.1 L371.6,1472.3 L373.1,1474.5 L374.6,1476.8 L376.1,1479.0 L377.6,1481.3 L379.1,1483.5 L380.6,1485.8 L382.1,1488.1 L383.6,1490.3 L385.1,1492.6 L386.6,1494.8 L388.1,1497.1 L389.6,1499.3 L391.1,1501.5 L392.6,1503.6 L394.1,1505.8 L395.6,1507.9 L397.1,1510.0 L398.6,1512.2 L400.1,1514.2 L401.6,1516.3 L403.1,1518.4 L404.6,1520.4 L406.1,1522.4 L407.6,1524.4 L409.1,1526.4 L410.6,1528.3 L412.1,1530.2 L413.6,1532.2 L415.1,1534.1 L416.6,1535.9 L418.1,1537.8 L419.6,1539.6 L421.1,1541.4 L422.6,1543.2 L424.1,1545.0 L425.6,1546.7 L427.1,1548.4 L428.6,1550.1 L430.1,1551.8 L431.6,1553.5 L433.1,1555.1 L434.6,1556.7 L436.1,1558.3 L437.6,1559.9 L439.1,1561.4 L440.6,1562.9 L442.1,1564.4 L443.6,1565.9 L445.1,1567.4 L446.6,1568.8 L448.1,1570.2 L449.6,1571.6 L451.2,1573.0 L452.7,1574.3 L454.2,1575.7 L455.7,1577.0 L457.2,1578.3 L458.7,1579.6 L460.2,1580.8 L461.7,1582.0 L463.2,1583.3 L464.7,1584.5 L466.2,1585.6 L467.7,1586.8 L469.2,1587.9 L470.7,1589.0 L472.2,1590.1 L473.7,1591.2 L475.2,1592.3 L476.7,1593.3 L478.2,1594.3 L479.7,1595.4 L481.2,1596.3 L482.7,1597.3 L484.2,1598.3 L485.7,1599.2 L487.2,1600.1 L488.7,1601.0 L490.2,1601.9 L491.7,1602.8 L493.2,1603.6 L494.7,1604.5 L496.2,1605.3 L497.7,1606.1 L499.2,1606.9 L500.7,1607.7 L502.2,1608.4 L503.7,1609.2 L505.2,1609.9 L506.7,1610.6 L508.2,1611.3 L509.7,1612.0 L511.2,1612.6 L512.7,1613.3 L514.2,1613.9 L515.7,1614.5 L517.2,1615.2 L518.7,1615.7 L520.2,1616.3 L521.7,1616.9 L523.2,1617.4 L524.7,1618.0 L526.2,1618.5 L527.7,1619.0 L529.2,1619.5 L530.7,1620.0 L532.2,1620.5 L533.7,1620.9 L535.2,1621.4 L536.7,1621.8 L538.2,1622.3 L539.7,1622.7 L541.2,1623.1 L542.7,1623.5 L544.2,1623.8 L545.7,1624.2 L547.2,1624.5 L548.7,1624.9 L550.2,1625.2 L551.7,1625.5 L553.2,1625.9 L554.7,1626.2 L556.2,1626.5 L557.7,1626.7 L559.2,1627.0 L560.7,1627.3 L562.2,1627.5 L563.7,1627.8 L565.2,1628.0 L566.7,1628.2 L568.2,1628.4 L569.7,1628.6 L571.2,1628.8 L572.7,1629.0 L574.2,1629.2 L575.7,1629.4 L577.2,1629.5 L578.7,1629.7 L580.2,1629.8 L581.7,1629.9 L583.2,1630.1 L584.7,1630.2 L586.2,1630.3 L587.7,1630.4 L589.2,1630.5 L590.7,1630.6 L592.2,1630.7 L593.7,1630.8 L595.2,1630.9 L596.7,1630.9 L598.2,1631.0 L599.7,1631.0 L601.2,1631.1 L602.7,1631.1 L604.2,1631.2 L605.7,1631.2 L607.2,1631.2 L608.7,1631.2 L610.2,1631.3 L611.7,1631.3 L613.2,1631.3 L614.7,1631.3 L616.2,1631.3 L617.7,1631.3 L619.2,1631.3 L620.7,1631.3 L622.2,1631.2 L623.7,1631.2 L625.2,1631.2 L626.7,1631.2 L628.2,1631.1 L629.7,1631.1 L631.2,1631.1 L632.7,1631.0 L634.2,1631.0 L635.7,1630.9 L637.2,1630.9 L638.7,1630.8 L640.2,1630.8 L641.7,1630.7 L643.2,1630.7 L644.7,1630.6 L646.2,1630.6 L647.7,1630.5 L649.2,1630.4 L650.7,1630.4 L652.2,1630.3 L653.7,1630.3 L655.2,1630.2 L656.7,1630.1 L658.2,1630.1 L659.7,1630.0 L661.2,1629.9 L662.7,1629.9 L664.2,1629.8 L665.7,1629.7 L667.3,1629.7 L668.8,1629.6 L670.3,1629.6 L671.8,1629.5 L673.3,1629.4 L674.8,1629.4 L676.3,1629.3 L677.8,1629.3 L679.3,1629.2 L680.8,1629.2 L682.3,1629.1 L683.8,1629.1 L685.3,1629.0 L686.8,1629.0 L688.3,1629.0 L689.8,1628.9 L691.3,1628.9 L692.8,1628.8 L694.3,1628.8 L695.8,1628.7 L697.3,1628.6 L698.8,1628.6 L700.3,1628.5 L701.8,1628.4 L703.3,1628.2 L704.8,1628.1 L706.3,1627.9 L707.8,1627.7 L709.3,1627.5 L710.8,1627.3 L712.3,1627.0 L713.8,1626.8 L715.3,1626.4 L716.8,1626.1 L718.3,1625.7 L719.8,1625.3 L721.3,1624.8 L722.8,1624.4 L724.3,1623.8 L725.8,1623.3 L727.3,1622.6 L728.8,1622.0 L730.3,1621.3 L731.8,1620.5 L733.3,1619.7 L734.8,1618.8 L736.3,1617.9 L737.8,1617.0 L739.3,1615.9 L740.8,1614.9 L742.3,1613.7 L743.8,1612.5 L745.3,1611.2 L746.8,1609.8 L748.3,1608.3 L749.8,1606.7 L751.3,1605.0 L752.8,1603.1 L754.3,1601.1 L755.8,1598.9 L757.3,1596.5 L758.8,1593.9 L760.3,1591.2 L761.8,1588.3 L763.3,1585.2 L764.8,1581.9 L766.3,1578.5 L767.8,1574.9 L769.3,1571.1 L770.8,1567.1 L772.3,1562.9 L773.8,1558.6 L775.3,1554.2" stroke="#92D050"/>
<path d="M124.0,1589.6 L125.5,1590.0 L127.0,1590.2 L128.5,1590.4 L130.0,1590.4 L131.5,1590.4 L133.0,1590.3 L134.5,1590.1 L136.0,1589.8 L137.5,1589.4 L139.0,1588.9 L140.5,1588.4 L142.0,1587.7 L143.5,1587.0 L145.0,1586.3 L146.5,1585.4 L148.0,1584.5 L149.5,1583.5 L151.0,1582.5 L152.5,1581.4 L154.0,1580.2 L155.5,1579.0 L157.0,1577.7 L158.5,1576.4 L160.0,1575.0 L161.5,1573.5 L163.0,1572.0 L164.5,1570.5 L166.0,1569.0 L167.5,1567.5 L169.0,1566.0 L170.5,1564.5 L172.0,1563.1 L173.5,1561.8 L175.0,1560.5 L176.5,1559.4 L178.0,1558.4 L179.5,1557.5 L181.0,1556.7 L182.5,1556.0 L184.0,1555.3 L185.5,1554.6 L187.0,1553.9 L188.5,1553.1 L190.0,1552.1 L191.5,1551.1 L193.0,1549.8 L194.5,1548.3 L196.0,1546.7 L197.5,1545.0 L199.0,1543.3 L200.5,1541.6 L202.0,1540.0 L203.5,1538.5 L205.0,1537.2 L206.5,1535.8 L208.0,1534.5 L209.5,1533.2 L211.0,1531.8 L212.5,1530.4 L214.0,1528.8 L215.5,1527.2 L217.0,1525.5 L218.5,1523.7 L220.0,1521.9 L221.5,1520.0 L223.0,1518.0 L224.5,1516.0 L226.0,1513.9 L227.5,1511.8 L229.0,1509.6 L230.5,1507.4 L232.0,1505.2 L233.6,1503.0 L235.1,1500.7 L236.6,1498.4 L238.1,1496.2 L239.6,1493.9 L241.1,1491.6 L242.6,1489.4 L244.1,1487.2 L245.6,1484.9 L247.1,1482.8 L248.6,1480.6 L250.1,1478.5 L251.6,1476.5 L253.1,1474.4 L254.6,1472.4 L256.1,1470.4 L257.6,1468.5 L259.1,1466.5 L260.6,1464.6 L262.1,1462.6 L263.6,1460.7 L265.1,1458.7 L266.6,1456.7 L268.1,1454.8 L269.6,1452.8 L271.1,1450.8 L272.6,1448.9 L274.1,1447.0 L275.6,1445.1 L277.1,1443.3 L278.6,1441.5 L280.1,1439.8 L281.6,1438.1 L283.1,1436.5 L284.6,1435.0 L286.1,1433.6 L287.6,1432.2 L289.1,1430.9 L290.6,1429.8 L292.1,1428.7 L293.6,1427.8 L295.1,1426.9 L296.6,1426.2 L298.1,1425.6 L299.6,1425.1 L301.1,1424.6 L302.6,1424.3 L304.1,1424.1 L305.6,1424.0 L307.1,1423.9 L308.6,1424.0 L310.1,1424.2 L311.6,1424.5 L313.1,1424.9 L314.6,1425.3 L316.1,1425.9 L317.6,1426.6 L319.1,1427.3 L320.6,1428.2 L322.1,1429.2 L323.6,1430.2 L325.1,1431.3 L326.6,1432.5 L328.1,1433.8 L329.6,1435.2 L331.1,1436.7 L332.6,1438.2 L334.1,1439.8 L335.6,1441.4 L337.1,1443.2 L338.6,1444.9 L340.1,1446.8 L341.6,1448.7 L343.1,1450.6 L344.6,1452.6 L346.1,1454.7 L347.6,1456.7 L349.1,1458.9 L350.6,1461.0 L352.1,1463.2 L353.6,1465.4 L355.1,1467.7 L356.6,1469.9 L358.1,1472.2 L359.6,1474.6 L361.1,1476.9 L362.6,1479.2 L364.1,1481.6 L365.6,1483.9 L367.1,1486.3 L368.6,1488.6 L370.1,1491.0 L371.6,1493.3 L373.1,1495.6 L374.6,1498.0 L376.1,1500.3 L377.6,1502.6 L379.1,1504.8 L380.6,1507.1 L382.1,1509.3 L383.6,1511.5 L385.1,1513.7 L386.6,1515.8 L388.1,1517.9 L389.6,1520.0 L391.1,1522.1 L392.6,1524.1 L394.1,1526.1 L395.6,1528.1 L397.1,1530.1 L398.6,1532.0 L400.1,1533.9 L401.6,1535.8 L403.1,1537.7 L404.6,1539.5 L406.1,1541.3 L407.6,1543.1 L409.1,1544.9 L410.6,1546.7 L412.1,1548.4 L413.6,1550.1 L415.1,1551.8 L416.6,1553.4 L418.1,1555.1 L419.6,1556.7 L421.1,1558.3 L422.6,1559.8 L424.1,1561.4 L425.6,1562.9 L427.1,1564.4 L428.6,1565.9 L430.1,1567.3 L431.6,1568.8 L433.1,1570.2 L434.6,1571.6 L436.1,1573.0 L437.6,1574.3 L439.1,1575.7 L440.6,1577.0 L442.1,1578.3 L443.6,1579.5 L445.1,1580.8 L446.6,1582.0 L448.1,1583.2 L449.6,1584.4 L451.2,1585.6 L452.7,1586.8 L454.2,1587.9 L455.7,1589.0 L457.2,1590.1 L458.7,1591.2 L460.2,1592.3 L461.7,1593.3 L463.2,1594.4 L464.7,1595.4 L466.2,1596.4 L467.7,1597.3 L469.2,1598.3 L470.7,1599.2 L472.2,1600.2 L473.7,1601.1 L475.2,1602.0 L476.7,1602.8 L478.2,1603.7 L479.7,1604.5 L481.2,1605.3 L482.7,1606.2 L484.2,1606.9 L485.7,1607.7 L487.2,1608.5 L488.7,1609.2 L490.2,1610.0 L491.7,1610.7 L493.2,1611.4 L494.7,1612.1 L496.2,1612.7 L497.7,1613.4 L499.2,1614.0 L500.7,1614.6 L502.2,1615.3 L503.7,1615.9 L505.2,1616.4 L506.7,1617.0 L508.2,1617.6 L509.7,1618.1 L511.2,1618.6 L512.7,1619.2 L514.2,1619.7 L515.7,1620.2 L517.2,1620.6 L518.7,1621.1 L520.2,1621.6 L521.7,1622.0 L523.2,1622.4 L524.7,1622.9 L526.2,1623.3 L527.7,1623.7 L529.2,1624.0 L530.7,1624.4 L532.2,1624.8 L533.7,1625.1 L535.2,1625.5 L536.7,1625.8 L538.2,1626.1 L539.7,1626.4 L541.2,1626.7 L542.7,1627.0 L544.2,1627.3 L545.7,1627.5 L547.2,1627.8 L548.7,1628.1 L550.2,1628.3 L551.7,1628.5 L553.2,1628.7 L554.7,1629.0 L556.2,1629.2 L557.7,1629.4 L559.2,1629.5 L560.7,1629.7 L562.2,1629.9 L563.7,1630.1 L565.2,1630.2 L566.7,1630.4 L568.2,1630.5 L569.7,1630.6 L571.2,1630.8 L572.7,1630.9 L574.2,1631.0 L575.7,1631.1 L577.2,1631.2 L578.7,1631.3 L580.2,1631.4 L581.7,1631.4 L583.2,1631.5 L584.7,1631.6 L586.2,1631.7 L587.7,1631.7 L589.2,1631.8 L590.7,1631.8 L592.2,1631.8 L593.7,1631.9 L595.2,1631.9 L596.7,1631.9 L598.2,1632.0 L599.7,1632.0 L601.2,1632.0 L602.7,1632.0 L604.2,1632.0 L605.7,1632.0 L607.2,1632.0 L608.7,1632.0 L610.2,1632.0 L611.7,1632.0 L613.2,1632.0 L614.7,1631.9 L616.2,1631.9 L617.7,1631.9 L619.2,1631.9 L620.7,1631.8 L622.2,1631.8 L623.7,1631.8 L625.2,1631.8 L626.7,1631.7 L628.2,1631.7 L629.7,1631.6 L631.2,1631.6 L632.7,1631.6 L634.2,1631.5 L635.7,1631.5 L637.2,1631.4 L638.7,1631.4 L640.2,1631.4 L641.7,1631.3 L643.2,1631.3 L644.7,1631.2 L646.2,1631.2 L647.7,1631.1 L649.2,1631.1 L650.7,1631.1 L652.2,1631.0 L653.7,1631.0 L655.2,1630.9 L656.7,1630.9 L658.2,1630.9 L659.7,1630.8 L661.2,1630.8 L662.7,1630.8 L664.2,1630.7 L665.7,1630.7 L667.3,1630.7 L668.8,1630.7 L670.3,1630.7 L671.8,1630.7 L673.3,1630.6 L674.8,1630.6 L676.3,1630.6 L677.8,1630.6 L679.3,1630.6 L680.8,1630.6 L682.3,1630.5 L683.8,1630.5 L685.3,1630.5 L686.8,1630.4 L688.3,1630.4 L689.8,1630.3 L691.3,1630.2 L692.8,1630.2 L694.3,1630.1 L695.8,1630.0 L697.3,1629.8 L698.8,1629.7 L700.3,1629.5 L701.8,1629.4 L703.3,1629.2 L704.8,1629.0 L706.3,1628.8 L707.8,1628.5 L709.3,1628.2 L710.8,1627.9 L712.3,1627.6 L713.8,1627.3 L715.3,1626.9 L716.8,1626.5 L718.3,1626.1 L719.8,1625.7 L721.3,1625.2 L722.8,1624.7 L724.3,1624.1 L725.8,1623.6 L727.3,1623.0 L728.8,1622.3 L730.3,1621.6 L731.8,1620.9 L733.3,1620.2 L734.8,1619.4 L736.3,1618.5 L737.8,1617.6 L739.3,1616.7 L740.8,1615.6 L742.3,1614.5 L743.8,1613.3 L745.3,1612.0 L746.8,1610.5 L748.3,1609.0 L749.8,1607.4 L751.3,1605.6 L752.8,1603.6 L754.3,1601.6 L755.8,1599.4 L757.3,1597.0 L758.8,1594.4 L760.3,1591.7 L761.8,1588.8 L763.3,1585.8 L764.8,1582.6 L766.3,1579.1 L767.8,1575.6 L769.3,1571.8 L770.8,1567.8 L772.3,1563.6 L773.8,1559.3 L775.3,1554.7" stroke="#00B0F0"/>
<path d="M124.0,1567.2 L125.5,1567.2 L127.0,1567.1 L128.5,1567.0 L130.0,1566.8 L131.5,1566.6 L133.0,1566.2 L134.5,1565.7 L136.0,1565.2 L137.5,1564.4 L139.0,1563.6 L140.5,1562.6 L142.0,1561.4 L143.5,1560.0 L145.0,1558.4 L146.5,1556.7 L148.0,1554.7 L149.5,1552.6 L151.0,1550.4 L152.5,1548.1 L154.0,1545.8 L155.5,1543.5 L157.0,1541.3 L158.5,1539.1 L160.0,1537.1 L161.5,1535.1 L163.0,1533.3 L164.5,1531.6 L166.0,1530.0 L167.5,1528.5 L169.0,1527.0 L170.5,1525.6 L172.0,1524.2 L173.5,1522.9 L175.0,1521.6 L176.5,1520.3 L178.0,1519.0 L179.5,1517.7 L181.0,1516.4 L182.5,1515.1 L184.0,1513.7 L185.5,1512.3 L187.0,1510.8 L188.5,1509.2 L190.0,1507.6 L191.5,1505.8 L193.0,1504.0 L194.5,1502.0 L196.0,1499.9 L197.5,1497.7 L199.0,1495.4 L200.5,1493.0 L202.0,1490.5 L203.5,1488.0 L205.0,1485.3 L206.5,1482.6 L208.0,1479.9 L209.5,1477.1 L211.0,1474.3 L212.5,1471.6 L214.0,1468.8 L215.5,1466.1 L217.0,1463.4 L218.5,1460.8 L220.0,1458.4 L221.5,1456.1 L223.0,1453.9 L224.5,1451.9 L226.0,1450.1 L227.5,1448.5 L229.0,1446.9 L230.5,1445.3 L232.0,1443.7 L233.6,1442.1 L235.1,1440.4 L236.6,1438.7 L238.1,1436.9 L239.6,1435.0 L241.1,1433.1 L242.6,1431.1 L244.1,1429.1 L245.6,1427.0 L247.1,1425.0 L248.6,1423.0 L250.1,1421.0 L251.6,1419.1 L253.1,1417.3 L254.6,1415.6 L256.1,1413.9 L257.6,1412.4 L259.1,1411.0 L260.6,1409.7 L262.1,1408.5 L263.6,1407.3 L265.1,1406.3 L266.6,1405.4 L268.1,1404.6 L269.6,1403.9 L271.1,1403.3 L272.6,1402.8 L274.1,1402.4 L275.6,1402.1 L277.1,1401.9 L278.6,1401.8 L280.1,1401.7 L281.6,1401.8 L283.1,1402.0 L284.6,1402.2 L286.1,1402.6 L287.6,1403.0 L289.1,1403.5 L290.6,1404.1 L292.1,1404.8 L293.6,1405.6 L295.1,1406.5 L296.6,1407.5 L298.1,1408.5 L299.6,1409.7 L301.1,1410.9 L302.6,1412.2 L304.1,1413.6 L305.6,1415.0 L307.1,1416.6 L308.6,1418.2 L310.1,1419.9 L311.6,1421.7 L313.1,1423.6 L314.6,1425.5 L316.1,1427.6 L317.6,1429.7 L319.1,1431.8 L320.6,1434.1 L322.1,1436.3 L323.6,1438.7 L325.1,1441.1 L326.6,1443.5 L328.1,1446.0 L329.6,1448.5 L331.1,1451.1 L332.6,1453.7 L334.1,1456.3 L335.6,1458.9 L337.1,1461.6 L338.6,1464.3 L340.1,1466.9 L341.6,1469.6 L343.1,1472.3 L344.6,1474.9 L346.1,1477.6 L347.6,1480.3 L349.1,1482.9 L350.6,1485.6 L352.1,1488.2 L353.6,1490.8 L355.1,1493.4 L356.6,1496.0 L358.1,1498.6 L359.6,1501.1 L361.1,1503.7 L362.6,1506.2 L364.1,1508.6 L365.6,1511.1 L367.1,1513.5 L368.6,1515.9 L370.1,1518.2 L371.6,1520.5 L373.1,1522.8 L374.6,1525.0 L376.1,1527.2 L377.6,1529.4 L379.1,1531.5 L380.6,1533.6 L382.1,1535.6 L383.6,1537.7 L385.1,1539.6 L386.6,1541.6 L388.1,1543.5 L389.6,1545.4 L391.1,1547.2 L392.6,1549.1 L394.1,1550.9 L395.6,1552.6 L397.1,1554.3 L398.6,1556.0 L400.1,1557.7 L401.6,1559.3 L403.1,1561.0 L404.6,1562.5 L406.1,1564.1 L407.6,1565.6 L409.1,1567.1 L410.6,1568.6 L412.1,1570.0 L413.6,1571.4 L415.1,1572.8 L416.6,1574.2 L418.1,1575.5 L419.6,1576.9 L421.1,1578.1 L422.6,1579.4 L424.1,1580.7 L425.6,1581.9 L427.1,1583.1 L428.6,1584.2 L430.1,1585.4 L431.6,1586.5 L433.1,1587.6 L434.6,1588.7 L436.1,1589.8 L437.6,1590.9 L439.1,1591.9 L440.6,1592.9 L442.1,1593.9 L443.6,1594.9 L445.1,1595.8 L446.6,1596.8 L448.1,1597.7 L449.6,1598.6 L451.2,1599.5 L452.7,1600.3 L454.2,1601.2 L455.7,1602.0 L457.2,1602.9 L458.7,1603.7 L460.2,1604.5 L461.7,1605.3 L463.2,1606.0 L464.7,1606.8 L466.2,1607.5 L467.7,1608.3 L469.2,1609.0 L470.7,1609.7 L472.2,1610.4 L473.7,1611.1 L475.2,1611.7 L476.7,1612.4 L478.2,1613.0 L479.7,1613.7 L481.2,1614.3 L482.7,1614.9 L484.2,1615.5 L485.7,1616.1 L487.2,1616.6 L488.7,1617.2 L490.2,1617.7 L491.7,1618.3 L493.2,1618.8 L494.7,1619.3 L496.2,1619.8 L497.7,1620.3 L499.2,1620.8 L500.7,1621.3 L502.2,1621.7 L503.7,1622.2 L505.2,1622.6 L506.7,1623.0 L508.2,1623.5 L509.7,1623.9 L511.2,1624.3 L512.7,1624.6 L514.2,1625.0 L515.7,1625.4 L517.2,1625.8 L518.7,1626.1 L520.2,1626.4 L521.7,1626.8 L523.2,1627.1 L524.7,1627.4 L526.2,1627.7 L527.7,1628.0 L529.2,1628.3 L530.7,1628.6 L532.2,1628.9 L533.7,1629.1 L535.2,1629.4 L536.7,1629.6 L538.2,1629.9 L539.7,1630.1 L541.2,1630.3 L542.7,1630.5 L544.2,1630.7 L545.7,1630.9 L547.2,1631.1 L548.7,1631.3 L550.2,1631.5 L551.7,1631.7 L553.2,1631.8 L554.7,1632.0 L556.2,1632.2 L557.7,1632.3 L559.2,1632.4 L560.7,1632.6 L562.2,1632.7 L563.7,1632.8 L565.2,1632.9 L566.7,1633.0 L568.2,1633.1 L569.7,1633.2 L571.2,1633.3 L572.7,1633.4 L574.2,1633.5 L575.7,1633.6 L577.2,1633.7 L578.7,1633.7 L580.2,1633.8 L581.7,1633.8 L583.2,1633.9 L584.7,1633.9 L586.2,1634.0 L587.7,1634.0 L589.2,1634.1 L590.7,1634.1 L592.2,1634.1 L593.7,1634.1 L595.2,1634.2 L596.7,1634.2 L598.2,1634.2 L599.7,1634.2 L601.2,1634.2 L602.7,1634.2 L604.2,1634.2 L605.7,1634.2 L607.2,1634.2 L608.7,1634.2 L610.2,1634.2 L611.7,1634.2 L613.2,1634.2 L614.7,1634.1 L616.2,1634.1 L617.7,1634.1 L619.2,1634.1 L620.7,1634.1 L622.2,1634.0 L623.7,1634.0 L625.2,1634.0 L626.7,1633.9 L628.2,1633.9 L629.7,1633.9 L631.2,1633.8 L632.7,1633.8 L634.2,1633.8 L635.7,1633.7 L637.2,1633.7 L638.7,1633.7 L640.2,1633.6 L641.7,1633.6 L643.2,1633.5 L644.7,1633.5 L646.2,1633.5 L647.7,1633.4 L649.2,1633.4 L650.7,1633.3 L652.2,1633.3 L653.7,1633.3 L655.2,1633.2 L656.7,1633.2 L658.2,1633.2 L659.7,1633.1 L661.2,1633.1 L662.7,1633.1 L664.2,1633.0 L665.7,1633.0 L667.3,1632.9 L668.8,1632.9 L670.3,1632.8 L671.8,1632.8 L673.3,1632.7 L674.8,1632.7 L676.3,1632.6 L677.8,1632.5 L679.3,1632.4 L680.8,1632.4 L682.3,1632.3 L683.8,1632.2 L685.3,1632.1 L686.8,1632.0 L688.3,1631.8 L689.8,1631.7 L691.3,1631.6 L692.8,1631.4 L694.3,1631.3 L695.8,1631.1 L697.3,1630.9 L698.8,1630.8 L700.3,1630.6 L701.8,1630.3 L703.3,1630.1 L704.8,1629.9 L706.3,1629.6 L707.8,1629.4 L709.3,1629.1 L710.8,1628.8 L712.3,1628.5 L713.8,1628.2 L715.3,1627.9 L716.8,1627.5 L718.3,1627.2 L719.8,1626.8 L721.3,1626.4 L722.8,1625.9 L724.3,1625.5 L725.8,1624.9 L727.3,1624.4 L728.8,1623.8 L730.3,1623.1 L731.8,1622.4 L733.3,1621.7 L734.8,1620.8 L736.3,1619.9 L737.8,1619.0 L739.3,1617.9 L740.8,1616.8 L742.3,1615.6 L743.8,1614.2 L745.3,1612.8 L746.8,1611.3 L748.3,1609.7 L749.8,1608.0 L751.3,1606.2 L752.8,1604.3 L754.3,1602.2 L755.8,1600.0 L757.3,1597.7 L758.8,1595.2 L760.3,1592.6 L761.8,1589.8 L763.3,1586.8 L764.8,1583.6 L766.3,1580.3 L767.8,1576.7 L769.3,1573.0 L770.8,1569.0 L772.3,1564.7 L773.8,1560.3 L775.3,1555.5" stroke="#0000FF"/>
<path d="M124.0,1415.0 L125.5,1415.8 L127.0,1416.5 L128.5,1417.0 L130.0,1417.5 L131.5,1417.9 L133.0,1418.1 L134.5,1418.1 L136.0,1418.0 L137.5,1417.7 L139.0,1417.1 L140.5,1416.4 L142.0,1415.3 L143.5,1414.1 L145.0,1412.5 L146.5,1410.6 L148.0,1408.4 L149.5,1405.9 L151.0,1403.0 L152.5,1399.8 L154.0,1396.2 L155.5,1392.1 L157.0,1387.6 L158.5,1382.7 L160.0,1377.3 L161.5,1371.4 L163.0,1365.0 L164.5,1358.0 L166.0,1350.6 L167.5,1343.4 L169.0,1336.8 L170.5,1331.2 L172.0,1326.8 L173.5,1323.8 L175.0,1321.8 L176.5,1320.7 L178.0,1320.2 L179.5,1320.1 L181.0,1320.3 L182.5,1320.7 L184.0,1321.2 L185.5,1321.6 L187.0,1321.7 L188.5,1321.6 L190.0,1321.0 L191.5,1320.0 L193.0,1318.8 L194.5,1317.4 L196.0,1316.0 L197.5,1314.6 L199.0,1313.0 L200.5,1311.4 L202.0,1309.7 L203.5,1307.8 L205.0,1305.9 L206.5,1303.8 L208.0,1301.5 L209.5,1299.1 L211.0,1296.5 L212.5,1293.8 L214.0,1291.2 L215.5,1288.7 L217.0,1286.3 L218.5,1284.2 L220.0,1282.5 L221.5,1281.3 L223.0,1280.5 L224.5,1280.1 L226.0,1280.2 L227.5,1280.5 L229.0,1281.0 L230.5,1281.7 L232.0,1282.5 L233.6,1283.4 L235.1,1284.5 L236.6,1285.6 L238.1,1286.9 L239.6,1288.2 L241.1,1289.7 L242.6,1291.2 L244.1,1292.8 L245.6,1294.4 L247.1,1296.1 L248.6,1297.9 L250.1,1299.7 L251.6,1301.5 L253.1,1303.3 L254.6,1305.2 L256.1,1307.2 L257.6,1309.2 L259.1,1311.3 L260.6,1313.5 L262.1,1315.8 L263.6,1318.3 L265.1,1320.8 L266.6,1323.6 L268.1,1326.4 L269.6,1329.5 L271.1,1332.6 L272.6,1336.0 L274.1,1339.4 L275.6,1342.9 L277.1,1346.5 L278.6,1350.3 L280.1,1354.0 L281.6,1357.9 L283.1,1361.8 L284.6,1365.8 L286.1,1369.7 L287.6,1373.7 L289.1,1377.8 L290.6,1381.8 L292.1,1385.8 L293.6,1389.7 L295.1,1393.7 L296.6,1397.6 L298.1,1401.5 L299.6,1405.4 L301.1,1409.3 L302.6,1413.1 L304.1,1416.9 L305.6,1420.7 L307.1,1424.4 L308.6,1428.1 L310.1,1431.8 L311.6,1435.5 L313.1,1439.1 L314.6,1442.7 L316.1,1446.2 L317.6,1449.7 L319.1,1453.2 L320.6,1456.6 L322.1,1460.0 L323.6,1463.4 L325.1,1466.7 L326.6,1469.9 L328.1,1473.2 L329.6,1476.3 L331.1,1479.4 L332.6,1482.5 L334.1,1485.6 L335.6,1488.5 L337.1,1491.5 L338.6,1494.3 L340.1,1497.2 L341.6,1500.0 L343.1,1502.7 L344.6,1505.4 L346.1,1508.0 L347.6,1510.6 L349.1,1513.2 L350.6,1515.7 L352.1,1518.1 L353.6,1520.5 L355.1,1522.9 L356.6,1525.2 L358.1,1527.5 L359.6,1529.8 L361.1,1532.0 L362.6,1534.1 L364.1,1536.3 L365.6,1538.3 L367.1,1540.4 L368.6,1542.4 L370.1,1544.4 L371.6,1546.3 L373.1,1548.2 L374.6,1550.0 L376.1,1551.9 L377.6,1553.7 L379.1,1555.4 L380.6,1557.1 L382.1,1558.8 L383.6,1560.5 L385.1,1562.1 L386.6,1563.7 L388.1,1565.2 L389.6,1566.8 L391.1,1568.3 L392.6,1569.7 L394.1,1571.2 L395.6,1572.6 L397.1,1574.0 L398.6,1575.3 L400.1,1576.6 L401.6,1577.9 L403.1,1579.2 L404.6,1580.5 L406.1,1581.7 L407.6,1582.9 L409.1,1584.1 L410.6,1585.2 L412.1,1586.4 L413.6,1587.5 L415.1,1588.6 L416.6,1589.6 L418.1,1590.7 L419.6,1591.7 L421.1,1592.7 L422.6,1593.7 L424.1,1594.7 L425.6,1595.7 L427.1,1596.6 L428.6,1597.6 L430.1,1598.5 L431.6,1599.4 L433.1,1600.3 L434.6,1601.1 L436.1,1602.0 L437.6,1602.8 L439.1,1603.6 L440.6,1604.5 L442.1,1605.3 L443.6,1606.0 L445.1,1606.8 L446.6,1607.6 L448.1,1608.3 L449.6,1609.0 L451.2,1609.7 L452.7,1610.5 L454.2,1611.1 L455.7,1611.8 L457.2,1612.5 L458.7,1613.1 L460.2,1613.8 L461.7,1614.4 L463.2,1615.0 L464.7,1615.6 L466.2,1616.2 L467.7,1616.8 L469.2,1617.4 L470.7,1617.9 L472.2,1618.5 L473.7,1619.0 L475.2,1619.5 L476.7,1620.0 L478.2,1620.5 L479.7,1621.0 L481.2,1621.5 L482.7,1621.9 L484.2,1622.4 L485.7,1622.8 L487.2,1623.3 L488.7,1623.7 L490.2,1624.1 L491.7,1624.5 L493.2,1624.9 L494.7,1625.3 L496.2,1625.7 L497.7,1626.1 L499.2,1626.4 L500.7,1626.8 L502.2,1627.1 L503.7,1627.4 L505.2,1627.8 L506.7,1628.1 L508.2,1628.4 L509.7,1628.7 L511.2,1629.0 L512.7,1629.2 L514.2,1629.5 L515.7,1629.8 L517.2,1630.0 L518.7,1630.3 L520.2,1630.5 L521.7,1630.8 L523.2,1631.0 L524.7,1631.2 L526.2,1631.4 L527.7,1631.6 L529.2,1631.8 L530.7,1632.0 L532.2,1632.2 L533.7,1632.4 L535.2,1632.6 L536.7,1632.7 L538.2,1632.9 L539.7,1633.1 L541.2,1633.2 L542.7,1633.4 L544.2,1633.5 L545.7,1633.6 L547.2,1633.8 L548.7,1633.9 L550.2,1634.0 L551.7,1634.1 L553.2,1634.2 L554.7,1634.3 L556.2,1634.4 L557.7,1634.5 L559.2,1634.6 L560.7,1634.7 L562.2,1634.8 L563.7,1634.9 L565.2,1635.0 L566.7,1635.0 L568.2,1635.1 L569.7,1635.2 L571.2,1635.2 L572.7,1635.3 L574.2,1635.4 L575.7,1635.4 L577.2,1635.5 L578.7,1635.5 L580.2,1635.6 L581.7,1635.6 L583.2,1635.7 L584.7,1635.7 L586.2,1635.8 L587.7,1635.8 L589.2,1635.8 L590.7,1635.9 L592.2,1635.9 L593.7,1635.9 L595.2,1636.0 L596.7,1636.0 L598.2,1636.0 L599.7,1636.0 L601.2,1636.1 L602.7,1636.1 L604.2,1636.1 L605.7,1636.1 L607.2,1636.1 L608.7,1636.2 L610.2,1636.2 L611.7,1636.2 L613.2,1636.2 L614.7,1636.2 L616.2,1636.2 L617.7,1636.2 L619.2,1636.2 L620.7,1636.2 L622.2,1636.2 L623.7,1636.2 L625.2,1636.2 L626.7,1636.2 L628.2,1636.2 L629.7,1636.2 L631.2,1636.1 L632.7,1636.1 L634.2,1636.1 L635.7,1636.1 L637.2,1636.0 L638.7,1636.0 L640.2,1636.0 L641.7,1636.0 L643.2,1635.9 L644.7,1635.9 L646.2,1635.8 L647.7,1635.8 L649.2,1635.7 L650.7,1635.7 L652.2,1635.6 L653.7,1635.6 L655.2,1635.5 L656.7,1635.5 L658.2,1635.4 L659.7,1635.3 L661.2,1635.3 L662.7,1635.2 L664.2,1635.1 L665.7,1635.0 L667.3,1635.0 L668.8,1634.9 L670.3,1634.8 L671.8,1634.7 L673.3,1634.6 L674.8,1634.5 L676.3,1634.4 L677.8,1634.3 L679.3,1634.2 L680.8,1634.1 L682.3,1634.0 L683.8,1633.9 L685.3,1633.7 L686.8,1633.6 L688.3,1633.5 L689.8,1633.4 L691.3,1633.2 L692.8,1633.1 L694.3,1632.9 L695.8,1632.8 L697.3,1632.6 L698.8,1632.5 L700.3,1632.3 L701.8,1632.2 L703.3,1632.0 L704.8,1631.8 L706.3,1631.7 L707.8,1631.5 L709.3,1631.3 L710.8,1631.0 L712.3,1630.8 L713.8,1630.5 L715.3,1630.2 L716.8,1629.8 L718.3,1629.5 L719.8,1629.1 L721.3,1628.6 L722.8,1628.1 L724.3,1627.6 L725.8,1627.0 L727.3,1626.4 L728.8,1625.7 L730.3,1625.0 L731.8,1624.2 L733.3,1623.4 L734.8,1622.5 L736.3,1621.5 L737.8,1620.4 L739.3,1619.3 L740.8,1618.1 L742.3,1616.9 L743.8,1615.5 L745.3,1614.1 L746.8,1612.6 L748.3,1611.0 L749.8,1609.3 L751.3,1607.5 L752.8,1605.6 L754.3,1603.5 L755.8,1601.4 L757.3,1599.1 L758.8,1596.7 L760.3,1594.1 L761.8,1591.3 L763.3,1588.4 L764.8,1585.3 L766.3,1582.0 L767.8,1578.6 L769.3,1574.8 L770.8,1570.9 L772.3,1566.6 L773.8,1562.0 L775.3,1556.7" stroke="#002060"/>
</g>
<rect x="468.6" y="196.3" width="246.4" height="255.5" fill="#fff" stroke="#000" stroke-width="3"/>
<line x1="484" x2="526.2" y1="287.9" y2="287.9" stroke="#FF0000" stroke-width="3"/>
<line x1="595.6" x2="637.5" y1="287.9" y2="287.9" stroke="#92D050" stroke-width="3"/>
<line x1="484" x2="526.2" y1="337.0" y2="337.0" stroke="#FF99FF" stroke-width="3"/>
<line x1="595.6" x2="637.5" y1="337.0" y2="337.0" stroke="#00B0F0" stroke-width="3"/>
<line x1="484" x2="526.2" y1="381.3" y2="381.3" stroke="#FFC000" stroke-width="3"/>
<line x1="595.6" x2="637.5" y1="381.3" y2="381.3" stroke="#0000FF" stroke-width="3"/>
<line x1="484" x2="526.2" y1="427.8" y2="427.8" stroke="#00B050" stroke-width="3"/>
<line x1="595.6" x2="637.5" y1="427.8" y2="427.8" stroke="#002060" stroke-width="3"/>
<text transform="translate(58.44,553.90) scale(1.0288,1.0571)" font-size="40.0" stroke="#000" stroke-width="0.60">0.0</text>
<text transform="translate(58.44,423.40) scale(1.0288,1.0571)" font-size="40.0" stroke="#000" stroke-width="0.60">1.0</text>
<text transform="translate(58.44,292.50) scale(1.0288,1.0571)" font-size="40.0" stroke="#000" stroke-width="0.60">2.0</text>
<text transform="translate(58.44,161.80) scale(1.0288,1.0571)" font-size="40.0" stroke="#000" stroke-width="0.60">3.0</text>
<text transform="translate(58.44,29.75) scale(1.0288,1.0571)" font-size="40.0" stroke="#000" stroke-width="0.60">4.0</text>
<text transform="translate(58.44,1104.80) scale(1.0288,1.0571)" font-size="40.0" stroke="#000" stroke-width="0.60">0.0</text>
<text transform="translate(58.44,974.10) scale(1.0288,1.0571)" font-size="40.0" stroke="#000" stroke-width="0.60">1.0</text>
<text transform="translate(58.44,843.40) scale(1.0288,1.0571)" font-size="40.0" stroke="#000" stroke-width="0.60">2.0</text>
<text transform="translate(58.44,712.70) scale(1.0288,1.0571)" font-size="40.0" stroke="#000" stroke-width="0.60">3.0</text>
<text transform="translate(58.44,1659.80) scale(1.0288,1.0571)" font-size="40.0" stroke="#000" stroke-width="0.60">0.0</text>
<text transform="translate(58.44,1529.10) scale(1.0288,1.0571)" font-size="40.0" stroke="#000" stroke-width="0.60">1.0</text>
<text transform="translate(58.44,1398.40) scale(1.0288,1.0571)" font-size="40.0" stroke="#000" stroke-width="0.60">2.0</text>
<text transform="translate(58.44,1267.80) scale(1.0288,1.0571)" font-size="40.0" stroke="#000" stroke-width="0.60">3.0</text>
<text transform="translate(93.83,1711.50) scale(0.9891,1.0484)" font-size="40.0" stroke="#000" stroke-width="0.60">10<tspan font-size="26" dy="-13">2</tspan></text>
<text transform="translate(255.88,1711.50) scale(0.9891,1.0484)" font-size="40.0" stroke="#000" stroke-width="0.60">10<tspan font-size="26" dy="-13">3</tspan></text>
<text transform="translate(417.58,1711.50) scale(0.9891,1.0484)" font-size="40.0" stroke="#000" stroke-width="0.60">10<tspan font-size="26" dy="-13">4</tspan></text>
<text transform="translate(580.83,1711.50) scale(0.9891,1.0484)" font-size="40.0" stroke="#000" stroke-width="0.60">10<tspan font-size="26" dy="-13">5</tspan></text>
<text transform="translate(741.03,1711.50) scale(0.9891,1.0484)" font-size="40.0" stroke="#000" stroke-width="0.60">10<tspan font-size="26" dy="-13">6</tspan></text>
<text transform="translate(254.94,1770.91) scale(1.0189,1.0103)" font-size="40.0" stroke="#000" stroke-width="0.60">Frequency (<tspan font-style="italic">f</tspan><tspan font-size="26" dy="8.5">mod</tspan><tspan dy="-8.5">) (Hz)</tspan></text>
<text transform="translate(162.67,64.36) scale(0.8442,0.8053)" font-size="40.0" stroke="#000" stroke-width="0.60">(a)</text>
<text transform="translate(214.25,68.59) scale(1.0943,1.0763)" font-size="40.0" stroke="#000" stroke-width="0.60">w/o plasma</text>
<text transform="translate(162.19,619.17) scale(0.8547,0.8289)" font-size="40.0" stroke="#000" stroke-width="0.60">(b)</text>
<text transform="translate(213.50,625.60) scale(1.1003,1.1500)" font-size="40.0" stroke="#000" stroke-width="0.60">He<tspan dx="-2.5"> Dam.</tspan></text>
<text transform="translate(162.19,1169.53) scale(0.8524,0.8092)" font-size="40.0" stroke="#000" stroke-width="0.60">(c)</text>
<text transform="translate(211.35,1174.37) scale(1.1182,1.1473)" font-size="40.0" stroke="#000" stroke-width="0.60">H<tspan font-size="26" dy="9">2</tspan><tspan dy="-9"> Dam.</tspan></text>
<text transform="translate(524.28,240.00) scale(1.0303,1.0000)" font-size="40.0" stroke="#000" stroke-width="0.60"><tspan font-style="italic">V</tspan><tspan font-size="26" dy="9">bias</tspan><tspan dy="-9"> (V)</tspan></text>
<text transform="translate(535.10,300.45) scale(0.8519,0.8679)" font-size="40.0" stroke="#000" stroke-width="0.60">3.0</text>
<text transform="translate(651.15,300.45) scale(0.8519,0.8679)" font-size="40.0" stroke="#000" stroke-width="0.60">2.2</text>
<text transform="translate(535.10,349.55) scale(0.8519,0.8679)" font-size="40.0" stroke="#000" stroke-width="0.60">2.8</text>
<text transform="translate(650.30,349.55) scale(0.8519,0.8679)" font-size="40.0" stroke="#000" stroke-width="0.60">2.0</text>
<text transform="translate(535.10,393.85) scale(0.8519,0.8679)" font-size="40.0" stroke="#000" stroke-width="0.60">2.6</text>
<text transform="translate(650.30,393.85) scale(0.8519,0.8679)" font-size="40.0" stroke="#000" stroke-width="0.60">1.8</text>
<text transform="translate(535.10,440.35) scale(0.8519,0.8679)" font-size="40.0" stroke="#000" stroke-width="0.60">2.4</text>
<text transform="translate(650.30,440.35) scale(0.8519,0.8679)" font-size="40.0" stroke="#000" stroke-width="0.60">1.6</text>
<text transform="translate(32.07,480.88) rotate(-90) scale(0.9916,1.0590)" font-size="40.0" stroke="#000" stroke-width="0.60"><tspan font-style="italic">G</tspan><tspan font-size="26.0" dy="9.0">dam</tspan><tspan dy="-9.0">/</tspan><tspan font-style="italic">ω</tspan> (<tspan dx="-2.3" dy="2"> </tspan><tspan font-size="48">×</tspan><tspan dx="-2.3" dy="-2"> 10</tspan><tspan font-size="26.0" dy="-11.5">6</tspan><tspan dy="11.5"> pF/cm</tspan><tspan font-size="26.0" dy="-11.5">2</tspan><tspan dy="11.5">)</tspan></text>
<text transform="translate(32.07,1030.88) rotate(-90) scale(0.9916,1.0590)" font-size="40.0" stroke="#000" stroke-width="0.60"><tspan font-style="italic">G</tspan><tspan font-size="26.0" dy="9.0">dam</tspan><tspan dy="-9.0">/</tspan><tspan font-style="italic">ω</tspan> (<tspan dx="-2.3" dy="2"> </tspan><tspan font-size="48">×</tspan><tspan dx="-2.3" dy="-2"> 10</tspan><tspan font-size="26.0" dy="-11.5">6</tspan><tspan dy="11.5"> pF/cm</tspan><tspan font-size="26.0" dy="-11.5">2</tspan><tspan dy="11.5">)</tspan></text>
<text transform="translate(32.07,1586.58) rotate(-90) scale(0.9917,1.0590)" font-size="40.0" stroke="#000" stroke-width="0.60"><tspan font-style="italic">G</tspan><tspan font-size="26.0" dy="9.0">dam</tspan><tspan dy="-9.0">/</tspan><tspan font-style="italic">ω</tspan> (<tspan dx="-2.3" dy="2"> </tspan><tspan font-size="48">×</tspan><tspan dx="-2.3" dy="-2"> 10</tspan><tspan font-size="26.0" dy="-11.5">6</tspan><tspan dy="11.5"> pF/cm</tspan><tspan font-size="26.0" dy="-11.5">2</tspan><tspan dy="11.5">)</tspan></text>
</svg></body></html>
